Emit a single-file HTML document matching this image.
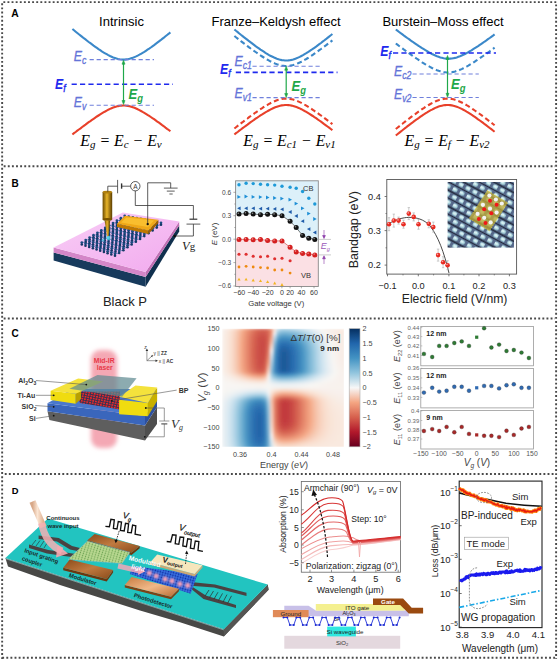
<!DOCTYPE html>
<html><head><meta charset="utf-8">
<style>
html,body{margin:0;padding:0;background:#fff;width:559px;height:660px;overflow:hidden}
svg{display:block;font-family:"Liberation Sans",sans-serif}
.serif{font-family:"Liberation Serif",serif}
</style></head><body>
<svg width="559" height="660" viewBox="0 0 559 660">
<!-- frame -->
<g stroke="#4a4a4a" stroke-width="1.9" stroke-dasharray="1.9 2.212" fill="none">
<line x1="3.35" y1="2.15" x2="557" y2="2.15"/>
<line x1="2.2" y1="657.8" x2="557" y2="657.8"/>
<line x1="2.15" y1="3.35" x2="2.15" y2="659"/>
<line x1="556.1" y1="4.4" x2="556.1" y2="659"/>
<line x1="3.7" y1="166.3" x2="555" y2="166.3"/>
<line x1="3.7" y1="318.5" x2="555" y2="318.5"/>
<line x1="4.75" y1="474" x2="555" y2="474"/>
</g>
<!-- ============ PANEL A ============ -->
<g id="A">
<text x="11.2" y="16.8" font-size="10.3" font-weight="bold">A</text>
<text x="121.5" y="26" font-size="13" text-anchor="middle">Intrinsic</text>
<text x="276" y="26" font-size="13" text-anchor="middle">Franze&#8211;Keldysh effect</text>
<text x="443" y="26" font-size="13" text-anchor="middle">Burstein&#8211;Moss effect</text>
<polyline points="72.4,29.0 74.0,30.3 75.7,31.7 77.3,33.0 78.9,34.3 80.6,35.6 82.2,36.9 83.8,38.2 85.5,39.4 87.1,40.7 88.7,42.0 90.4,43.2 92.0,44.4 93.6,45.6 95.3,46.8 96.9,47.9 98.5,49.1 100.2,50.2 101.8,51.3 103.4,52.3 105.1,53.3 106.7,54.2 108.3,55.1 110.0,56.0 111.6,56.7 113.2,57.4 114.9,58.0 116.5,58.6 118.1,59.0 119.8,59.3 121.4,59.5 123.0,59.6 124.7,59.6 126.3,59.4 127.9,59.2 129.6,58.8 131.2,58.3 132.8,57.8 134.5,57.1 136.1,56.4 137.7,55.6 139.4,54.7 141.0,53.8 142.6,52.9 144.3,51.9 145.9,50.8 147.5,49.7 149.2,48.6 150.8,47.5 152.4,46.3 154.1,45.1 155.7,43.9 157.3,42.7 159.0,41.4 160.6,40.2 162.2,38.9 163.9,37.6 165.5,36.3 167.1,35.0 168.8,33.7 170.4,32.4" stroke="#3b88c9" stroke-width="2.1" fill="none"/>
<polyline points="72.4,134.5 74.0,133.2 75.7,132.0 77.3,130.7 78.9,129.5 80.6,128.3 82.2,127.0 83.8,125.8 85.5,124.6 87.1,123.4 88.7,122.2 90.4,121.1 92.0,119.9 93.6,118.8 95.3,117.6 96.9,116.5 98.5,115.5 100.2,114.4 101.8,113.4 103.4,112.4 105.1,111.5 106.7,110.6 108.3,109.7 110.0,108.9 111.6,108.2 113.2,107.6 114.9,107.0 116.5,106.5 118.1,106.1 119.8,105.8 121.4,105.6 123.0,105.5 124.7,105.5 126.3,105.7 127.9,105.9 129.6,106.2 131.2,106.7 132.8,107.2 134.5,107.8 136.1,108.5 137.7,109.3 139.4,110.1 141.0,111.0 142.6,111.9 144.3,112.8 145.9,113.8 147.5,114.9 149.2,115.9 150.8,117.0 152.4,118.1 154.1,119.2 155.7,120.4 157.3,121.6 159.0,122.7 160.6,123.9 162.2,125.1 163.9,126.3 165.5,127.6 167.1,128.8 168.8,130.0 170.4,131.3" stroke="#e8402a" stroke-width="2.1" fill="none"/>
<line x1="89.6" y1="59.6" x2="154" y2="59.6" stroke="#7080dc" stroke-width="1.1" stroke-dasharray="4.2 2.8"/>
<line x1="89.6" y1="105.2" x2="154" y2="105.2" stroke="#7080dc" stroke-width="1.1" stroke-dasharray="4.2 2.8"/>
<line x1="71.6" y1="84.3" x2="173" y2="84.3" stroke="#1f2aee" stroke-width="1.6" stroke-dasharray="5.2 3.2"/>
<text transform="translate(73.8,61.3) scale(0.88,1)" font-size="14" font-style="italic" fill="#6474d8" stroke="#6474d8" stroke-width="0.3">E<tspan font-size="10" dy="2.9">c</tspan></text>
<text transform="translate(73.8,106.8) scale(0.88,1)" font-size="14" font-style="italic" fill="#6474d8" stroke="#6474d8" stroke-width="0.3">E<tspan font-size="10" dy="2.9">v</tspan></text>
<text transform="translate(55,88.8) scale(0.88,1)" font-size="14" font-style="italic" font-weight="bold" fill="#1f2aee">E<tspan font-size="10" dy="2.9" font-weight="normal" stroke="#1f2aee" stroke-width="0.4">f</tspan></text>
<text transform="translate(128.5,98.7) scale(0.9,1)" font-size="14.5" font-style="italic" font-weight="bold" fill="#1fa84a">E<tspan font-size="10.5" dy="3">g</tspan></text>
<line x1="123.5" y1="63.2" x2="123.5" y2="101.5" stroke="#1fa84a" stroke-width="1.2"/>
<path d="M122.0,64.2 L123.5,60.2 L125.0,64.2 Z M122.0,100.5 L123.5,104.5 L125.0,100.5 Z" fill="#1fa84a" stroke="#1fa84a" stroke-width="0.6"/>
<text x="121" y="145.7" class="serif" font-size="15.8" font-style="italic" text-anchor="middle">E<tspan font-size="11" dy="2.7">g</tspan><tspan dy="-2.7"> = E</tspan><tspan font-size="11" dy="2.7">c</tspan><tspan dy="-2.7"> &#8722; E</tspan><tspan font-size="11" dy="2.7">v</tspan></text>
<polyline points="234.4,29.5 236.0,30.8 237.7,32.1 239.3,33.5 240.9,34.8 242.6,36.1 244.2,37.4 245.8,38.6 247.5,39.9 249.1,41.2 250.7,42.4 252.4,43.7 254.0,44.9 255.6,46.1 257.3,47.3 258.9,48.4 260.5,49.6 262.2,50.7 263.8,51.7 265.4,52.8 267.1,53.8 268.7,54.8 270.3,55.7 272.0,56.5 273.6,57.3 275.2,58.0 276.9,58.7 278.5,59.3 280.1,59.7 281.8,60.1 283.4,60.3 285.0,60.5 286.7,60.5 288.3,60.4 289.9,60.2 291.6,59.9 293.2,59.5 294.8,58.9 296.5,58.3 298.1,57.6 299.7,56.9 301.4,56.0 303.0,55.2 304.6,54.2 306.3,53.2 307.9,52.2 309.5,51.1 311.2,50.0 312.8,48.9 314.4,47.8 316.1,46.6 317.7,45.4 319.3,44.2 321.0,43.0 322.6,41.7 324.2,40.5 325.9,39.2 327.5,37.9 329.1,36.6 330.8,35.3 332.4,34.0" stroke="#3b88c9" stroke-width="2.1" fill="none"/>
<polyline points="234.4,36.0 236.0,37.3 237.7,38.6 239.3,39.8 240.9,41.1 242.6,42.4 244.2,43.6 245.8,44.8 247.5,46.1 249.1,47.3 250.7,48.5 252.4,49.7 254.0,50.9 255.6,52.0 257.3,53.2 258.9,54.3 260.5,55.4 262.2,56.5 263.8,57.5 265.4,58.5 267.1,59.5 268.7,60.4 270.3,61.3 272.0,62.2 273.6,62.9 275.2,63.6 276.9,64.3 278.5,64.8 280.1,65.2 281.8,65.6 283.4,65.8 285.0,66.0 286.7,66.0 288.3,65.9 289.9,65.7 291.6,65.4 293.2,65.0 294.8,64.5 296.5,63.9 298.1,63.2 299.7,62.5 301.4,61.7 303.0,60.8 304.6,59.9 306.3,59.0 307.9,58.0 309.5,56.9 311.2,55.9 312.8,54.8 314.4,53.7 316.1,52.5 317.7,51.4 319.3,50.2 321.0,49.0 322.6,47.8 324.2,46.6 325.9,45.4 327.5,44.1 329.1,42.9 330.8,41.6 332.4,40.4" stroke="#3b88c9" stroke-width="2.1" fill="none" stroke-dasharray="5 3"/>
<polyline points="234.4,134.5 236.0,133.2 237.7,132.0 239.3,130.7 240.9,129.5 242.6,128.2 244.2,127.0 245.8,125.8 247.5,124.6 249.1,123.4 250.7,122.2 252.4,121.0 254.0,119.9 255.6,118.7 257.3,117.6 258.9,116.5 260.5,115.4 262.2,114.4 263.8,113.3 265.4,112.3 267.1,111.4 268.7,110.5 270.3,109.6 272.0,108.8 273.6,108.0 275.2,107.3 276.9,106.7 278.5,106.2 280.1,105.7 281.8,105.4 283.4,105.2 285.0,105.0 286.7,105.0 288.3,105.1 289.9,105.3 291.6,105.6 293.2,106.0 294.8,106.5 296.5,107.1 298.1,107.7 299.7,108.4 301.4,109.2 303.0,110.1 304.6,111.0 306.3,111.9 307.9,112.9 309.5,113.9 311.2,115.0 312.8,116.0 314.4,117.1 316.1,118.2 317.7,119.4 319.3,120.5 321.0,121.7 322.6,122.9 324.2,124.1 325.9,125.3 327.5,126.5 329.1,127.7 330.8,129.0 332.4,130.2" stroke="#e8402a" stroke-width="2.1" fill="none"/>
<polyline points="234.4,128.5 236.0,127.2 237.7,125.9 239.3,124.7 240.9,123.4 242.6,122.2 244.2,120.9 245.8,119.7 247.5,118.5 249.1,117.2 250.7,116.0 252.4,114.8 254.0,113.7 255.6,112.5 257.3,111.4 258.9,110.2 260.5,109.2 262.2,108.1 263.8,107.0 265.4,106.0 267.1,105.1 268.7,104.1 270.3,103.3 272.0,102.4 273.6,101.7 275.2,101.0 276.9,100.3 278.5,99.8 280.1,99.4 281.8,99.0 283.4,98.8 285.0,98.6 286.7,98.6 288.3,98.7 289.9,98.9 291.6,99.2 293.2,99.6 294.8,100.1 296.5,100.7 298.1,101.4 299.7,102.1 301.4,102.9 303.0,103.8 304.6,104.7 306.3,105.6 307.9,106.6 309.5,107.6 311.2,108.7 312.8,109.8 314.4,110.9 316.1,112.0 317.7,113.2 319.3,114.3 321.0,115.5 322.6,116.7 324.2,117.9 325.9,119.2 327.5,120.4 329.1,121.6 330.8,122.9 332.4,124.1" stroke="#e8402a" stroke-width="2.1" fill="none" stroke-dasharray="5 3"/>
<line x1="252.5" y1="66.3" x2="320" y2="66.3" stroke="#7080dc" stroke-width="1.1" stroke-dasharray="4.2 2.8"/>
<line x1="252.5" y1="97.6" x2="320" y2="97.6" stroke="#7080dc" stroke-width="1.1" stroke-dasharray="4.2 2.8"/>
<line x1="235.8" y1="72.4" x2="337.5" y2="72.4" stroke="#1f2aee" stroke-width="1.6" stroke-dasharray="5.2 3.2"/>
<text transform="translate(234.5,66.1) scale(0.88,1)" font-size="14" font-style="italic" fill="#6474d8" stroke="#6474d8" stroke-width="0.3">E<tspan font-size="10" dy="2.9">c1</tspan></text>
<text transform="translate(234.5,98.3) scale(0.88,1)" font-size="14" font-style="italic" fill="#6474d8" stroke="#6474d8" stroke-width="0.3">E<tspan font-size="10" dy="2.9">v1</tspan></text>
<text transform="translate(220,74.3) scale(0.88,1)" font-size="14" font-style="italic" font-weight="bold" fill="#1f2aee">E<tspan font-size="10" dy="2.9" font-weight="normal" stroke="#1f2aee" stroke-width="0.4">f</tspan></text>
<text transform="translate(291.5,91.1) scale(0.9,1)" font-size="14.5" font-style="italic" font-weight="bold" fill="#1fa84a">E<tspan font-size="10.5" dy="3">g</tspan></text>
<line x1="286.2" y1="69.2" x2="286.2" y2="94.5" stroke="#1fa84a" stroke-width="1.2"/>
<path d="M284.7,70.2 L286.2,66.2 L287.7,70.2 Z M284.7,93.5 L286.2,97.5 L287.7,93.5 Z" fill="#1fa84a" stroke="#1fa84a" stroke-width="0.6"/>
<text x="289.5" y="145.7" class="serif" font-size="15.8" font-style="italic" text-anchor="middle">E<tspan font-size="11" dy="2.7">g</tspan><tspan dy="-2.7"> = E</tspan><tspan font-size="11" dy="2.7">c1</tspan><tspan dy="-2.7"> &#8722; E</tspan><tspan font-size="11" dy="2.7">v1</tspan></text>
<polyline points="395.8,29.5 397.4,30.7 399.1,32.0 400.7,33.2 402.4,34.4 404.0,35.6 405.7,36.8 407.3,38.0 409.0,39.2 410.6,40.4 412.3,41.5 413.9,42.7 415.6,43.8 417.2,44.9 418.9,46.0 420.5,47.1 422.1,48.2 423.8,49.2 425.4,50.2 427.1,51.2 428.7,52.2 430.4,53.1 432.0,54.0 433.7,54.8 435.3,55.5 437.0,56.2 438.6,56.8 440.3,57.4 441.9,57.8 443.6,58.2 445.2,58.5 446.8,58.6 448.5,58.7 450.1,58.6 451.8,58.5 453.4,58.2 455.1,57.9 456.7,57.4 458.4,56.8 460.0,56.2 461.7,55.5 463.3,54.8 465.0,54.0 466.6,53.1 468.3,52.2 469.9,51.2 471.5,50.3 473.2,49.2 474.8,48.2 476.5,47.1 478.1,46.1 479.8,44.9 481.4,43.8 483.1,42.7 484.7,41.5 486.4,40.4 488.0,39.2 489.7,38.0 491.3,36.8 493.0,35.6 494.6,34.4" stroke="#3b88c9" stroke-width="2.1" fill="none"/>
<polyline points="395.8,43.5 397.4,44.7 399.1,46.0 400.7,47.2 402.4,48.4 404.0,49.6 405.7,50.8 407.3,52.0 409.0,53.2 410.6,54.4 412.3,55.6 413.9,56.7 415.6,57.9 417.2,59.0 418.9,60.1 420.5,61.2 422.1,62.3 423.8,63.3 425.4,64.3 427.1,65.3 428.7,66.2 430.4,67.1 432.0,68.0 433.7,68.8 435.3,69.5 437.0,70.2 438.6,70.8 440.3,71.3 441.9,71.8 443.6,72.1 445.2,72.3 446.8,72.5 448.5,72.5 450.1,72.4 451.8,72.2 453.4,71.9 455.1,71.5 456.7,71.0 458.4,70.5 460.0,69.8 461.7,69.1 463.3,68.3 465.0,67.5 466.6,66.6 468.3,65.7 469.9,64.7 471.5,63.7 473.2,62.7 474.8,61.6 476.5,60.5 478.1,59.4 479.8,58.3 481.4,57.2 483.1,56.0 484.7,54.9 486.4,53.7 488.0,52.5 489.7,51.3 491.3,50.1 493.0,48.9 494.6,47.7" stroke="#3b88c9" stroke-width="2.1" fill="none" stroke-dasharray="5 3"/>
<polyline points="395.8,135.5 397.4,134.2 399.1,132.9 400.7,131.6 402.4,130.3 404.0,129.0 405.7,127.7 407.3,126.4 409.0,125.1 410.6,123.9 412.3,122.7 413.9,121.4 415.6,120.2 417.2,119.0 418.9,117.9 420.5,116.7 422.1,115.6 423.8,114.5 425.4,113.4 427.1,112.4 428.7,111.4 430.4,110.4 432.0,109.6 433.7,108.7 435.3,107.9 437.0,107.2 438.6,106.6 440.3,106.1 441.9,105.7 443.6,105.3 445.2,105.1 446.8,105.0 448.5,105.0 450.1,105.1 451.8,105.4 453.4,105.7 455.1,106.2 456.7,106.7 458.4,107.4 460.0,108.1 461.7,108.9 463.3,109.7 465.0,110.6 466.6,111.6 468.3,112.6 469.9,113.6 471.5,114.7 473.2,115.8 474.8,116.9 476.5,118.1 478.1,119.3 479.8,120.5 481.4,121.7 483.1,122.9 484.7,124.2 486.4,125.4 488.0,126.7 489.7,128.0 491.3,129.2 493.0,130.5 494.6,131.8" stroke="#e8402a" stroke-width="2.1" fill="none"/>
<polyline points="395.8,129.0 397.4,127.7 399.1,126.4 400.7,125.1 402.4,123.8 404.0,122.5 405.7,121.2 407.3,119.9 409.0,118.7 410.6,117.4 412.3,116.2 413.9,115.0 415.6,113.8 417.2,112.6 418.9,111.4 420.5,110.3 422.1,109.1 423.8,108.1 425.4,107.0 427.1,106.0 428.7,105.0 430.4,104.0 432.0,103.1 433.7,102.3 435.3,101.5 437.0,100.8 438.6,100.2 440.3,99.7 441.9,99.3 443.6,98.9 445.2,98.7 446.8,98.6 448.5,98.6 450.1,98.7 451.8,99.0 453.4,99.3 455.1,99.8 456.7,100.3 458.4,101.0 460.0,101.7 461.7,102.5 463.3,103.3 465.0,104.2 466.6,105.2 468.3,106.2 469.9,107.2 471.5,108.3 473.2,109.4 474.8,110.5 476.5,111.7 478.1,112.8 479.8,114.0 481.4,115.2 483.1,116.5 484.7,117.7 486.4,118.9 488.0,120.2 489.7,121.5 491.3,122.8 493.0,124.0 494.6,125.3" stroke="#e8402a" stroke-width="2.1" fill="none" stroke-dasharray="5 3"/>
<line x1="412.5" y1="74" x2="478.8" y2="74" stroke="#7080dc" stroke-width="1.1" stroke-dasharray="4.2 2.8"/>
<line x1="412.5" y1="97.5" x2="478.8" y2="97.5" stroke="#7080dc" stroke-width="1.1" stroke-dasharray="4.2 2.8"/>
<line x1="393" y1="53" x2="496" y2="53" stroke="#1f2aee" stroke-width="1.6" stroke-dasharray="5.2 3.2"/>
<text transform="translate(394,75.8) scale(0.88,1)" font-size="14" font-style="italic" fill="#6474d8" stroke="#6474d8" stroke-width="0.3">E<tspan font-size="10" dy="2.9">c2</tspan></text>
<text transform="translate(394,99) scale(0.88,1)" font-size="14" font-style="italic" fill="#6474d8" stroke="#6474d8" stroke-width="0.3">E<tspan font-size="10" dy="2.9">v2</tspan></text>
<text transform="translate(380.2,56.2) scale(0.88,1)" font-size="14" font-style="italic" font-weight="bold" fill="#1f2aee">E<tspan font-size="10" dy="2.9" font-weight="normal" stroke="#1f2aee" stroke-width="0.4">f</tspan></text>
<text transform="translate(451,89.2) scale(0.9,1)" font-size="14.5" font-style="italic" font-weight="bold" fill="#1fa84a">E<tspan font-size="10.5" dy="3">g</tspan></text>
<line x1="447.5" y1="58.5" x2="447.5" y2="94.3" stroke="#1fa84a" stroke-width="1.2"/>
<path d="M446.0,59.5 L447.5,55.5 L449.0,59.5 Z M446.0,93.3 L447.5,97.3 L449.0,93.3 Z" fill="#1fa84a" stroke="#1fa84a" stroke-width="0.6"/>
<text x="447" y="145.7" class="serif" font-size="15.8" font-style="italic" text-anchor="middle">E<tspan font-size="11" dy="2.7">g</tspan><tspan dy="-2.7"> = E</tspan><tspan font-size="11" dy="2.7">f</tspan><tspan dy="-2.7"> &#8722; E</tspan><tspan font-size="11" dy="2.7">v2</tspan></text>
</g>
<!-- ============ PANEL B ============ -->
<g id="B">
<text x="11.6" y="187" font-size="10" font-weight="bold">B</text>
<defs>
<linearGradient id="pinkTop" x1="0" y1="0" x2="1" y2="1">
<stop offset="0" stop-color="#f8cef6"/><stop offset="1" stop-color="#f2aaee"/></linearGradient>
<linearGradient id="goldTip" x1="0" y1="0" x2="1" y2="0">
<stop offset="0" stop-color="#6b4a00"/><stop offset="0.45" stop-color="#e8b52a"/><stop offset="1" stop-color="#5a3c00"/></linearGradient>
</defs>
<polygon points="53.6,252.4 145.6,277 145.6,286.7 53.6,260.5" fill="#173a5c"/>
<polygon points="145.6,277 179.2,225.5 179.2,231.5 145.6,286.7" fill="#10304e"/>
<polygon points="53.6,247.4 145.6,272 145.6,277 53.6,252.4" fill="#d486c8"/>
<polygon points="145.6,272 179.2,221.6 179.2,225.5 145.6,277" fill="#c070b4"/>
<polygon points="53.6,247.4 122.8,212.5 179.2,221.6 145.6,272" fill="url(#pinkTop)"/>
<line x1="81.8" y1="242.6" x2="85.7" y2="242.0" stroke="#2a6aa8" stroke-width="0.6"/><line x1="81.8" y1="242.6" x2="81.8" y2="244.4" stroke="#3a88c0" stroke-width="0.9"/><circle cx="81.8" cy="242.5" r="1.35" fill="#1b4a80"/><circle cx="81.8" cy="244.5" r="1.3" fill="#143866"/><line x1="85.7" y1="240.2" x2="89.6" y2="239.5" stroke="#2a6aa8" stroke-width="0.6"/><line x1="85.7" y1="240.2" x2="85.7" y2="242.0" stroke="#3a88c0" stroke-width="0.9"/><circle cx="85.7" cy="240.1" r="1.35" fill="#1b4a80"/><circle cx="85.7" cy="242.1" r="1.3" fill="#143866"/><line x1="89.6" y1="237.7" x2="93.5" y2="237.1" stroke="#2a6aa8" stroke-width="0.6"/><line x1="89.6" y1="237.7" x2="89.6" y2="239.5" stroke="#3a88c0" stroke-width="0.9"/><circle cx="89.6" cy="237.6" r="1.35" fill="#1b4a80"/><circle cx="89.6" cy="239.6" r="1.3" fill="#143866"/><line x1="93.5" y1="235.3" x2="97.4" y2="234.7" stroke="#2a6aa8" stroke-width="0.6"/><line x1="93.5" y1="235.3" x2="93.5" y2="237.1" stroke="#3a88c0" stroke-width="0.9"/><circle cx="93.5" cy="235.2" r="1.35" fill="#1b4a80"/><circle cx="93.5" cy="237.2" r="1.3" fill="#143866"/><line x1="97.4" y1="232.9" x2="101.3" y2="232.3" stroke="#2a6aa8" stroke-width="0.6"/><line x1="97.4" y1="232.9" x2="97.4" y2="234.7" stroke="#3a88c0" stroke-width="0.9"/><circle cx="97.4" cy="232.8" r="1.35" fill="#1b4a80"/><circle cx="97.4" cy="234.8" r="1.3" fill="#143866"/><line x1="101.3" y1="230.5" x2="105.2" y2="229.8" stroke="#2a6aa8" stroke-width="0.6"/><line x1="101.3" y1="230.5" x2="101.3" y2="232.3" stroke="#3a88c0" stroke-width="0.9"/><circle cx="101.3" cy="230.4" r="1.35" fill="#1b4a80"/><circle cx="101.3" cy="232.4" r="1.3" fill="#143866"/><line x1="105.2" y1="228.0" x2="109.1" y2="227.4" stroke="#2a6aa8" stroke-width="0.6"/><line x1="105.2" y1="228.0" x2="105.2" y2="229.8" stroke="#3a88c0" stroke-width="0.9"/><circle cx="105.2" cy="227.9" r="1.35" fill="#1b4a80"/><circle cx="105.2" cy="229.9" r="1.3" fill="#143866"/><line x1="109.1" y1="225.6" x2="113.0" y2="225.0" stroke="#2a6aa8" stroke-width="0.6"/><line x1="109.1" y1="225.6" x2="109.1" y2="227.4" stroke="#3a88c0" stroke-width="0.9"/><circle cx="109.1" cy="225.5" r="1.35" fill="#1b4a80"/><circle cx="109.1" cy="227.5" r="1.3" fill="#143866"/><line x1="113.0" y1="223.2" x2="116.9" y2="222.6" stroke="#2a6aa8" stroke-width="0.6"/><line x1="113.0" y1="223.2" x2="113.0" y2="225.0" stroke="#3a88c0" stroke-width="0.9"/><circle cx="113.0" cy="223.1" r="1.35" fill="#1b4a80"/><circle cx="113.0" cy="225.1" r="1.3" fill="#143866"/><line x1="116.9" y1="220.8" x2="120.8" y2="220.1" stroke="#2a6aa8" stroke-width="0.6"/><line x1="116.9" y1="220.8" x2="116.9" y2="222.6" stroke="#3a88c0" stroke-width="0.9"/><circle cx="116.9" cy="220.7" r="1.35" fill="#1b4a80"/><circle cx="116.9" cy="222.7" r="1.3" fill="#143866"/><line x1="120.8" y1="218.3" x2="124.7" y2="217.7" stroke="#2a6aa8" stroke-width="0.6"/><line x1="120.8" y1="218.3" x2="120.8" y2="220.1" stroke="#3a88c0" stroke-width="0.9"/><circle cx="120.8" cy="218.2" r="1.35" fill="#1b4a80"/><circle cx="120.8" cy="220.2" r="1.3" fill="#143866"/><line x1="124.7" y1="215.9" x2="124.7" y2="217.7" stroke="#3a88c0" stroke-width="0.9"/><circle cx="124.7" cy="215.8" r="1.35" fill="#1b4a80"/><circle cx="124.7" cy="217.8" r="1.3" fill="#143866"/><line x1="85.5" y1="243.9" x2="89.4" y2="243.2" stroke="#2a6aa8" stroke-width="0.6"/><line x1="85.5" y1="243.9" x2="85.5" y2="245.7" stroke="#3a88c0" stroke-width="0.9"/><circle cx="85.5" cy="243.8" r="1.35" fill="#1b4a80"/><circle cx="85.5" cy="245.8" r="1.3" fill="#143866"/><line x1="89.4" y1="241.4" x2="93.4" y2="240.7" stroke="#2a6aa8" stroke-width="0.6"/><line x1="89.4" y1="241.4" x2="89.4" y2="243.2" stroke="#3a88c0" stroke-width="0.9"/><circle cx="89.4" cy="241.3" r="1.35" fill="#1b4a80"/><circle cx="89.4" cy="243.3" r="1.3" fill="#143866"/><line x1="93.4" y1="238.9" x2="97.3" y2="238.2" stroke="#2a6aa8" stroke-width="0.6"/><line x1="93.4" y1="238.9" x2="93.4" y2="240.7" stroke="#3a88c0" stroke-width="0.9"/><circle cx="93.4" cy="238.8" r="1.35" fill="#1b4a80"/><circle cx="93.4" cy="240.8" r="1.3" fill="#143866"/><line x1="97.3" y1="236.4" x2="101.2" y2="235.8" stroke="#2a6aa8" stroke-width="0.6"/><line x1="97.3" y1="236.4" x2="97.3" y2="238.2" stroke="#3a88c0" stroke-width="0.9"/><circle cx="97.3" cy="236.3" r="1.35" fill="#1b4a80"/><circle cx="97.3" cy="238.3" r="1.3" fill="#143866"/><line x1="101.2" y1="234.0" x2="105.1" y2="233.3" stroke="#2a6aa8" stroke-width="0.6"/><line x1="101.2" y1="234.0" x2="101.2" y2="235.8" stroke="#3a88c0" stroke-width="0.9"/><circle cx="101.2" cy="233.9" r="1.35" fill="#1b4a80"/><circle cx="101.2" cy="235.9" r="1.3" fill="#143866"/><line x1="105.1" y1="231.5" x2="109.1" y2="230.8" stroke="#2a6aa8" stroke-width="0.6"/><line x1="105.1" y1="231.5" x2="105.1" y2="233.3" stroke="#3a88c0" stroke-width="0.9"/><circle cx="105.1" cy="231.4" r="1.35" fill="#1b4a80"/><circle cx="105.1" cy="233.4" r="1.3" fill="#143866"/><line x1="109.1" y1="229.0" x2="113.0" y2="228.4" stroke="#2a6aa8" stroke-width="0.6"/><line x1="109.1" y1="229.0" x2="109.1" y2="230.8" stroke="#3a88c0" stroke-width="0.9"/><circle cx="109.1" cy="228.9" r="1.35" fill="#1b4a80"/><circle cx="109.1" cy="230.9" r="1.3" fill="#143866"/><line x1="113.0" y1="226.6" x2="116.9" y2="225.9" stroke="#2a6aa8" stroke-width="0.6"/><line x1="113.0" y1="226.6" x2="113.0" y2="228.4" stroke="#3a88c0" stroke-width="0.9"/><circle cx="113.0" cy="226.5" r="1.35" fill="#1b4a80"/><circle cx="113.0" cy="228.5" r="1.3" fill="#143866"/><line x1="116.9" y1="224.1" x2="120.9" y2="223.4" stroke="#2a6aa8" stroke-width="0.6"/><line x1="116.9" y1="224.1" x2="116.9" y2="225.9" stroke="#3a88c0" stroke-width="0.9"/><circle cx="116.9" cy="224.0" r="1.35" fill="#1b4a80"/><circle cx="116.9" cy="226.0" r="1.3" fill="#143866"/><line x1="120.9" y1="221.6" x2="124.8" y2="220.9" stroke="#2a6aa8" stroke-width="0.6"/><line x1="120.9" y1="221.6" x2="120.9" y2="223.4" stroke="#3a88c0" stroke-width="0.9"/><circle cx="120.9" cy="221.5" r="1.35" fill="#1b4a80"/><circle cx="120.9" cy="223.5" r="1.3" fill="#143866"/><line x1="124.8" y1="219.1" x2="128.7" y2="218.5" stroke="#2a6aa8" stroke-width="0.6"/><line x1="124.8" y1="219.1" x2="124.8" y2="220.9" stroke="#3a88c0" stroke-width="0.9"/><circle cx="124.8" cy="219.0" r="1.35" fill="#1b4a80"/><circle cx="124.8" cy="221.0" r="1.3" fill="#143866"/><line x1="128.7" y1="216.7" x2="128.7" y2="218.5" stroke="#3a88c0" stroke-width="0.9"/><circle cx="128.7" cy="216.6" r="1.35" fill="#1b4a80"/><circle cx="128.7" cy="218.6" r="1.3" fill="#143866"/><line x1="89.2" y1="245.1" x2="93.1" y2="244.4" stroke="#2a6aa8" stroke-width="0.6"/><line x1="89.2" y1="245.1" x2="89.2" y2="246.9" stroke="#3a88c0" stroke-width="0.9"/><circle cx="89.2" cy="245.0" r="1.35" fill="#1b4a80"/><circle cx="89.2" cy="247.0" r="1.3" fill="#143866"/><line x1="93.1" y1="242.6" x2="97.1" y2="241.9" stroke="#2a6aa8" stroke-width="0.6"/><line x1="93.1" y1="242.6" x2="93.1" y2="244.4" stroke="#3a88c0" stroke-width="0.9"/><circle cx="93.1" cy="242.5" r="1.35" fill="#1b4a80"/><circle cx="93.1" cy="244.5" r="1.3" fill="#143866"/><line x1="97.1" y1="240.1" x2="101.1" y2="239.4" stroke="#2a6aa8" stroke-width="0.6"/><line x1="97.1" y1="240.1" x2="97.1" y2="241.9" stroke="#3a88c0" stroke-width="0.9"/><circle cx="97.1" cy="240.0" r="1.35" fill="#1b4a80"/><circle cx="97.1" cy="242.0" r="1.3" fill="#143866"/><line x1="101.1" y1="237.6" x2="105.0" y2="236.9" stroke="#2a6aa8" stroke-width="0.6"/><line x1="101.1" y1="237.6" x2="101.1" y2="239.4" stroke="#3a88c0" stroke-width="0.9"/><circle cx="101.1" cy="237.5" r="1.35" fill="#1b4a80"/><circle cx="101.1" cy="239.5" r="1.3" fill="#143866"/><line x1="105.0" y1="235.1" x2="109.0" y2="234.3" stroke="#2a6aa8" stroke-width="0.6"/><line x1="105.0" y1="235.1" x2="105.0" y2="236.9" stroke="#3a88c0" stroke-width="0.9"/><circle cx="105.0" cy="235.0" r="1.35" fill="#1b4a80"/><circle cx="105.0" cy="237.0" r="1.3" fill="#143866"/><line x1="109.0" y1="232.5" x2="113.0" y2="231.8" stroke="#2a6aa8" stroke-width="0.6"/><line x1="109.0" y1="232.5" x2="109.0" y2="234.3" stroke="#3a88c0" stroke-width="0.9"/><circle cx="109.0" cy="232.4" r="1.35" fill="#1b4a80"/><circle cx="109.0" cy="234.4" r="1.3" fill="#143866"/><line x1="113.0" y1="230.0" x2="116.9" y2="229.3" stroke="#2a6aa8" stroke-width="0.6"/><line x1="113.0" y1="230.0" x2="113.0" y2="231.8" stroke="#3a88c0" stroke-width="0.9"/><circle cx="113.0" cy="229.9" r="1.35" fill="#1b4a80"/><circle cx="113.0" cy="231.9" r="1.3" fill="#143866"/><line x1="116.9" y1="227.5" x2="120.9" y2="226.8" stroke="#2a6aa8" stroke-width="0.6"/><line x1="116.9" y1="227.5" x2="116.9" y2="229.3" stroke="#3a88c0" stroke-width="0.9"/><circle cx="116.9" cy="227.4" r="1.35" fill="#1b4a80"/><circle cx="116.9" cy="229.4" r="1.3" fill="#143866"/><line x1="120.9" y1="225.0" x2="124.8" y2="224.3" stroke="#2a6aa8" stroke-width="0.6"/><line x1="120.9" y1="225.0" x2="120.9" y2="226.8" stroke="#3a88c0" stroke-width="0.9"/><circle cx="120.9" cy="224.9" r="1.35" fill="#1b4a80"/><circle cx="120.9" cy="226.9" r="1.3" fill="#143866"/><line x1="124.8" y1="222.5" x2="128.8" y2="221.8" stroke="#2a6aa8" stroke-width="0.6"/><line x1="124.8" y1="222.5" x2="124.8" y2="224.3" stroke="#3a88c0" stroke-width="0.9"/><circle cx="124.8" cy="222.4" r="1.35" fill="#1b4a80"/><circle cx="124.8" cy="224.4" r="1.3" fill="#143866"/><line x1="128.8" y1="220.0" x2="132.8" y2="219.3" stroke="#2a6aa8" stroke-width="0.6"/><line x1="128.8" y1="220.0" x2="128.8" y2="221.8" stroke="#3a88c0" stroke-width="0.9"/><circle cx="128.8" cy="219.9" r="1.35" fill="#1b4a80"/><circle cx="128.8" cy="221.9" r="1.3" fill="#143866"/><line x1="132.8" y1="217.5" x2="132.8" y2="219.3" stroke="#3a88c0" stroke-width="0.9"/><circle cx="132.8" cy="217.4" r="1.35" fill="#1b4a80"/><circle cx="132.8" cy="219.4" r="1.3" fill="#143866"/><line x1="92.9" y1="246.4" x2="96.9" y2="245.6" stroke="#2a6aa8" stroke-width="0.6"/><line x1="92.9" y1="246.4" x2="92.9" y2="248.2" stroke="#3a88c0" stroke-width="0.9"/><circle cx="92.9" cy="246.3" r="1.35" fill="#1b4a80"/><circle cx="92.9" cy="248.3" r="1.3" fill="#143866"/><line x1="96.9" y1="243.8" x2="100.9" y2="243.1" stroke="#2a6aa8" stroke-width="0.6"/><line x1="96.9" y1="243.8" x2="96.9" y2="245.6" stroke="#3a88c0" stroke-width="0.9"/><circle cx="96.9" cy="243.7" r="1.35" fill="#1b4a80"/><circle cx="96.9" cy="245.7" r="1.3" fill="#143866"/><line x1="100.9" y1="241.3" x2="104.8" y2="240.5" stroke="#2a6aa8" stroke-width="0.6"/><line x1="100.9" y1="241.3" x2="100.9" y2="243.1" stroke="#3a88c0" stroke-width="0.9"/><circle cx="100.9" cy="241.2" r="1.35" fill="#1b4a80"/><circle cx="100.9" cy="243.2" r="1.3" fill="#143866"/><line x1="104.8" y1="238.7" x2="108.8" y2="237.9" stroke="#2a6aa8" stroke-width="0.6"/><line x1="104.8" y1="238.7" x2="104.8" y2="240.5" stroke="#3a88c0" stroke-width="0.9"/><circle cx="104.8" cy="238.6" r="1.35" fill="#1b4a80"/><circle cx="104.8" cy="240.6" r="1.3" fill="#143866"/><line x1="108.8" y1="236.1" x2="112.8" y2="235.4" stroke="#2a6aa8" stroke-width="0.6"/><line x1="108.8" y1="236.1" x2="108.8" y2="237.9" stroke="#3a88c0" stroke-width="0.9"/><circle cx="108.8" cy="236.0" r="1.35" fill="#1b4a80"/><circle cx="108.8" cy="238.0" r="1.3" fill="#143866"/><line x1="112.8" y1="233.6" x2="116.8" y2="232.8" stroke="#2a6aa8" stroke-width="0.6"/><line x1="112.8" y1="233.6" x2="112.8" y2="235.4" stroke="#3a88c0" stroke-width="0.9"/><circle cx="112.8" cy="233.5" r="1.35" fill="#1b4a80"/><circle cx="112.8" cy="235.5" r="1.3" fill="#143866"/><line x1="116.8" y1="231.0" x2="120.8" y2="230.3" stroke="#2a6aa8" stroke-width="0.6"/><line x1="116.8" y1="231.0" x2="116.8" y2="232.8" stroke="#3a88c0" stroke-width="0.9"/><circle cx="116.8" cy="230.9" r="1.35" fill="#1b4a80"/><circle cx="116.8" cy="232.9" r="1.3" fill="#143866"/><line x1="120.8" y1="228.5" x2="124.8" y2="227.7" stroke="#2a6aa8" stroke-width="0.6"/><line x1="120.8" y1="228.5" x2="120.8" y2="230.3" stroke="#3a88c0" stroke-width="0.9"/><circle cx="120.8" cy="228.4" r="1.35" fill="#1b4a80"/><circle cx="120.8" cy="230.4" r="1.3" fill="#143866"/><line x1="124.8" y1="225.9" x2="128.8" y2="225.1" stroke="#2a6aa8" stroke-width="0.6"/><line x1="124.8" y1="225.9" x2="124.8" y2="227.7" stroke="#3a88c0" stroke-width="0.9"/><circle cx="124.8" cy="225.8" r="1.35" fill="#1b4a80"/><circle cx="124.8" cy="227.8" r="1.3" fill="#143866"/><line x1="128.8" y1="223.3" x2="132.8" y2="222.6" stroke="#2a6aa8" stroke-width="0.6"/><line x1="128.8" y1="223.3" x2="128.8" y2="225.1" stroke="#3a88c0" stroke-width="0.9"/><circle cx="128.8" cy="223.2" r="1.35" fill="#1b4a80"/><circle cx="128.8" cy="225.2" r="1.3" fill="#143866"/><line x1="132.8" y1="220.8" x2="136.8" y2="220.0" stroke="#2a6aa8" stroke-width="0.6"/><line x1="132.8" y1="220.8" x2="132.8" y2="222.6" stroke="#3a88c0" stroke-width="0.9"/><circle cx="132.8" cy="220.7" r="1.35" fill="#1b4a80"/><circle cx="132.8" cy="222.7" r="1.3" fill="#143866"/><line x1="136.8" y1="218.2" x2="136.8" y2="220.0" stroke="#3a88c0" stroke-width="0.9"/><circle cx="136.8" cy="218.1" r="1.35" fill="#1b4a80"/><circle cx="136.8" cy="220.1" r="1.3" fill="#143866"/><line x1="96.6" y1="247.6" x2="100.6" y2="246.8" stroke="#2a6aa8" stroke-width="0.6"/><line x1="96.6" y1="247.6" x2="96.6" y2="249.4" stroke="#3a88c0" stroke-width="0.9"/><circle cx="96.6" cy="247.5" r="1.35" fill="#1b4a80"/><circle cx="96.6" cy="249.5" r="1.3" fill="#143866"/><line x1="100.6" y1="245.0" x2="104.6" y2="244.2" stroke="#2a6aa8" stroke-width="0.6"/><line x1="100.6" y1="245.0" x2="100.6" y2="246.8" stroke="#3a88c0" stroke-width="0.9"/><circle cx="100.6" cy="244.9" r="1.35" fill="#1b4a80"/><circle cx="100.6" cy="246.9" r="1.3" fill="#143866"/><line x1="104.6" y1="242.4" x2="108.6" y2="241.6" stroke="#2a6aa8" stroke-width="0.6"/><line x1="104.6" y1="242.4" x2="104.6" y2="244.2" stroke="#3a88c0" stroke-width="0.9"/><circle cx="104.6" cy="242.3" r="1.35" fill="#1b4a80"/><circle cx="104.6" cy="244.3" r="1.3" fill="#143866"/><line x1="108.6" y1="239.8" x2="112.7" y2="239.0" stroke="#2a6aa8" stroke-width="0.6"/><line x1="108.6" y1="239.8" x2="108.6" y2="241.6" stroke="#3a88c0" stroke-width="0.9"/><circle cx="108.6" cy="239.7" r="1.35" fill="#1b4a80"/><circle cx="108.6" cy="241.7" r="1.3" fill="#143866"/><line x1="112.7" y1="237.2" x2="116.7" y2="236.4" stroke="#2a6aa8" stroke-width="0.6"/><line x1="112.7" y1="237.2" x2="112.7" y2="239.0" stroke="#3a88c0" stroke-width="0.9"/><circle cx="112.7" cy="237.1" r="1.35" fill="#1b4a80"/><circle cx="112.7" cy="239.1" r="1.3" fill="#143866"/><line x1="116.7" y1="234.6" x2="120.7" y2="233.8" stroke="#2a6aa8" stroke-width="0.6"/><line x1="116.7" y1="234.6" x2="116.7" y2="236.4" stroke="#3a88c0" stroke-width="0.9"/><circle cx="116.7" cy="234.5" r="1.35" fill="#1b4a80"/><circle cx="116.7" cy="236.5" r="1.3" fill="#143866"/><line x1="120.7" y1="232.0" x2="124.7" y2="231.2" stroke="#2a6aa8" stroke-width="0.6"/><line x1="120.7" y1="232.0" x2="120.7" y2="233.8" stroke="#3a88c0" stroke-width="0.9"/><circle cx="120.7" cy="231.9" r="1.35" fill="#1b4a80"/><circle cx="120.7" cy="233.9" r="1.3" fill="#143866"/><line x1="124.7" y1="229.4" x2="128.8" y2="228.6" stroke="#2a6aa8" stroke-width="0.6"/><line x1="124.7" y1="229.4" x2="124.7" y2="231.2" stroke="#3a88c0" stroke-width="0.9"/><circle cx="124.7" cy="229.3" r="1.35" fill="#1b4a80"/><circle cx="124.7" cy="231.3" r="1.3" fill="#143866"/><line x1="128.8" y1="226.8" x2="132.8" y2="226.0" stroke="#2a6aa8" stroke-width="0.6"/><line x1="128.8" y1="226.8" x2="128.8" y2="228.6" stroke="#3a88c0" stroke-width="0.9"/><circle cx="128.8" cy="226.7" r="1.35" fill="#1b4a80"/><circle cx="128.8" cy="228.7" r="1.3" fill="#143866"/><line x1="132.8" y1="224.2" x2="136.8" y2="223.4" stroke="#2a6aa8" stroke-width="0.6"/><line x1="132.8" y1="224.2" x2="132.8" y2="226.0" stroke="#3a88c0" stroke-width="0.9"/><circle cx="132.8" cy="224.1" r="1.35" fill="#1b4a80"/><circle cx="132.8" cy="226.1" r="1.3" fill="#143866"/><line x1="136.8" y1="221.6" x2="140.8" y2="220.8" stroke="#2a6aa8" stroke-width="0.6"/><line x1="136.8" y1="221.6" x2="136.8" y2="223.4" stroke="#3a88c0" stroke-width="0.9"/><circle cx="136.8" cy="221.5" r="1.35" fill="#1b4a80"/><circle cx="136.8" cy="223.5" r="1.3" fill="#143866"/><line x1="140.8" y1="219.0" x2="140.8" y2="220.8" stroke="#3a88c0" stroke-width="0.9"/><circle cx="140.8" cy="218.9" r="1.35" fill="#1b4a80"/><circle cx="140.8" cy="220.9" r="1.3" fill="#143866"/><line x1="100.2" y1="248.9" x2="104.3" y2="248.0" stroke="#2a6aa8" stroke-width="0.6"/><line x1="100.2" y1="248.9" x2="100.2" y2="250.7" stroke="#3a88c0" stroke-width="0.9"/><circle cx="100.2" cy="248.8" r="1.35" fill="#1b4a80"/><circle cx="100.2" cy="250.8" r="1.3" fill="#143866"/><line x1="104.3" y1="246.2" x2="108.4" y2="245.4" stroke="#2a6aa8" stroke-width="0.6"/><line x1="104.3" y1="246.2" x2="104.3" y2="248.0" stroke="#3a88c0" stroke-width="0.9"/><circle cx="104.3" cy="246.1" r="1.35" fill="#1b4a80"/><circle cx="104.3" cy="248.1" r="1.3" fill="#143866"/><line x1="108.4" y1="243.6" x2="112.4" y2="242.7" stroke="#2a6aa8" stroke-width="0.6"/><line x1="108.4" y1="243.6" x2="108.4" y2="245.4" stroke="#3a88c0" stroke-width="0.9"/><circle cx="108.4" cy="243.5" r="1.35" fill="#1b4a80"/><circle cx="108.4" cy="245.5" r="1.3" fill="#143866"/><line x1="112.4" y1="240.9" x2="116.5" y2="240.1" stroke="#2a6aa8" stroke-width="0.6"/><line x1="112.4" y1="240.9" x2="112.4" y2="242.7" stroke="#3a88c0" stroke-width="0.9"/><circle cx="112.4" cy="240.8" r="1.35" fill="#1b4a80"/><circle cx="112.4" cy="242.8" r="1.3" fill="#143866"/><line x1="116.5" y1="238.3" x2="120.5" y2="237.5" stroke="#2a6aa8" stroke-width="0.6"/><line x1="116.5" y1="238.3" x2="116.5" y2="240.1" stroke="#3a88c0" stroke-width="0.9"/><circle cx="116.5" cy="238.2" r="1.35" fill="#1b4a80"/><circle cx="116.5" cy="240.2" r="1.3" fill="#143866"/><line x1="120.5" y1="235.7" x2="124.6" y2="234.8" stroke="#2a6aa8" stroke-width="0.6"/><line x1="120.5" y1="235.7" x2="120.5" y2="237.5" stroke="#3a88c0" stroke-width="0.9"/><circle cx="120.5" cy="235.6" r="1.35" fill="#1b4a80"/><circle cx="120.5" cy="237.6" r="1.3" fill="#143866"/><line x1="124.6" y1="233.0" x2="128.6" y2="232.2" stroke="#2a6aa8" stroke-width="0.6"/><line x1="124.6" y1="233.0" x2="124.6" y2="234.8" stroke="#3a88c0" stroke-width="0.9"/><circle cx="124.6" cy="232.9" r="1.35" fill="#1b4a80"/><circle cx="124.6" cy="234.9" r="1.3" fill="#143866"/><line x1="128.6" y1="230.4" x2="132.7" y2="229.5" stroke="#2a6aa8" stroke-width="0.6"/><line x1="128.6" y1="230.4" x2="128.6" y2="232.2" stroke="#3a88c0" stroke-width="0.9"/><circle cx="128.6" cy="230.3" r="1.35" fill="#1b4a80"/><circle cx="128.6" cy="232.3" r="1.3" fill="#143866"/><line x1="132.7" y1="227.7" x2="136.8" y2="226.9" stroke="#2a6aa8" stroke-width="0.6"/><line x1="132.7" y1="227.7" x2="132.7" y2="229.5" stroke="#3a88c0" stroke-width="0.9"/><circle cx="132.7" cy="227.6" r="1.35" fill="#1b4a80"/><circle cx="132.7" cy="229.6" r="1.3" fill="#143866"/><line x1="136.8" y1="225.1" x2="140.8" y2="224.2" stroke="#2a6aa8" stroke-width="0.6"/><line x1="136.8" y1="225.1" x2="136.8" y2="226.9" stroke="#3a88c0" stroke-width="0.9"/><circle cx="136.8" cy="225.0" r="1.35" fill="#1b4a80"/><circle cx="136.8" cy="227.0" r="1.3" fill="#143866"/><line x1="140.8" y1="222.4" x2="144.9" y2="221.6" stroke="#2a6aa8" stroke-width="0.6"/><line x1="140.8" y1="222.4" x2="140.8" y2="224.2" stroke="#3a88c0" stroke-width="0.9"/><circle cx="140.8" cy="222.3" r="1.35" fill="#1b4a80"/><circle cx="140.8" cy="224.3" r="1.3" fill="#143866"/><line x1="144.9" y1="219.8" x2="144.9" y2="221.6" stroke="#3a88c0" stroke-width="0.9"/><circle cx="144.9" cy="219.7" r="1.35" fill="#1b4a80"/><circle cx="144.9" cy="221.7" r="1.3" fill="#143866"/><line x1="103.9" y1="250.1" x2="108.0" y2="249.2" stroke="#2a6aa8" stroke-width="0.6"/><line x1="103.9" y1="250.1" x2="103.9" y2="251.9" stroke="#3a88c0" stroke-width="0.9"/><circle cx="103.9" cy="250.0" r="1.35" fill="#1b4a80"/><circle cx="103.9" cy="252.0" r="1.3" fill="#143866"/><line x1="108.0" y1="247.4" x2="112.1" y2="246.6" stroke="#2a6aa8" stroke-width="0.6"/><line x1="108.0" y1="247.4" x2="108.0" y2="249.2" stroke="#3a88c0" stroke-width="0.9"/><circle cx="108.0" cy="247.3" r="1.35" fill="#1b4a80"/><circle cx="108.0" cy="249.3" r="1.3" fill="#143866"/><line x1="112.1" y1="244.8" x2="116.2" y2="243.9" stroke="#2a6aa8" stroke-width="0.6"/><line x1="112.1" y1="244.8" x2="112.1" y2="246.6" stroke="#3a88c0" stroke-width="0.9"/><circle cx="112.1" cy="244.7" r="1.35" fill="#1b4a80"/><circle cx="112.1" cy="246.7" r="1.3" fill="#143866"/><line x1="116.2" y1="242.1" x2="120.3" y2="241.2" stroke="#2a6aa8" stroke-width="0.6"/><line x1="116.2" y1="242.1" x2="116.2" y2="243.9" stroke="#3a88c0" stroke-width="0.9"/><circle cx="116.2" cy="242.0" r="1.35" fill="#1b4a80"/><circle cx="116.2" cy="244.0" r="1.3" fill="#143866"/><line x1="120.3" y1="239.4" x2="124.4" y2="238.5" stroke="#2a6aa8" stroke-width="0.6"/><line x1="120.3" y1="239.4" x2="120.3" y2="241.2" stroke="#3a88c0" stroke-width="0.9"/><circle cx="120.3" cy="239.3" r="1.35" fill="#1b4a80"/><circle cx="120.3" cy="241.3" r="1.3" fill="#143866"/><line x1="124.4" y1="236.7" x2="128.5" y2="235.8" stroke="#2a6aa8" stroke-width="0.6"/><line x1="124.4" y1="236.7" x2="124.4" y2="238.5" stroke="#3a88c0" stroke-width="0.9"/><circle cx="124.4" cy="236.6" r="1.35" fill="#1b4a80"/><circle cx="124.4" cy="238.6" r="1.3" fill="#143866"/><line x1="128.5" y1="234.0" x2="132.5" y2="233.1" stroke="#2a6aa8" stroke-width="0.6"/><line x1="128.5" y1="234.0" x2="128.5" y2="235.8" stroke="#3a88c0" stroke-width="0.9"/><circle cx="128.5" cy="233.9" r="1.35" fill="#1b4a80"/><circle cx="128.5" cy="235.9" r="1.3" fill="#143866"/><line x1="132.5" y1="231.3" x2="136.6" y2="230.4" stroke="#2a6aa8" stroke-width="0.6"/><line x1="132.5" y1="231.3" x2="132.5" y2="233.1" stroke="#3a88c0" stroke-width="0.9"/><circle cx="132.5" cy="231.2" r="1.35" fill="#1b4a80"/><circle cx="132.5" cy="233.2" r="1.3" fill="#143866"/><line x1="136.6" y1="228.6" x2="140.7" y2="227.7" stroke="#2a6aa8" stroke-width="0.6"/><line x1="136.6" y1="228.6" x2="136.6" y2="230.4" stroke="#3a88c0" stroke-width="0.9"/><circle cx="136.6" cy="228.5" r="1.35" fill="#1b4a80"/><circle cx="136.6" cy="230.5" r="1.3" fill="#143866"/><line x1="140.7" y1="225.9" x2="144.8" y2="225.1" stroke="#2a6aa8" stroke-width="0.6"/><line x1="140.7" y1="225.9" x2="140.7" y2="227.7" stroke="#3a88c0" stroke-width="0.9"/><circle cx="140.7" cy="225.8" r="1.35" fill="#1b4a80"/><circle cx="140.7" cy="227.8" r="1.3" fill="#143866"/><line x1="144.8" y1="223.3" x2="148.9" y2="222.4" stroke="#2a6aa8" stroke-width="0.6"/><line x1="144.8" y1="223.3" x2="144.8" y2="225.1" stroke="#3a88c0" stroke-width="0.9"/><circle cx="144.8" cy="223.2" r="1.35" fill="#1b4a80"/><circle cx="144.8" cy="225.2" r="1.3" fill="#143866"/><line x1="148.9" y1="220.6" x2="148.9" y2="222.4" stroke="#3a88c0" stroke-width="0.9"/><circle cx="148.9" cy="220.5" r="1.35" fill="#1b4a80"/><circle cx="148.9" cy="222.5" r="1.3" fill="#143866"/><line x1="107.6" y1="251.4" x2="111.7" y2="250.5" stroke="#2a6aa8" stroke-width="0.6"/><line x1="107.6" y1="251.4" x2="107.6" y2="253.2" stroke="#3a88c0" stroke-width="0.9"/><circle cx="107.6" cy="251.3" r="1.35" fill="#1b4a80"/><circle cx="107.6" cy="253.3" r="1.3" fill="#143866"/><line x1="111.7" y1="248.7" x2="115.9" y2="247.7" stroke="#2a6aa8" stroke-width="0.6"/><line x1="111.7" y1="248.7" x2="111.7" y2="250.5" stroke="#3a88c0" stroke-width="0.9"/><circle cx="111.7" cy="248.6" r="1.35" fill="#1b4a80"/><circle cx="111.7" cy="250.6" r="1.3" fill="#143866"/><line x1="115.9" y1="245.9" x2="120.0" y2="245.0" stroke="#2a6aa8" stroke-width="0.6"/><line x1="115.9" y1="245.9" x2="115.9" y2="247.7" stroke="#3a88c0" stroke-width="0.9"/><circle cx="115.9" cy="245.8" r="1.35" fill="#1b4a80"/><circle cx="115.9" cy="247.8" r="1.3" fill="#143866"/><line x1="120.0" y1="243.2" x2="124.1" y2="242.3" stroke="#2a6aa8" stroke-width="0.6"/><line x1="120.0" y1="243.2" x2="120.0" y2="245.0" stroke="#3a88c0" stroke-width="0.9"/><circle cx="120.0" cy="243.1" r="1.35" fill="#1b4a80"/><circle cx="120.0" cy="245.1" r="1.3" fill="#143866"/><line x1="124.1" y1="240.5" x2="128.2" y2="239.5" stroke="#2a6aa8" stroke-width="0.6"/><line x1="124.1" y1="240.5" x2="124.1" y2="242.3" stroke="#3a88c0" stroke-width="0.9"/><circle cx="124.1" cy="240.4" r="1.35" fill="#1b4a80"/><circle cx="124.1" cy="242.4" r="1.3" fill="#143866"/><line x1="128.2" y1="237.7" x2="132.3" y2="236.8" stroke="#2a6aa8" stroke-width="0.6"/><line x1="128.2" y1="237.7" x2="128.2" y2="239.5" stroke="#3a88c0" stroke-width="0.9"/><circle cx="128.2" cy="237.6" r="1.35" fill="#1b4a80"/><circle cx="128.2" cy="239.6" r="1.3" fill="#143866"/><line x1="132.3" y1="235.0" x2="136.5" y2="234.1" stroke="#2a6aa8" stroke-width="0.6"/><line x1="132.3" y1="235.0" x2="132.3" y2="236.8" stroke="#3a88c0" stroke-width="0.9"/><circle cx="132.3" cy="234.9" r="1.35" fill="#1b4a80"/><circle cx="132.3" cy="236.9" r="1.3" fill="#143866"/><line x1="136.5" y1="232.3" x2="140.6" y2="231.3" stroke="#2a6aa8" stroke-width="0.6"/><line x1="136.5" y1="232.3" x2="136.5" y2="234.1" stroke="#3a88c0" stroke-width="0.9"/><circle cx="136.5" cy="232.2" r="1.35" fill="#1b4a80"/><circle cx="136.5" cy="234.2" r="1.3" fill="#143866"/><line x1="140.6" y1="229.5" x2="144.7" y2="228.6" stroke="#2a6aa8" stroke-width="0.6"/><line x1="140.6" y1="229.5" x2="140.6" y2="231.3" stroke="#3a88c0" stroke-width="0.9"/><circle cx="140.6" cy="229.4" r="1.35" fill="#1b4a80"/><circle cx="140.6" cy="231.4" r="1.3" fill="#143866"/><line x1="144.7" y1="226.8" x2="148.8" y2="225.9" stroke="#2a6aa8" stroke-width="0.6"/><line x1="144.7" y1="226.8" x2="144.7" y2="228.6" stroke="#3a88c0" stroke-width="0.9"/><circle cx="144.7" cy="226.7" r="1.35" fill="#1b4a80"/><circle cx="144.7" cy="228.7" r="1.3" fill="#143866"/><line x1="148.8" y1="224.1" x2="152.9" y2="223.1" stroke="#2a6aa8" stroke-width="0.6"/><line x1="148.8" y1="224.1" x2="148.8" y2="225.9" stroke="#3a88c0" stroke-width="0.9"/><circle cx="148.8" cy="224.0" r="1.35" fill="#1b4a80"/><circle cx="148.8" cy="226.0" r="1.3" fill="#143866"/><line x1="152.9" y1="221.3" x2="152.9" y2="223.1" stroke="#3a88c0" stroke-width="0.9"/><circle cx="152.9" cy="221.2" r="1.35" fill="#1b4a80"/><circle cx="152.9" cy="223.2" r="1.3" fill="#143866"/><line x1="111.3" y1="252.6" x2="115.5" y2="251.7" stroke="#2a6aa8" stroke-width="0.6"/><line x1="111.3" y1="252.6" x2="111.3" y2="254.4" stroke="#3a88c0" stroke-width="0.9"/><circle cx="111.3" cy="252.5" r="1.35" fill="#1b4a80"/><circle cx="111.3" cy="254.5" r="1.3" fill="#143866"/><line x1="115.5" y1="249.9" x2="119.6" y2="248.9" stroke="#2a6aa8" stroke-width="0.6"/><line x1="115.5" y1="249.9" x2="115.5" y2="251.7" stroke="#3a88c0" stroke-width="0.9"/><circle cx="115.5" cy="249.8" r="1.35" fill="#1b4a80"/><circle cx="115.5" cy="251.8" r="1.3" fill="#143866"/><line x1="119.6" y1="247.1" x2="123.8" y2="246.1" stroke="#2a6aa8" stroke-width="0.6"/><line x1="119.6" y1="247.1" x2="119.6" y2="248.9" stroke="#3a88c0" stroke-width="0.9"/><circle cx="119.6" cy="247.0" r="1.35" fill="#1b4a80"/><circle cx="119.6" cy="249.0" r="1.3" fill="#143866"/><line x1="123.8" y1="244.3" x2="127.9" y2="243.3" stroke="#2a6aa8" stroke-width="0.6"/><line x1="123.8" y1="244.3" x2="123.8" y2="246.1" stroke="#3a88c0" stroke-width="0.9"/><circle cx="123.8" cy="244.2" r="1.35" fill="#1b4a80"/><circle cx="123.8" cy="246.2" r="1.3" fill="#143866"/><line x1="127.9" y1="241.5" x2="132.1" y2="240.6" stroke="#2a6aa8" stroke-width="0.6"/><line x1="127.9" y1="241.5" x2="127.9" y2="243.3" stroke="#3a88c0" stroke-width="0.9"/><circle cx="127.9" cy="241.4" r="1.35" fill="#1b4a80"/><circle cx="127.9" cy="243.4" r="1.3" fill="#143866"/><line x1="132.1" y1="238.8" x2="136.2" y2="237.8" stroke="#2a6aa8" stroke-width="0.6"/><line x1="132.1" y1="238.8" x2="132.1" y2="240.6" stroke="#3a88c0" stroke-width="0.9"/><circle cx="132.1" cy="238.7" r="1.35" fill="#1b4a80"/><circle cx="132.1" cy="240.7" r="1.3" fill="#143866"/><line x1="136.2" y1="236.0" x2="140.4" y2="235.0" stroke="#2a6aa8" stroke-width="0.6"/><line x1="136.2" y1="236.0" x2="136.2" y2="237.8" stroke="#3a88c0" stroke-width="0.9"/><circle cx="136.2" cy="235.9" r="1.35" fill="#1b4a80"/><circle cx="136.2" cy="237.9" r="1.3" fill="#143866"/><line x1="140.4" y1="233.2" x2="144.5" y2="232.2" stroke="#2a6aa8" stroke-width="0.6"/><line x1="140.4" y1="233.2" x2="140.4" y2="235.0" stroke="#3a88c0" stroke-width="0.9"/><circle cx="140.4" cy="233.1" r="1.35" fill="#1b4a80"/><circle cx="140.4" cy="235.1" r="1.3" fill="#143866"/><line x1="144.5" y1="230.4" x2="148.7" y2="229.5" stroke="#2a6aa8" stroke-width="0.6"/><line x1="144.5" y1="230.4" x2="144.5" y2="232.2" stroke="#3a88c0" stroke-width="0.9"/><circle cx="144.5" cy="230.3" r="1.35" fill="#1b4a80"/><circle cx="144.5" cy="232.3" r="1.3" fill="#143866"/><line x1="148.7" y1="227.7" x2="152.8" y2="226.7" stroke="#2a6aa8" stroke-width="0.6"/><line x1="148.7" y1="227.7" x2="148.7" y2="229.5" stroke="#3a88c0" stroke-width="0.9"/><circle cx="148.7" cy="227.6" r="1.35" fill="#1b4a80"/><circle cx="148.7" cy="229.6" r="1.3" fill="#143866"/><line x1="152.8" y1="224.9" x2="157.0" y2="223.9" stroke="#2a6aa8" stroke-width="0.6"/><line x1="152.8" y1="224.9" x2="152.8" y2="226.7" stroke="#3a88c0" stroke-width="0.9"/><circle cx="152.8" cy="224.8" r="1.35" fill="#1b4a80"/><circle cx="152.8" cy="226.8" r="1.3" fill="#143866"/><line x1="157.0" y1="222.1" x2="157.0" y2="223.9" stroke="#3a88c0" stroke-width="0.9"/><circle cx="157.0" cy="222.0" r="1.35" fill="#1b4a80"/><circle cx="157.0" cy="224.0" r="1.3" fill="#143866"/><line x1="115.0" y1="253.9" x2="119.2" y2="252.9" stroke="#2a6aa8" stroke-width="0.6"/><line x1="115.0" y1="253.9" x2="115.0" y2="255.7" stroke="#3a88c0" stroke-width="0.9"/><circle cx="115.0" cy="253.8" r="1.35" fill="#1b4a80"/><circle cx="115.0" cy="255.8" r="1.3" fill="#143866"/><line x1="119.2" y1="251.1" x2="123.4" y2="250.1" stroke="#2a6aa8" stroke-width="0.6"/><line x1="119.2" y1="251.1" x2="119.2" y2="252.9" stroke="#3a88c0" stroke-width="0.9"/><circle cx="119.2" cy="251.0" r="1.35" fill="#1b4a80"/><circle cx="119.2" cy="253.0" r="1.3" fill="#143866"/><line x1="123.4" y1="248.3" x2="127.5" y2="247.2" stroke="#2a6aa8" stroke-width="0.6"/><line x1="123.4" y1="248.3" x2="123.4" y2="250.1" stroke="#3a88c0" stroke-width="0.9"/><circle cx="123.4" cy="248.2" r="1.35" fill="#1b4a80"/><circle cx="123.4" cy="250.2" r="1.3" fill="#143866"/><line x1="127.5" y1="245.4" x2="131.7" y2="244.4" stroke="#2a6aa8" stroke-width="0.6"/><line x1="127.5" y1="245.4" x2="127.5" y2="247.2" stroke="#3a88c0" stroke-width="0.9"/><circle cx="127.5" cy="245.3" r="1.35" fill="#1b4a80"/><circle cx="127.5" cy="247.3" r="1.3" fill="#143866"/><line x1="131.7" y1="242.6" x2="135.9" y2="241.6" stroke="#2a6aa8" stroke-width="0.6"/><line x1="131.7" y1="242.6" x2="131.7" y2="244.4" stroke="#3a88c0" stroke-width="0.9"/><circle cx="131.7" cy="242.5" r="1.35" fill="#1b4a80"/><circle cx="131.7" cy="244.5" r="1.3" fill="#143866"/><line x1="135.9" y1="239.8" x2="140.1" y2="238.8" stroke="#2a6aa8" stroke-width="0.6"/><line x1="135.9" y1="239.8" x2="135.9" y2="241.6" stroke="#3a88c0" stroke-width="0.9"/><circle cx="135.9" cy="239.7" r="1.35" fill="#1b4a80"/><circle cx="135.9" cy="241.7" r="1.3" fill="#143866"/><line x1="140.1" y1="237.0" x2="144.3" y2="236.0" stroke="#2a6aa8" stroke-width="0.6"/><line x1="140.1" y1="237.0" x2="140.1" y2="238.8" stroke="#3a88c0" stroke-width="0.9"/><circle cx="140.1" cy="236.9" r="1.35" fill="#1b4a80"/><circle cx="140.1" cy="238.9" r="1.3" fill="#143866"/><line x1="144.3" y1="234.2" x2="148.5" y2="233.2" stroke="#2a6aa8" stroke-width="0.6"/><line x1="144.3" y1="234.2" x2="144.3" y2="236.0" stroke="#3a88c0" stroke-width="0.9"/><circle cx="144.3" cy="234.1" r="1.35" fill="#1b4a80"/><circle cx="144.3" cy="236.1" r="1.3" fill="#143866"/><line x1="148.5" y1="231.4" x2="152.6" y2="230.3" stroke="#2a6aa8" stroke-width="0.6"/><line x1="148.5" y1="231.4" x2="148.5" y2="233.2" stroke="#3a88c0" stroke-width="0.9"/><circle cx="148.5" cy="231.3" r="1.35" fill="#1b4a80"/><circle cx="148.5" cy="233.3" r="1.3" fill="#143866"/><line x1="152.6" y1="228.5" x2="156.8" y2="227.5" stroke="#2a6aa8" stroke-width="0.6"/><line x1="152.6" y1="228.5" x2="152.6" y2="230.3" stroke="#3a88c0" stroke-width="0.9"/><circle cx="152.6" cy="228.4" r="1.35" fill="#1b4a80"/><circle cx="152.6" cy="230.4" r="1.3" fill="#143866"/><line x1="156.8" y1="225.7" x2="161.0" y2="224.7" stroke="#2a6aa8" stroke-width="0.6"/><line x1="156.8" y1="225.7" x2="156.8" y2="227.5" stroke="#3a88c0" stroke-width="0.9"/><circle cx="156.8" cy="225.6" r="1.35" fill="#1b4a80"/><circle cx="156.8" cy="227.6" r="1.3" fill="#143866"/><line x1="161.0" y1="222.9" x2="161.0" y2="224.7" stroke="#3a88c0" stroke-width="0.9"/><circle cx="161.0" cy="222.8" r="1.35" fill="#1b4a80"/><circle cx="161.0" cy="224.8" r="1.3" fill="#143866"/><circle cx="108.5" cy="238" r="2.2" fill="#50e0f0" opacity="0.7"/><circle cx="103" cy="240" r="1.5" fill="#50d8f0" opacity="0.6"/>
<polygon points="117,223.7 148.5,230.6 148.5,234 117,227" fill="#c07800"/>
<polygon points="148.5,230.6 158.4,219.8 158.4,223 148.5,234" fill="#a06000"/>
<polygon points="117,223.7 125,215.8 158.4,219.8 148.5,230.6" fill="#f0a818"/>
<polygon points="121,222.5 126.5,217.5 154,220.5 148,227" fill="#fcc838" opacity="0.7"/>
<rect x="102.6" y="192" width="9.6" height="27.5" fill="url(#goldTip)"/>
<ellipse cx="107.4" cy="192.2" rx="4.8" ry="1.4" fill="#b08010"/>
<ellipse cx="107.4" cy="219.5" rx="4.8" ry="1.4" fill="#7a5400"/>
<polygon points="104.6,220.5 110.2,220.5 108.6,236.5 107.2,236.5" fill="url(#goldTip)"/>
<circle cx="108" cy="237.5" r="1.6" fill="#5fd8f0" opacity="0.8"/>
<g stroke="#333" stroke-width="0.8" fill="none">
<polyline points="107.8,191.7 107.8,186.2 117.6,186.2"/>
<line x1="117.6" y1="179.9" x2="117.6" y2="193.3"/>
<line x1="121.6" y1="183.4" x2="121.6" y2="188.7" stroke-width="1.4"/>
<line x1="121.6" y1="186.2" x2="130.5" y2="186.2"/>
<circle cx="135.3" cy="186.2" r="4.7"/>
<polyline points="135.3,190.9 135.3,205.5 193.4,205.5 193.4,219.2"/>
<line x1="189.5" y1="219.2" x2="197.3" y2="219.2" stroke-width="1.2"/>
<line x1="186.5" y1="224.1" x2="200.3" y2="224.1"/>
<polyline points="193.4,224.1 193.4,236 174.7,236"/>
<polyline points="147.7,224.1 147.7,182.8 170.7,182.8 170.7,188.1"/>
<line x1="163.9" y1="188.1" x2="177.6" y2="188.1"/>
<line x1="166.8" y1="191.1" x2="174.7" y2="191.1"/>
<line x1="169.4" y1="194" x2="172.7" y2="194"/>
</g>
<text x="135.3" y="189" font-size="6.5" text-anchor="middle" fill="#333">A</text>
<circle cx="147.7" cy="224.1" r="1.2" fill="#111"/>
<circle cx="174.7" cy="236" r="1.2" fill="#111"/>
<text x="182" y="249.5" class="serif" font-size="12.5" font-style="italic" fill="#222">V<tspan font-style="normal" font-size="11" dy="0.5">g</tspan></text>
<text x="125" y="306" font-size="13" text-anchor="middle" fill="#222">Black P</text>
<polygon points="235.6,180.8 318.3,180.8 318.3,239.4 314.8,239.4 308.8,238.3 302.6,235.5 296.2,227.6 290.1,221.2 282,215.8 274.7,214.7 267.6,214.3 260.5,214.7 253.2,214.1 246.1,213.6 239,214.1 235.6,214" fill="#dcf0f9"/>
<polygon points="235.6,239.4 239,239.4 246.1,239.4 253.2,239.8 260.5,239.4 267.6,240.5 274.7,240.9 282,240.9 290.1,247.3 296.2,251.9 302.6,253.4 308.8,254 314.8,254.9 318.3,254.9 318.3,286.5 235.6,286.5" fill="#fbe0e4"/>
<polyline points="239,214.1 246.1,213.6 253.2,214.1 260.5,214.7 267.6,214.3 274.7,214.7 282,215.8 290.1,221.2 296.2,227.6 302.6,235.5 308.8,238.3 314.8,239.4" fill="none" stroke="#222" stroke-width="0.6"/>
<polyline points="239,239.4 246.1,239.4 253.2,239.8 260.5,239.4 267.6,240.5 274.7,240.9 282,240.9 290.1,247.3 296.2,251.9 302.6,253.4 308.8,254 314.8,254.9" fill="none" stroke="#c33" stroke-width="0.6"/>
<rect x="235.6" y="180.8" width="82.70000000000002" height="105.69999999999999" fill="none" stroke="#888" stroke-width="0.9"/>
<circle cx="239" cy="184.7" r="1.7" fill="#1e9ad8"/><circle cx="246.1" cy="183.2" r="1.7" fill="#1e9ad8"/><circle cx="253.2" cy="183.6" r="1.7" fill="#1e9ad8"/><circle cx="260.5" cy="184.2" r="1.7" fill="#1e9ad8"/><circle cx="267.6" cy="184.7" r="1.7" fill="#1e9ad8"/><circle cx="274.7" cy="185.1" r="1.7" fill="#1e9ad8"/><circle cx="282" cy="186.2" r="1.7" fill="#1e9ad8"/><circle cx="290.1" cy="187.2" r="1.7" fill="#1e9ad8"/><circle cx="296.2" cy="188.3" r="1.7" fill="#1e9ad8"/><circle cx="302.6" cy="191.5" r="1.7" fill="#1e9ad8"/><circle cx="308.8" cy="198.2" r="1.7" fill="#1e9ad8"/><circle cx="314.8" cy="204" r="1.7" fill="#1e9ad8"/><polygon points="237.4,195.0 240.9,196.9 237.4,198.8" fill="#1e8fd6"/><polygon points="244.5,194.6 248.0,196.5 244.5,198.4" fill="#1e8fd6"/><polygon points="251.6,195.0 255.1,196.9 251.6,198.8" fill="#1e8fd6"/><polygon points="258.9,195.2 262.4,197.1 258.9,199.0" fill="#1e8fd6"/><polygon points="266.0,195.6 269.5,197.5 266.0,199.4" fill="#1e8fd6"/><polygon points="273.09999999999997,196.1 276.59999999999997,198 273.09999999999997,199.9" fill="#1e8fd6"/><polygon points="280.4,196.7 283.9,198.6 280.4,200.5" fill="#1e8fd6"/><polygon points="288.5,197.79999999999998 292.0,199.7 288.5,201.6" fill="#1e8fd6"/><polygon points="294.59999999999997,201.7 298.09999999999997,203.6 294.59999999999997,205.5" fill="#1e8fd6"/><polygon points="301.0,206.4 304.5,208.3 301.0,210.20000000000002" fill="#1e8fd6"/><polygon points="307.2,211.7 310.7,213.6 307.2,215.5" fill="#1e8fd6"/><polygon points="313.2,217.1 316.7,219 313.2,220.9" fill="#1e8fd6"/><polygon points="240.6,206.4 237.1,208.3 240.6,210.20000000000002" fill="#1f5caa"/><polygon points="247.7,206.4 244.2,208.3 247.7,210.20000000000002" fill="#1f5caa"/><polygon points="254.79999999999998,206.4 251.29999999999998,208.3 254.79999999999998,210.20000000000002" fill="#1f5caa"/><polygon points="262.1,206.79999999999998 258.6,208.7 262.1,210.6" fill="#1f5caa"/><polygon points="269.20000000000005,206.79999999999998 265.70000000000005,208.7 269.20000000000005,210.6" fill="#1f5caa"/><polygon points="276.3,207.0 272.8,208.9 276.3,210.8" fill="#1f5caa"/><polygon points="283.6,207.4 280.1,209.3 283.6,211.20000000000002" fill="#1f5caa"/><polygon points="291.70000000000005,210.1 288.20000000000005,212 291.70000000000005,213.9" fill="#1f5caa"/><polygon points="297.8,214.1 294.3,216 297.8,217.9" fill="#1f5caa"/><polygon points="304.20000000000005,219.29999999999998 300.70000000000005,221.2 304.20000000000005,223.1" fill="#1f5caa"/><polygon points="310.40000000000003,227.2 306.90000000000003,229.1 310.40000000000003,231.0" fill="#1f5caa"/><polygon points="316.40000000000003,230.6 312.90000000000003,232.5 316.40000000000003,234.4" fill="#1f5caa"/>
<circle cx="239" cy="214.1" r="2.5" fill="#111"/><circle cx="238.3" cy="213.29999999999998" r="0.8" fill="#888"/><circle cx="246.1" cy="213.6" r="2.5" fill="#111"/><circle cx="245.4" cy="212.79999999999998" r="0.8" fill="#888"/><circle cx="253.2" cy="214.1" r="2.5" fill="#111"/><circle cx="252.5" cy="213.29999999999998" r="0.8" fill="#888"/><circle cx="260.5" cy="214.7" r="2.5" fill="#111"/><circle cx="259.8" cy="213.89999999999998" r="0.8" fill="#888"/><circle cx="267.6" cy="214.3" r="2.5" fill="#111"/><circle cx="266.90000000000003" cy="213.5" r="0.8" fill="#888"/><circle cx="274.7" cy="214.7" r="2.5" fill="#111"/><circle cx="274.0" cy="213.89999999999998" r="0.8" fill="#888"/><circle cx="282" cy="215.8" r="2.5" fill="#111"/><circle cx="281.3" cy="215.0" r="0.8" fill="#888"/><circle cx="290.1" cy="221.2" r="2.5" fill="#111"/><circle cx="289.40000000000003" cy="220.39999999999998" r="0.8" fill="#888"/><circle cx="296.2" cy="227.6" r="2.5" fill="#111"/><circle cx="295.5" cy="226.79999999999998" r="0.8" fill="#888"/><circle cx="302.6" cy="235.5" r="2.5" fill="#111"/><circle cx="301.90000000000003" cy="234.7" r="0.8" fill="#888"/><circle cx="308.8" cy="238.3" r="2.5" fill="#111"/><circle cx="308.1" cy="237.5" r="0.8" fill="#888"/><circle cx="314.8" cy="239.4" r="2.5" fill="#111"/><circle cx="314.1" cy="238.6" r="0.8" fill="#888"/><circle cx="239" cy="239.4" r="2.5" fill="#d42020"/><circle cx="238.3" cy="238.6" r="0.8" fill="#f09090"/><circle cx="246.1" cy="239.4" r="2.5" fill="#d42020"/><circle cx="245.4" cy="238.6" r="0.8" fill="#f09090"/><circle cx="253.2" cy="239.8" r="2.5" fill="#d42020"/><circle cx="252.5" cy="239.0" r="0.8" fill="#f09090"/><circle cx="260.5" cy="239.4" r="2.5" fill="#d42020"/><circle cx="259.8" cy="238.6" r="0.8" fill="#f09090"/><circle cx="267.6" cy="240.5" r="2.5" fill="#d42020"/><circle cx="266.90000000000003" cy="239.7" r="0.8" fill="#f09090"/><circle cx="274.7" cy="240.9" r="2.5" fill="#d42020"/><circle cx="274.0" cy="240.1" r="0.8" fill="#f09090"/><circle cx="282" cy="240.9" r="2.5" fill="#d42020"/><circle cx="281.3" cy="240.1" r="0.8" fill="#f09090"/><circle cx="290.1" cy="247.3" r="2.5" fill="#d42020"/><circle cx="289.40000000000003" cy="246.5" r="0.8" fill="#f09090"/><circle cx="296.2" cy="251.9" r="2.5" fill="#d42020"/><circle cx="295.5" cy="251.1" r="0.8" fill="#f09090"/><circle cx="302.6" cy="253.4" r="2.5" fill="#d42020"/><circle cx="301.90000000000003" cy="252.6" r="0.8" fill="#f09090"/><circle cx="308.8" cy="254" r="2.5" fill="#d42020"/><circle cx="308.1" cy="253.2" r="0.8" fill="#f09090"/><circle cx="314.8" cy="254.9" r="2.5" fill="#d42020"/><circle cx="314.1" cy="254.1" r="0.8" fill="#f09090"/>
<circle cx="239" cy="254.3" r="1.55" fill="#e03030"/><circle cx="246.1" cy="254.3" r="1.55" fill="#e03030"/><circle cx="253.2" cy="256.3" r="1.55" fill="#e03030"/><circle cx="260.5" cy="256.8" r="1.55" fill="#e03030"/><circle cx="267.6" cy="256.3" r="1.55" fill="#e03030"/><circle cx="274.7" cy="258.8" r="1.55" fill="#e03030"/><circle cx="282" cy="258.3" r="1.55" fill="#e03030"/><circle cx="290.1" cy="260.8" r="1.55" fill="#e03030"/><circle cx="239" cy="267" r="1.4" fill="#ee8a10"/><circle cx="246.1" cy="266.3" r="1.4" fill="#ee8a10"/><circle cx="253.2" cy="267" r="1.4" fill="#ee8a10"/><circle cx="260.5" cy="267.6" r="1.4" fill="#ee8a10"/><circle cx="267.6" cy="268" r="1.4" fill="#ee8a10"/><circle cx="274.7" cy="270" r="1.4" fill="#ee8a10"/><circle cx="282" cy="270" r="1.4" fill="#ee8a10"/><circle cx="290.1" cy="273.1" r="1.4" fill="#ee8a10"/><polygon points="237.4,280.6 239,277.7 240.6,280.6" fill="#f2b420"/><polygon points="244.5,280.6 246.1,277.7 247.7,280.6" fill="#f2b420"/><polygon points="251.6,281.40000000000003 253.2,278.5 254.79999999999998,281.40000000000003" fill="#f2b420"/><polygon points="258.9,282.1 260.5,279.2 262.1,282.1" fill="#f2b420"/><polygon points="266.0,283.1 267.6,280.2 269.20000000000005,283.1" fill="#f2b420"/><polygon points="273.09999999999997,284.40000000000003 274.7,281.5 276.3,284.40000000000003" fill="#f2b420"/><polygon points="280.4,285.90000000000003 282,283.0 283.6,285.90000000000003" fill="#f2b420"/>
<g font-size="6.6" fill="#444" text-anchor="end"><text x="231.2" y="194.60000000000002">0.6</text><line x1="233.4" y1="192.3" x2="235.6" y2="192.3" stroke="#777" stroke-width="0.6"/><text x="231.2" y="218.0">0.3</text><line x1="233.4" y1="215.7" x2="235.6" y2="215.7" stroke="#777" stroke-width="0.6"/><text x="231.2" y="241.5">0.0</text><line x1="233.4" y1="239.2" x2="235.6" y2="239.2" stroke="#777" stroke-width="0.6"/><text x="231.2" y="264.90000000000003">−0.3</text><line x1="233.4" y1="262.6" x2="235.6" y2="262.6" stroke="#777" stroke-width="0.6"/><text x="231.2" y="288.3">−0.6</text><line x1="233.4" y1="286" x2="235.6" y2="286" stroke="#777" stroke-width="0.6"/><line x1="234.29999999999998" y1="204" x2="235.6" y2="204" stroke="#777" stroke-width="0.6"/><line x1="234.29999999999998" y1="227.5" x2="235.6" y2="227.5" stroke="#777" stroke-width="0.6"/><line x1="234.29999999999998" y1="250.9" x2="235.6" y2="250.9" stroke="#777" stroke-width="0.6"/><line x1="234.29999999999998" y1="274.3" x2="235.6" y2="274.3" stroke="#777" stroke-width="0.6"/></g>
<g font-size="7" fill="#333" text-anchor="middle"><text x="239.3" y="294.5">−60</text><text x="253.3" y="294.5">−40</text><text x="267.6" y="294.5">−20</text><text x="281.9" y="294.5">0</text><text x="290.1" y="294.5">20</text><text x="301.4" y="294.5">40</text><text x="314" y="294.5">60</text><line x1="239.3" y1="286.5" x2="239.3" y2="288.3" stroke="#777" stroke-width="0.6"/><line x1="253.3" y1="286.5" x2="253.3" y2="288.3" stroke="#777" stroke-width="0.6"/><line x1="267.6" y1="286.5" x2="267.6" y2="288.3" stroke="#777" stroke-width="0.6"/><line x1="281.9" y1="286.5" x2="281.9" y2="288.3" stroke="#777" stroke-width="0.6"/><line x1="290.1" y1="286.5" x2="290.1" y2="288.3" stroke="#777" stroke-width="0.6"/><line x1="301.4" y1="286.5" x2="301.4" y2="288.3" stroke="#777" stroke-width="0.6"/><line x1="314" y1="286.5" x2="314" y2="288.3" stroke="#777" stroke-width="0.6"/></g>
<text x="276.3" y="305.8" font-size="7.7" text-anchor="middle" fill="#333">Gate voltage (V)</text>
<text transform="translate(216.8,234) rotate(-90)" font-size="8" text-anchor="middle" fill="#333"><tspan font-style="italic">E</tspan> (eV)</text>
<text x="303" y="191" font-size="7.5" fill="#333">CB</text><text x="301" y="278" font-size="7.5" fill="#333">VB</text>
<g stroke="#aaa" stroke-width="0.6"><line x1="318" y1="239.4" x2="331" y2="239.4"/><line x1="318" y1="254.9" x2="331" y2="254.9"/></g>
<g stroke="#8a3aa8" stroke-width="0.6" fill="#8a3aa8"><line x1="324" y1="230" x2="324" y2="237"/><polygon points="322.6,235.5 324,238.5 325.4,235.5"/>
<line x1="324" y1="257.5" x2="324" y2="264"/><polygon points="322.6,258.8 324,255.8 325.4,258.8"/></g>
<text x="320.8" y="249" font-size="9" font-style="italic" fill="#9a58b8">E<tspan font-size="5.5" dy="1.8">g</tspan></text>
<rect x="386.8" y="179.5" width="129.8" height="94.60000000000002" fill="none" stroke="#555" stroke-width="0.9"/>
<g font-size="9.2" fill="#222" text-anchor="end"><text x="380.8" y="199.7">0.4</text><line x1="384.6" y1="196.5" x2="386.8" y2="196.5" stroke="#555" stroke-width="0.8"/><text x="380.8" y="233.79999999999998">0.3</text><line x1="384.6" y1="230.6" x2="386.8" y2="230.6" stroke="#555" stroke-width="0.8"/><text x="380.8" y="268.3">0.2</text><line x1="384.6" y1="265.1" x2="386.8" y2="265.1" stroke="#555" stroke-width="0.8"/><line x1="385.5" y1="213.5" x2="386.8" y2="213.5" stroke="#555" stroke-width="0.7"/><line x1="385.5" y1="247.8" x2="386.8" y2="247.8" stroke="#555" stroke-width="0.7"/></g>
<g font-size="9.2" fill="#222" text-anchor="middle"><text x="387.5" y="288.8">−0.1</text><line x1="387.5" y1="274.1" x2="387.5" y2="276.3" stroke="#555" stroke-width="0.8"/><text x="418.3" y="288.8">0.0</text><line x1="418.3" y1="274.1" x2="418.3" y2="276.3" stroke="#555" stroke-width="0.8"/><text x="448.9" y="288.8">0.1</text><line x1="448.9" y1="274.1" x2="448.9" y2="276.3" stroke="#555" stroke-width="0.8"/><text x="479" y="288.8">0.2</text><line x1="479" y1="274.1" x2="479" y2="276.3" stroke="#555" stroke-width="0.8"/><text x="509.4" y="288.8">0.3</text><line x1="509.4" y1="274.1" x2="509.4" y2="276.3" stroke="#555" stroke-width="0.8"/><line x1="403" y1="274.1" x2="403" y2="275.40000000000003" stroke="#555" stroke-width="0.7"/><line x1="433.6" y1="274.1" x2="433.6" y2="275.40000000000003" stroke="#555" stroke-width="0.7"/><line x1="463.9" y1="274.1" x2="463.9" y2="275.40000000000003" stroke="#555" stroke-width="0.7"/><line x1="494.3" y1="274.1" x2="494.3" y2="275.40000000000003" stroke="#555" stroke-width="0.7"/></g>
<text x="454.6" y="303" font-size="12.2" text-anchor="middle" fill="#222">Electric field (V/nm)</text>
<text transform="translate(358,229.7) rotate(-90)" font-size="12.5" text-anchor="middle" fill="#222">Bandgap (eV)</text>
<defs>
<pattern id="stm" width="7.8" height="14.3" patternUnits="userSpaceOnUse" patternTransform="translate(447.6,182) rotate(28)">
<rect width="7.8" height="14.3" fill="#56688a"/>
<rect y="6.2" width="7.8" height="1.4" fill="#222a3c"/><rect y="13.35" width="7.8" height="1.4" fill="#222a3c"/>
<ellipse cx="1.95" cy="3.3" rx="3.1" ry="2.3" fill="#9cc8d4"/><ellipse cx="1.7" cy="3" rx="2" ry="1.4" fill="#d8f0f2"/>
<ellipse cx="5.85" cy="10.45" rx="3.1" ry="2.3" fill="#9cc8d4"/><ellipse cx="5.6" cy="10.15" rx="2" ry="1.4" fill="#d8f0f2"/>
</pattern>
<clipPath id="stmclip"><rect x="447.6" y="182" width="66.4" height="65.6" rx="1"/></clipPath>
</defs>
<rect x="447.6" y="182" width="66.4" height="65.6" fill="url(#stm)"/>
<polygon points="487.4,190.4 507.7,202.8 489.4,230.9 469.2,218.5" fill="#c0ac38" opacity="0.78" stroke="#f0e030" stroke-width="1" stroke-dasharray="0.9 1.3"/>
<circle cx="489.4" cy="195.6" r="2.1" fill="#f4f4f4"/><circle cx="495.9" cy="199.5" r="2.1" fill="#f4f4f4"/><circle cx="501.8" cy="203.5" r="2.1" fill="#f4f4f4"/><circle cx="482.9" cy="204.8" r="2.1" fill="#f4f4f4"/><circle cx="490" cy="208.7" r="2.1" fill="#f4f4f4"/><circle cx="496.6" cy="212.6" r="2.1" fill="#f4f4f4"/><circle cx="477.6" cy="213.9" r="2.1" fill="#f4f4f4"/><circle cx="484.2" cy="217.8" r="2.1" fill="#f4f4f4"/><circle cx="490.7" cy="222.4" r="2.1" fill="#f4f4f4"/><circle cx="490" cy="200.8" r="2" fill="#f01818"/><circle cx="496.6" cy="204.8" r="2" fill="#f01818"/><circle cx="484.2" cy="209.3" r="2" fill="#f01818"/><circle cx="491.3" cy="213.2" r="2" fill="#f01818"/><circle cx="478.9" cy="219.1" r="2" fill="#f01818"/><circle cx="485.5" cy="223" r="2" fill="#f01818"/>
<path d="M388.4,223.8 C396,219.5 403,217.4 409,217.4 C416,217.4 424,219 430,226 C438,236 444,252 449,273" fill="none" stroke="#333" stroke-width="0.9"/>
<line x1="389" y1="217.7" x2="389" y2="230.7" stroke="#aaa" stroke-width="0.6"/><line x1="387.8" y1="217.7" x2="390.2" y2="217.7" stroke="#aaa" stroke-width="0.6"/><line x1="387.8" y1="230.7" x2="390.2" y2="230.7" stroke="#aaa" stroke-width="0.6"/><line x1="393.8" y1="214.1" x2="393.8" y2="227.1" stroke="#aaa" stroke-width="0.6"/><line x1="392.6" y1="214.1" x2="395.0" y2="214.1" stroke="#aaa" stroke-width="0.6"/><line x1="392.6" y1="227.1" x2="395.0" y2="227.1" stroke="#aaa" stroke-width="0.6"/><line x1="398.6" y1="217.1" x2="398.6" y2="224.1" stroke="#aaa" stroke-width="0.6"/><line x1="397.40000000000003" y1="217.1" x2="399.8" y2="217.1" stroke="#aaa" stroke-width="0.6"/><line x1="397.40000000000003" y1="224.1" x2="399.8" y2="224.1" stroke="#aaa" stroke-width="0.6"/><line x1="403.5" y1="220.2" x2="403.5" y2="228.2" stroke="#aaa" stroke-width="0.6"/><line x1="402.3" y1="220.2" x2="404.7" y2="220.2" stroke="#aaa" stroke-width="0.6"/><line x1="402.3" y1="228.2" x2="404.7" y2="228.2" stroke="#aaa" stroke-width="0.6"/><line x1="408.8" y1="207.6" x2="408.8" y2="219.6" stroke="#aaa" stroke-width="0.6"/><line x1="407.6" y1="207.6" x2="410.0" y2="207.6" stroke="#aaa" stroke-width="0.6"/><line x1="407.6" y1="219.6" x2="410.0" y2="219.6" stroke="#aaa" stroke-width="0.6"/><line x1="413.7" y1="212.9" x2="413.7" y2="220.9" stroke="#aaa" stroke-width="0.6"/><line x1="412.5" y1="212.9" x2="414.9" y2="212.9" stroke="#aaa" stroke-width="0.6"/><line x1="412.5" y1="220.9" x2="414.9" y2="220.9" stroke="#aaa" stroke-width="0.6"/><line x1="418.5" y1="219.2" x2="418.5" y2="229.2" stroke="#aaa" stroke-width="0.6"/><line x1="417.3" y1="219.2" x2="419.7" y2="219.2" stroke="#aaa" stroke-width="0.6"/><line x1="417.3" y1="229.2" x2="419.7" y2="229.2" stroke="#aaa" stroke-width="0.6"/><line x1="428.8" y1="219.8" x2="428.8" y2="227.8" stroke="#aaa" stroke-width="0.6"/><line x1="427.6" y1="219.8" x2="430.0" y2="219.8" stroke="#aaa" stroke-width="0.6"/><line x1="427.6" y1="227.8" x2="430.0" y2="227.8" stroke="#aaa" stroke-width="0.6"/><line x1="433.3" y1="222.1" x2="433.3" y2="232.1" stroke="#aaa" stroke-width="0.6"/><line x1="432.1" y1="222.1" x2="434.5" y2="222.1" stroke="#aaa" stroke-width="0.6"/><line x1="432.1" y1="232.1" x2="434.5" y2="232.1" stroke="#aaa" stroke-width="0.6"/><line x1="438.1" y1="249.1" x2="438.1" y2="261.1" stroke="#aaa" stroke-width="0.6"/><line x1="436.90000000000003" y1="249.1" x2="439.3" y2="249.1" stroke="#aaa" stroke-width="0.6"/><line x1="436.90000000000003" y1="261.1" x2="439.3" y2="261.1" stroke="#aaa" stroke-width="0.6"/><line x1="443.1" y1="256.7" x2="443.1" y2="267.7" stroke="#aaa" stroke-width="0.6"/><line x1="441.90000000000003" y1="256.7" x2="444.3" y2="256.7" stroke="#aaa" stroke-width="0.6"/><line x1="441.90000000000003" y1="267.7" x2="444.3" y2="267.7" stroke="#aaa" stroke-width="0.6"/><line x1="447.6" y1="260.7" x2="447.6" y2="269.7" stroke="#aaa" stroke-width="0.6"/><line x1="446.40000000000003" y1="260.7" x2="448.8" y2="260.7" stroke="#aaa" stroke-width="0.6"/><line x1="446.40000000000003" y1="269.7" x2="448.8" y2="269.7" stroke="#aaa" stroke-width="0.6"/><circle cx="389" cy="224.2" r="2.3" fill="#e82a20"/><circle cx="388.4" cy="223.5" r="0.8" fill="#f8a0a0"/><circle cx="393.8" cy="220.6" r="2.3" fill="#e82a20"/><circle cx="393.2" cy="219.9" r="0.8" fill="#f8a0a0"/><circle cx="398.6" cy="220.6" r="2.3" fill="#e82a20"/><circle cx="398.0" cy="219.9" r="0.8" fill="#f8a0a0"/><circle cx="403.5" cy="224.2" r="2.3" fill="#e82a20"/><circle cx="402.9" cy="223.5" r="0.8" fill="#f8a0a0"/><circle cx="408.8" cy="213.6" r="2.3" fill="#e82a20"/><circle cx="408.2" cy="212.9" r="0.8" fill="#f8a0a0"/><circle cx="413.7" cy="216.9" r="2.3" fill="#e82a20"/><circle cx="413.09999999999997" cy="216.20000000000002" r="0.8" fill="#f8a0a0"/><circle cx="418.5" cy="224.2" r="2.3" fill="#e82a20"/><circle cx="417.9" cy="223.5" r="0.8" fill="#f8a0a0"/><circle cx="428.8" cy="223.8" r="2.3" fill="#e82a20"/><circle cx="428.2" cy="223.10000000000002" r="0.8" fill="#f8a0a0"/><circle cx="433.3" cy="227.1" r="2.3" fill="#e82a20"/><circle cx="432.7" cy="226.4" r="0.8" fill="#f8a0a0"/><circle cx="438.1" cy="255.1" r="2.3" fill="#e82a20"/><circle cx="437.5" cy="254.4" r="0.8" fill="#f8a0a0"/><circle cx="443.1" cy="262.2" r="2.3" fill="#e82a20"/><circle cx="442.5" cy="261.5" r="0.8" fill="#f8a0a0"/><circle cx="447.6" cy="265.2" r="2.3" fill="#e82a20"/><circle cx="447.0" cy="264.5" r="0.8" fill="#f8a0a0"/>
</g>
<!-- ============ PANEL C ============ -->
<g id="C">
<text x="11.4" y="337.3" font-size="10" font-weight="bold">C</text>
<defs>
<linearGradient id="laser" x1="0" y1="0" x2="1" y2="0">
<stop offset="0" stop-color="#f8c8d0" stop-opacity="0.1"/><stop offset="0.2" stop-color="#f6b4bc" stop-opacity="0.8"/>
<stop offset="0.5" stop-color="#f4a4ae" stop-opacity="1"/><stop offset="0.8" stop-color="#f6b4bc" stop-opacity="0.8"/><stop offset="1" stop-color="#f8c8d0" stop-opacity="0.1"/></linearGradient>
<linearGradient id="laserV" x1="0" y1="0" x2="0" y2="1">
<stop offset="0" stop-color="#fff" stop-opacity="1"/><stop offset="0.1" stop-color="#fff" stop-opacity="0.15"/><stop offset="0.2" stop-color="#fff" stop-opacity="0"/>
<stop offset="0.88" stop-color="#fff" stop-opacity="0"/><stop offset="1" stop-color="#fff" stop-opacity="0.7"/></linearGradient>
<pattern id="bpred" width="2.8" height="2.4" patternUnits="userSpaceOnUse" patternTransform="rotate(12)">
<rect width="2.8" height="2.4" fill="#3a3050"/><rect width="1.8" height="1.5" fill="#f02828"/></pattern>
</defs>
<g filter="url(#lblur)"><rect x="91" y="350" width="26" height="98" rx="9" fill="#f4a8b4"/></g>
<text x="104.2" y="362.5" font-size="6.8" font-weight="bold" fill="#e83848" text-anchor="middle">Mid-IR</text>
<text x="104.7" y="369.5" font-size="6.8" font-weight="bold" fill="#e83848" text-anchor="middle">laser</text>
<!-- Si gray -->
<polygon points="47.5,411.3 145,425.5 145,440.5 49.4,420" fill="#5e5e5e"/>
<polygon points="145,425.5 157,407 157,424 145,440.5" fill="#4e4e4e"/>
<!-- SiO2 blue -->
<polygon points="47.5,403.2 145,416 145,425.5 47.5,411.3" fill="#3a66bc"/>
<polygon points="145,416 157,396 157,407 145,425.5" fill="#2c50a0"/>
<polygon points="47.5,403.2 72,389 157,389 145,416" fill="#4a78cc"/>
<!-- BP red lattice -->
<polygon points="76,391.5 120,391.5 120,409.5 80,403" fill="url(#bpred)"/>
<!-- laser through device (over blue, under pads) -->

<!-- left gold pad -->
<polygon points="50.6,390.7 75.7,393.8 75.7,403.8 50.6,400" fill="#f0dc10"/>
<polygon points="75.7,393.8 81,389.5 81,399 75.7,403.8" fill="#b8a000"/>
<polygon points="50.6,390.7 78.2,378.5 103.3,381.6 75.7,393.8" fill="#f4e23c"/>
<!-- right gold pad -->
<polygon points="119.1,399.8 147.9,402.9 147.9,416.3 119.1,414.2" fill="#f0dc10"/>
<polygon points="147.9,402.9 157.1,387.5 157.1,401 147.9,416.3" fill="#c8b000"/>
<polygon points="119.1,396.7 135.5,385.4 157.1,387.5 147.9,402.9" fill="#f4e23c"/>
<!-- glass -->
<polygon points="69.4,388.8 97.5,375.1 136.6,378.2 122.2,396.7" fill="#5f8a92" opacity="0.72"/>
<g stroke="#555" stroke-width="0.6" fill="none">
<line x1="35.9" y1="380.5" x2="86.3" y2="384.6"/>
<line x1="35.9" y1="395.3" x2="53.7" y2="395.3"/>
<line x1="35.2" y1="405.5" x2="53.7" y2="406.8"/>
<line x1="35.9" y1="418.4" x2="53.7" y2="415.7"/>
<line x1="176.7" y1="390.1" x2="111.9" y2="400.8"/>
<polyline points="145.8,408 164.3,408 164.3,421"/>
<line x1="159.2" y1="421" x2="169.4" y2="421"/>
<line x1="161.3" y1="423.9" x2="167.3" y2="423.9" stroke-width="1.2"/>
<polyline points="164.3,424 164.3,436.8 144.8,436.8"/>
<polyline points="146.9,349.8 146.9,360.7 156.5,360.7"/>
<line x1="146.9" y1="360.7" x2="152" y2="356"/>
</g>
<g fill="#111"><circle cx="86.3" cy="384.6" r="0.9"/><circle cx="53.7" cy="395.3" r="0.9"/><circle cx="53.7" cy="406.8" r="0.9"/><circle cx="53.7" cy="415.7" r="0.9"/><circle cx="111.9" cy="400.8" r="0.9"/><circle cx="145.8" cy="408" r="0.9"/><circle cx="144.8" cy="436.8" r="0.9"/></g>
<g fill="#333"><polygon points="145.6,351 146.9,348.5 148.2,351"/><polygon points="155.5,359.4 158,360.7 155.5,362"/><polygon points="150.8,356 153,354.8 152.2,357.2"/></g>
<g font-size="7" font-weight="bold" fill="#333">
<text x="18.2" y="383.2">Al<tspan font-size="5" dy="2">2</tspan><tspan dy="-2">O</tspan><tspan font-size="5" dy="2">3</tspan></text>
<text x="17.5" y="398.2">Ti-Au</text>
<text x="21.6" y="409.2">SiO<tspan font-size="5" dy="2">2</tspan></text>
<text x="29.1" y="421.2">Si</text>
<text x="178.7" y="393">BP</text>
</g>
<g font-size="4.8" fill="#333"><text x="144.2" y="349" font-style="italic">z</text>
<text x="153.5" y="355">y || <tspan font-weight="bold">ZZ</tspan></text>
<text x="158.8" y="362.8">x || <tspan font-weight="bold">AC</tspan></text></g>
<text x="171" y="427.5" class="serif" font-size="13" font-style="italic" fill="#333">V<tspan font-size="8" dy="2.5">g</tspan></text>
<defs>
<clipPath id="hclip"><rect x="222.2" y="328.7" width="121.60000000000002" height="118.10000000000002"/></clipPath>
<filter id="lblur" x="-50%" y="-20%" width="200%" height="140%"><feGaussianBlur stdDeviation="2.2"/></filter>
<filter id="hblur" x="0" y="0" width="1" height="1"><feGaussianBlur stdDeviation="1.5"/></filter>
<filter id="blur6" x="-50%" y="-50%" width="200%" height="200%"><feGaussianBlur stdDeviation="6"/></filter>
<filter id="blur3" x="-50%" y="-50%" width="200%" height="200%"><feGaussianBlur stdDeviation="3.5"/></filter>
<linearGradient id="cbar" x1="0" y1="0" x2="0" y2="1">
<stop offset="0" stop-color="#053061"/><stop offset="0.125" stop-color="#2166ac"/><stop offset="0.25" stop-color="#4393c3"/>
<stop offset="0.375" stop-color="#92c5de"/><stop offset="0.5" stop-color="#f7f7f7"/><stop offset="0.625" stop-color="#f4a582"/>
<stop offset="0.75" stop-color="#d6604d"/><stop offset="0.875" stop-color="#b2182b"/><stop offset="1" stop-color="#67001f"/></linearGradient>
</defs>
<g clip-path="url(#hclip)" filter="url(#hblur)">
<rect x="222.2" y="328.7" width="3.3" height="3.3" fill="#f8eee8"/><rect x="225.2" y="328.7" width="3.3" height="3.3" fill="#f9eae1"/><rect x="228.2" y="328.7" width="3.3" height="3.3" fill="#f9e5d8"/><rect x="231.2" y="328.7" width="3.3" height="3.3" fill="#f9dccc"/><rect x="234.2" y="328.7" width="3.3" height="3.3" fill="#f8d1bd"/><rect x="237.2" y="328.7" width="3.3" height="3.3" fill="#f7c3aa"/><rect x="240.2" y="328.7" width="3.3" height="3.3" fill="#f5b293"/><rect x="243.2" y="328.7" width="3.3" height="3.3" fill="#f2a07e"/><rect x="246.2" y="328.7" width="3.3" height="3.3" fill="#eb9172"/><rect x="249.2" y="328.7" width="3.3" height="3.3" fill="#e48166"/><rect x="252.2" y="328.7" width="3.3" height="3.3" fill="#de735b"/><rect x="255.2" y="328.7" width="3.3" height="3.3" fill="#d96752"/><rect x="258.2" y="328.7" width="3.3" height="3.3" fill="#d55f4c"/><rect x="261.2" y="328.7" width="3.3" height="3.3" fill="#d45c4b"/><rect x="264.2" y="328.7" width="3.3" height="3.3" fill="#d55f4c"/><rect x="267.2" y="328.7" width="3.3" height="3.3" fill="#db6d57"/><rect x="270.2" y="328.7" width="3.3" height="3.3" fill="#ec9274"/><rect x="273.2" y="328.7" width="3.3" height="3.3" fill="#f9e3d5"/><rect x="276.2" y="328.7" width="3.3" height="3.3" fill="#c0dceb"/><rect x="279.2" y="328.7" width="3.3" height="3.3" fill="#a3cde3"/><rect x="282.2" y="328.7" width="3.3" height="3.3" fill="#9dcae1"/><rect x="285.2" y="328.7" width="3.3" height="3.3" fill="#9ecbe1"/><rect x="288.2" y="328.7" width="3.3" height="3.3" fill="#a1cce2"/><rect x="291.2" y="328.7" width="3.3" height="3.3" fill="#a6cfe4"/><rect x="294.2" y="328.7" width="3.3" height="3.3" fill="#add2e5"/><rect x="297.2" y="328.7" width="3.3" height="3.3" fill="#b5d6e8"/><rect x="300.2" y="328.7" width="3.3" height="3.3" fill="#bddbea"/><rect x="303.2" y="328.7" width="3.3" height="3.3" fill="#c7e0ed"/><rect x="306.2" y="328.7" width="3.3" height="3.3" fill="#d0e4f0"/><rect x="309.2" y="328.7" width="3.3" height="3.3" fill="#dae9f2"/><rect x="312.2" y="328.7" width="3.3" height="3.3" fill="#e4edf2"/><rect x="315.2" y="328.7" width="3.3" height="3.3" fill="#edf1f3"/><rect x="318.2" y="328.7" width="3.3" height="3.3" fill="#f4f4f3"/><rect x="321.2" y="328.7" width="3.3" height="3.3" fill="#f8f4f1"/><rect x="324.2" y="328.7" width="3.3" height="3.3" fill="#f8f1ec"/><rect x="327.2" y="328.7" width="3.3" height="3.3" fill="#f8efe9"/><rect x="330.2" y="328.7" width="3.3" height="3.3" fill="#f8ede6"/><rect x="333.2" y="328.7" width="3.3" height="3.3" fill="#f8ece4"/><rect x="336.2" y="328.7" width="3.3" height="3.3" fill="#f9ebe2"/><rect x="339.2" y="328.7" width="3.3" height="3.3" fill="#f9eae1"/><rect x="342.2" y="328.7" width="3.3" height="3.3" fill="#f9eae1"/><rect x="345.2" y="328.7" width="3.3" height="3.3" fill="#f9e9e0"/><rect x="222.2" y="331.7" width="3.3" height="3.3" fill="#f8eee7"/><rect x="225.2" y="331.7" width="3.3" height="3.3" fill="#f9e9e0"/><rect x="228.2" y="331.7" width="3.3" height="3.3" fill="#f9e3d6"/><rect x="231.2" y="331.7" width="3.3" height="3.3" fill="#f9dac9"/><rect x="234.2" y="331.7" width="3.3" height="3.3" fill="#f8ceb9"/><rect x="237.2" y="331.7" width="3.3" height="3.3" fill="#f6bfa4"/><rect x="240.2" y="331.7" width="3.3" height="3.3" fill="#f4ad8d"/><rect x="243.2" y="331.7" width="3.3" height="3.3" fill="#ef9b7a"/><rect x="246.2" y="331.7" width="3.3" height="3.3" fill="#e88a6d"/><rect x="249.2" y="331.7" width="3.3" height="3.3" fill="#e17a61"/><rect x="252.2" y="331.7" width="3.3" height="3.3" fill="#da6b55"/><rect x="255.2" y="331.7" width="3.3" height="3.3" fill="#d55e4c"/><rect x="258.2" y="331.7" width="3.3" height="3.3" fill="#d05548"/><rect x="261.2" y="331.7" width="3.3" height="3.3" fill="#ce5146"/><rect x="264.2" y="331.7" width="3.3" height="3.3" fill="#d05548"/><rect x="267.2" y="331.7" width="3.3" height="3.3" fill="#d96752"/><rect x="270.2" y="331.7" width="3.3" height="3.3" fill="#ed9676"/><rect x="273.2" y="331.7" width="3.3" height="3.3" fill="#f6f5f3"/><rect x="276.2" y="331.7" width="3.3" height="3.3" fill="#98c8df"/><rect x="279.2" y="331.7" width="3.3" height="3.3" fill="#7bb6d6"/><rect x="282.2" y="331.7" width="3.3" height="3.3" fill="#75b2d4"/><rect x="285.2" y="331.7" width="3.3" height="3.3" fill="#76b3d4"/><rect x="288.2" y="331.7" width="3.3" height="3.3" fill="#7ab6d5"/><rect x="291.2" y="331.7" width="3.3" height="3.3" fill="#80bad8"/><rect x="294.2" y="331.7" width="3.3" height="3.3" fill="#88beda"/><rect x="297.2" y="331.7" width="3.3" height="3.3" fill="#91c4dd"/><rect x="300.2" y="331.7" width="3.3" height="3.3" fill="#9ecbe1"/><rect x="303.2" y="331.7" width="3.3" height="3.3" fill="#acd2e5"/><rect x="306.2" y="331.7" width="3.3" height="3.3" fill="#b9d9e9"/><rect x="309.2" y="331.7" width="3.3" height="3.3" fill="#c7dfed"/><rect x="312.2" y="331.7" width="3.3" height="3.3" fill="#d3e6f0"/><rect x="315.2" y="331.7" width="3.3" height="3.3" fill="#dfebf2"/><rect x="318.2" y="331.7" width="3.3" height="3.3" fill="#e9eff3"/><rect x="321.2" y="331.7" width="3.3" height="3.3" fill="#f1f3f3"/><rect x="324.2" y="331.7" width="3.3" height="3.3" fill="#f8f5f3"/><rect x="327.2" y="331.7" width="3.3" height="3.3" fill="#f8f2ed"/><rect x="330.2" y="331.7" width="3.3" height="3.3" fill="#f8efe9"/><rect x="333.2" y="331.7" width="3.3" height="3.3" fill="#f8ede6"/><rect x="336.2" y="331.7" width="3.3" height="3.3" fill="#f8ece4"/><rect x="339.2" y="331.7" width="3.3" height="3.3" fill="#f9ebe2"/><rect x="342.2" y="331.7" width="3.3" height="3.3" fill="#f9eae1"/><rect x="345.2" y="331.7" width="3.3" height="3.3" fill="#f9eae0"/><rect x="222.2" y="334.7" width="3.3" height="3.3" fill="#f8ede6"/><rect x="225.2" y="334.7" width="3.3" height="3.3" fill="#f9e9df"/><rect x="228.2" y="334.7" width="3.3" height="3.3" fill="#f9e3d5"/><rect x="231.2" y="334.7" width="3.3" height="3.3" fill="#f9d9c8"/><rect x="234.2" y="334.7" width="3.3" height="3.3" fill="#f7ccb6"/><rect x="237.2" y="334.7" width="3.3" height="3.3" fill="#f6bca1"/><rect x="240.2" y="334.7" width="3.3" height="3.3" fill="#f4aa88"/><rect x="243.2" y="334.7" width="3.3" height="3.3" fill="#ee9878"/><rect x="246.2" y="334.7" width="3.3" height="3.3" fill="#e6866a"/><rect x="249.2" y="334.7" width="3.3" height="3.3" fill="#df755d"/><rect x="252.2" y="334.7" width="3.3" height="3.3" fill="#d86551"/><rect x="255.2" y="334.7" width="3.3" height="3.3" fill="#d25849"/><rect x="258.2" y="334.7" width="3.3" height="3.3" fill="#cd4f44"/><rect x="261.2" y="334.7" width="3.3" height="3.3" fill="#cb4b43"/><rect x="264.2" y="334.7" width="3.3" height="3.3" fill="#cd4f45"/><rect x="267.2" y="334.7" width="3.3" height="3.3" fill="#d86450"/><rect x="270.2" y="334.7" width="3.3" height="3.3" fill="#f19f7d"/><rect x="273.2" y="334.7" width="3.3" height="3.3" fill="#d0e4f0"/><rect x="276.2" y="334.7" width="3.3" height="3.3" fill="#73b1d3"/><rect x="279.2" y="334.7" width="3.3" height="3.3" fill="#549dc8"/><rect x="282.2" y="334.7" width="3.3" height="3.3" fill="#4d99c6"/><rect x="285.2" y="334.7" width="3.3" height="3.3" fill="#4f9ac7"/><rect x="288.2" y="334.7" width="3.3" height="3.3" fill="#549ec9"/><rect x="291.2" y="334.7" width="3.3" height="3.3" fill="#5ca3cb"/><rect x="294.2" y="334.7" width="3.3" height="3.3" fill="#67aacf"/><rect x="297.2" y="334.7" width="3.3" height="3.3" fill="#73b1d3"/><rect x="300.2" y="334.7" width="3.3" height="3.3" fill="#81bad8"/><rect x="303.2" y="334.7" width="3.3" height="3.3" fill="#8fc3dd"/><rect x="306.2" y="334.7" width="3.3" height="3.3" fill="#a1cce2"/><rect x="309.2" y="334.7" width="3.3" height="3.3" fill="#b2d5e7"/><rect x="312.2" y="334.7" width="3.3" height="3.3" fill="#c2ddec"/><rect x="315.2" y="334.7" width="3.3" height="3.3" fill="#d1e5f0"/><rect x="318.2" y="334.7" width="3.3" height="3.3" fill="#deeaf2"/><rect x="321.2" y="334.7" width="3.3" height="3.3" fill="#e9eff3"/><rect x="324.2" y="334.7" width="3.3" height="3.3" fill="#f2f3f3"/><rect x="327.2" y="334.7" width="3.3" height="3.3" fill="#f8f5f2"/><rect x="330.2" y="334.7" width="3.3" height="3.3" fill="#f8f1ed"/><rect x="333.2" y="334.7" width="3.3" height="3.3" fill="#f8efe9"/><rect x="336.2" y="334.7" width="3.3" height="3.3" fill="#f8ede6"/><rect x="339.2" y="334.7" width="3.3" height="3.3" fill="#f8ece4"/><rect x="342.2" y="334.7" width="3.3" height="3.3" fill="#f9ebe2"/><rect x="345.2" y="334.7" width="3.3" height="3.3" fill="#f9eae1"/><rect x="222.2" y="337.7" width="3.3" height="3.3" fill="#f8ede6"/><rect x="225.2" y="337.7" width="3.3" height="3.3" fill="#f9e9df"/><rect x="228.2" y="337.7" width="3.3" height="3.3" fill="#f9e2d4"/><rect x="231.2" y="337.7" width="3.3" height="3.3" fill="#f9d8c6"/><rect x="234.2" y="337.7" width="3.3" height="3.3" fill="#f7cbb5"/><rect x="237.2" y="337.7" width="3.3" height="3.3" fill="#f6bb9f"/><rect x="240.2" y="337.7" width="3.3" height="3.3" fill="#f4a886"/><rect x="243.2" y="337.7" width="3.3" height="3.3" fill="#ed9676"/><rect x="246.2" y="337.7" width="3.3" height="3.3" fill="#e58469"/><rect x="249.2" y="337.7" width="3.3" height="3.3" fill="#de725b"/><rect x="252.2" y="337.7" width="3.3" height="3.3" fill="#d7624e"/><rect x="255.2" y="337.7" width="3.3" height="3.3" fill="#d05447"/><rect x="258.2" y="337.7" width="3.3" height="3.3" fill="#cb4b43"/><rect x="261.2" y="337.7" width="3.3" height="3.3" fill="#c94741"/><rect x="264.2" y="337.7" width="3.3" height="3.3" fill="#cc4c43"/><rect x="267.2" y="337.7" width="3.3" height="3.3" fill="#d86551"/><rect x="270.2" y="337.7" width="3.3" height="3.3" fill="#f4ad8d"/><rect x="273.2" y="337.7" width="3.3" height="3.3" fill="#acd2e5"/><rect x="276.2" y="337.7" width="3.3" height="3.3" fill="#529cc8"/><rect x="279.2" y="337.7" width="3.3" height="3.3" fill="#3a88bd"/><rect x="282.2" y="337.7" width="3.3" height="3.3" fill="#3784bb"/><rect x="285.2" y="337.7" width="3.3" height="3.3" fill="#3885bc"/><rect x="288.2" y="337.7" width="3.3" height="3.3" fill="#3b89bd"/><rect x="291.2" y="337.7" width="3.3" height="3.3" fill="#3f8ec0"/><rect x="294.2" y="337.7" width="3.3" height="3.3" fill="#4896c5"/><rect x="297.2" y="337.7" width="3.3" height="3.3" fill="#58a0ca"/><rect x="300.2" y="337.7" width="3.3" height="3.3" fill="#69abd0"/><rect x="303.2" y="337.7" width="3.3" height="3.3" fill="#7ab6d6"/><rect x="306.2" y="337.7" width="3.3" height="3.3" fill="#8cc1dc"/><rect x="309.2" y="337.7" width="3.3" height="3.3" fill="#a0cce2"/><rect x="312.2" y="337.7" width="3.3" height="3.3" fill="#b3d6e7"/><rect x="315.2" y="337.7" width="3.3" height="3.3" fill="#c5deec"/><rect x="318.2" y="337.7" width="3.3" height="3.3" fill="#d3e6f1"/><rect x="321.2" y="337.7" width="3.3" height="3.3" fill="#e1ecf2"/><rect x="324.2" y="337.7" width="3.3" height="3.3" fill="#ecf0f3"/><rect x="327.2" y="337.7" width="3.3" height="3.3" fill="#f4f4f3"/><rect x="330.2" y="337.7" width="3.3" height="3.3" fill="#f8f3f0"/><rect x="333.2" y="337.7" width="3.3" height="3.3" fill="#f8f0eb"/><rect x="336.2" y="337.7" width="3.3" height="3.3" fill="#f8eee7"/><rect x="339.2" y="337.7" width="3.3" height="3.3" fill="#f8ece5"/><rect x="342.2" y="337.7" width="3.3" height="3.3" fill="#f8ebe3"/><rect x="345.2" y="337.7" width="3.3" height="3.3" fill="#f9eae1"/><rect x="222.2" y="340.7" width="3.3" height="3.3" fill="#f8ede6"/><rect x="225.2" y="340.7" width="3.3" height="3.3" fill="#f9e8de"/><rect x="228.2" y="340.7" width="3.3" height="3.3" fill="#f9e2d4"/><rect x="231.2" y="340.7" width="3.3" height="3.3" fill="#f9d8c6"/><rect x="234.2" y="340.7" width="3.3" height="3.3" fill="#f7cab4"/><rect x="237.2" y="340.7" width="3.3" height="3.3" fill="#f6ba9e"/><rect x="240.2" y="340.7" width="3.3" height="3.3" fill="#f4a784"/><rect x="243.2" y="340.7" width="3.3" height="3.3" fill="#ed9576"/><rect x="246.2" y="340.7" width="3.3" height="3.3" fill="#e58368"/><rect x="249.2" y="340.7" width="3.3" height="3.3" fill="#dd715a"/><rect x="252.2" y="340.7" width="3.3" height="3.3" fill="#d6604d"/><rect x="255.2" y="340.7" width="3.3" height="3.3" fill="#cf5246"/><rect x="258.2" y="340.7" width="3.3" height="3.3" fill="#ca4942"/><rect x="261.2" y="340.7" width="3.3" height="3.3" fill="#c84540"/><rect x="264.2" y="340.7" width="3.3" height="3.3" fill="#cb4b43"/><rect x="267.2" y="340.7" width="3.3" height="3.3" fill="#d96853"/><rect x="270.2" y="340.7" width="3.3" height="3.3" fill="#f6c0a6"/><rect x="273.2" y="340.7" width="3.3" height="3.3" fill="#8cc1dc"/><rect x="276.2" y="340.7" width="3.3" height="3.3" fill="#3d8bbf"/><rect x="279.2" y="340.7" width="3.3" height="3.3" fill="#2e77b5"/><rect x="282.2" y="340.7" width="3.3" height="3.3" fill="#2a73b2"/><rect x="285.2" y="340.7" width="3.3" height="3.3" fill="#2c74b3"/><rect x="288.2" y="340.7" width="3.3" height="3.3" fill="#2f79b5"/><rect x="291.2" y="340.7" width="3.3" height="3.3" fill="#347fb9"/><rect x="294.2" y="340.7" width="3.3" height="3.3" fill="#3a88bd"/><rect x="297.2" y="340.7" width="3.3" height="3.3" fill="#4292c2"/><rect x="300.2" y="340.7" width="3.3" height="3.3" fill="#559ec9"/><rect x="303.2" y="340.7" width="3.3" height="3.3" fill="#69abd0"/><rect x="306.2" y="340.7" width="3.3" height="3.3" fill="#7db8d7"/><rect x="309.2" y="340.7" width="3.3" height="3.3" fill="#91c4dd"/><rect x="312.2" y="340.7" width="3.3" height="3.3" fill="#a7cfe4"/><rect x="315.2" y="340.7" width="3.3" height="3.3" fill="#bbd9e9"/><rect x="318.2" y="340.7" width="3.3" height="3.3" fill="#cce2ee"/><rect x="321.2" y="340.7" width="3.3" height="3.3" fill="#dae9f2"/><rect x="324.2" y="340.7" width="3.3" height="3.3" fill="#e7eef2"/><rect x="327.2" y="340.7" width="3.3" height="3.3" fill="#f1f3f3"/><rect x="330.2" y="340.7" width="3.3" height="3.3" fill="#f8f5f3"/><rect x="333.2" y="340.7" width="3.3" height="3.3" fill="#f8f1ed"/><rect x="336.2" y="340.7" width="3.3" height="3.3" fill="#f8efe9"/><rect x="339.2" y="340.7" width="3.3" height="3.3" fill="#f8ede5"/><rect x="342.2" y="340.7" width="3.3" height="3.3" fill="#f8ebe3"/><rect x="345.2" y="340.7" width="3.3" height="3.3" fill="#f9ebe2"/><rect x="222.2" y="343.7" width="3.3" height="3.3" fill="#f8ede6"/><rect x="225.2" y="343.7" width="3.3" height="3.3" fill="#f9e8de"/><rect x="228.2" y="343.7" width="3.3" height="3.3" fill="#f9e2d4"/><rect x="231.2" y="343.7" width="3.3" height="3.3" fill="#f9d8c6"/><rect x="234.2" y="343.7" width="3.3" height="3.3" fill="#f7cab4"/><rect x="237.2" y="343.7" width="3.3" height="3.3" fill="#f6ba9e"/><rect x="240.2" y="343.7" width="3.3" height="3.3" fill="#f4a684"/><rect x="243.2" y="343.7" width="3.3" height="3.3" fill="#ed9475"/><rect x="246.2" y="343.7" width="3.3" height="3.3" fill="#e58267"/><rect x="249.2" y="343.7" width="3.3" height="3.3" fill="#dd7059"/><rect x="252.2" y="343.7" width="3.3" height="3.3" fill="#d6604d"/><rect x="255.2" y="343.7" width="3.3" height="3.3" fill="#cf5246"/><rect x="258.2" y="343.7" width="3.3" height="3.3" fill="#ca4841"/><rect x="261.2" y="343.7" width="3.3" height="3.3" fill="#c84440"/><rect x="264.2" y="343.7" width="3.3" height="3.3" fill="#cb4b43"/><rect x="267.2" y="343.7" width="3.3" height="3.3" fill="#dc6d57"/><rect x="270.2" y="343.7" width="3.3" height="3.3" fill="#f8d4c1"/><rect x="273.2" y="343.7" width="3.3" height="3.3" fill="#75b2d4"/><rect x="276.2" y="343.7" width="3.3" height="3.3" fill="#347fb9"/><rect x="279.2" y="343.7" width="3.3" height="3.3" fill="#256bae"/><rect x="282.2" y="343.7" width="3.3" height="3.3" fill="#2167ac"/><rect x="285.2" y="343.7" width="3.3" height="3.3" fill="#2368ad"/><rect x="288.2" y="343.7" width="3.3" height="3.3" fill="#266daf"/><rect x="291.2" y="343.7" width="3.3" height="3.3" fill="#2c75b3"/><rect x="294.2" y="343.7" width="3.3" height="3.3" fill="#337eb8"/><rect x="297.2" y="343.7" width="3.3" height="3.3" fill="#3b89be"/><rect x="300.2" y="343.7" width="3.3" height="3.3" fill="#4795c4"/><rect x="303.2" y="343.7" width="3.3" height="3.3" fill="#5da3cc"/><rect x="306.2" y="343.7" width="3.3" height="3.3" fill="#73b1d3"/><rect x="309.2" y="343.7" width="3.3" height="3.3" fill="#88bfda"/><rect x="312.2" y="343.7" width="3.3" height="3.3" fill="#9ecbe1"/><rect x="315.2" y="343.7" width="3.3" height="3.3" fill="#b4d6e7"/><rect x="318.2" y="343.7" width="3.3" height="3.3" fill="#c6dfed"/><rect x="321.2" y="343.7" width="3.3" height="3.3" fill="#d6e7f1"/><rect x="324.2" y="343.7" width="3.3" height="3.3" fill="#e3edf2"/><rect x="327.2" y="343.7" width="3.3" height="3.3" fill="#eef2f3"/><rect x="330.2" y="343.7" width="3.3" height="3.3" fill="#f6f5f3"/><rect x="333.2" y="343.7" width="3.3" height="3.3" fill="#f8f2ee"/><rect x="336.2" y="343.7" width="3.3" height="3.3" fill="#f8efe9"/><rect x="339.2" y="343.7" width="3.3" height="3.3" fill="#f8ede6"/><rect x="342.2" y="343.7" width="3.3" height="3.3" fill="#f8ece4"/><rect x="345.2" y="343.7" width="3.3" height="3.3" fill="#f9ebe2"/><rect x="222.2" y="346.7" width="3.3" height="3.3" fill="#f8ede6"/><rect x="225.2" y="346.7" width="3.3" height="3.3" fill="#f9e8de"/><rect x="228.2" y="346.7" width="3.3" height="3.3" fill="#f9e2d4"/><rect x="231.2" y="346.7" width="3.3" height="3.3" fill="#f9d8c6"/><rect x="234.2" y="346.7" width="3.3" height="3.3" fill="#f7cab4"/><rect x="237.2" y="346.7" width="3.3" height="3.3" fill="#f6b99d"/><rect x="240.2" y="346.7" width="3.3" height="3.3" fill="#f4a684"/><rect x="243.2" y="346.7" width="3.3" height="3.3" fill="#ec9475"/><rect x="246.2" y="346.7" width="3.3" height="3.3" fill="#e58267"/><rect x="249.2" y="346.7" width="3.3" height="3.3" fill="#dd7059"/><rect x="252.2" y="346.7" width="3.3" height="3.3" fill="#d55f4c"/><rect x="255.2" y="346.7" width="3.3" height="3.3" fill="#ce5146"/><rect x="258.2" y="346.7" width="3.3" height="3.3" fill="#ca4841"/><rect x="261.2" y="346.7" width="3.3" height="3.3" fill="#c84440"/><rect x="264.2" y="346.7" width="3.3" height="3.3" fill="#cc4d44"/><rect x="267.2" y="346.7" width="3.3" height="3.3" fill="#de745c"/><rect x="270.2" y="346.7" width="3.3" height="3.3" fill="#f9e7dc"/><rect x="273.2" y="346.7" width="3.3" height="3.3" fill="#63a7cd"/><rect x="276.2" y="346.7" width="3.3" height="3.3" fill="#2e77b5"/><rect x="279.2" y="346.7" width="3.3" height="3.3" fill="#1f63a8"/><rect x="282.2" y="346.7" width="3.3" height="3.3" fill="#1c5ea1"/><rect x="285.2" y="346.7" width="3.3" height="3.3" fill="#1e60a4"/><rect x="288.2" y="346.7" width="3.3" height="3.3" fill="#2166ac"/><rect x="291.2" y="346.7" width="3.3" height="3.3" fill="#276eb0"/><rect x="294.2" y="346.7" width="3.3" height="3.3" fill="#2e78b5"/><rect x="297.2" y="346.7" width="3.3" height="3.3" fill="#3783bb"/><rect x="300.2" y="346.7" width="3.3" height="3.3" fill="#4190c1"/><rect x="303.2" y="346.7" width="3.3" height="3.3" fill="#559ec9"/><rect x="306.2" y="346.7" width="3.3" height="3.3" fill="#6dadd1"/><rect x="309.2" y="346.7" width="3.3" height="3.3" fill="#83bbd8"/><rect x="312.2" y="346.7" width="3.3" height="3.3" fill="#99c8e0"/><rect x="315.2" y="346.7" width="3.3" height="3.3" fill="#afd4e6"/><rect x="318.2" y="346.7" width="3.3" height="3.3" fill="#c3deec"/><rect x="321.2" y="346.7" width="3.3" height="3.3" fill="#d3e6f0"/><rect x="324.2" y="346.7" width="3.3" height="3.3" fill="#e1ecf2"/><rect x="327.2" y="346.7" width="3.3" height="3.3" fill="#ecf1f3"/><rect x="330.2" y="346.7" width="3.3" height="3.3" fill="#f5f5f3"/><rect x="333.2" y="346.7" width="3.3" height="3.3" fill="#f8f3ef"/><rect x="336.2" y="346.7" width="3.3" height="3.3" fill="#f8f0ea"/><rect x="339.2" y="346.7" width="3.3" height="3.3" fill="#f8ede6"/><rect x="342.2" y="346.7" width="3.3" height="3.3" fill="#f8ece4"/><rect x="345.2" y="346.7" width="3.3" height="3.3" fill="#f9ebe2"/><rect x="222.2" y="349.7" width="3.3" height="3.3" fill="#f8ede6"/><rect x="225.2" y="349.7" width="3.3" height="3.3" fill="#f9e8de"/><rect x="228.2" y="349.7" width="3.3" height="3.3" fill="#f9e2d4"/><rect x="231.2" y="349.7" width="3.3" height="3.3" fill="#f9d8c6"/><rect x="234.2" y="349.7" width="3.3" height="3.3" fill="#f7cab4"/><rect x="237.2" y="349.7" width="3.3" height="3.3" fill="#f6b99d"/><rect x="240.2" y="349.7" width="3.3" height="3.3" fill="#f4a684"/><rect x="243.2" y="349.7" width="3.3" height="3.3" fill="#ec9475"/><rect x="246.2" y="349.7" width="3.3" height="3.3" fill="#e58267"/><rect x="249.2" y="349.7" width="3.3" height="3.3" fill="#dd7059"/><rect x="252.2" y="349.7" width="3.3" height="3.3" fill="#d55f4c"/><rect x="255.2" y="349.7" width="3.3" height="3.3" fill="#ce5146"/><rect x="258.2" y="349.7" width="3.3" height="3.3" fill="#ca4841"/><rect x="261.2" y="349.7" width="3.3" height="3.3" fill="#c84540"/><rect x="264.2" y="349.7" width="3.3" height="3.3" fill="#cd4e44"/><rect x="267.2" y="349.7" width="3.3" height="3.3" fill="#e27b62"/><rect x="270.2" y="349.7" width="3.3" height="3.3" fill="#f5f4f3"/><rect x="273.2" y="349.7" width="3.3" height="3.3" fill="#559ec9"/><rect x="276.2" y="349.7" width="3.3" height="3.3" fill="#2a72b2"/><rect x="279.2" y="349.7" width="3.3" height="3.3" fill="#1d5ea1"/><rect x="282.2" y="349.7" width="3.3" height="3.3" fill="#1a599a"/><rect x="285.2" y="349.7" width="3.3" height="3.3" fill="#1b5b9d"/><rect x="288.2" y="349.7" width="3.3" height="3.3" fill="#1e62a6"/><rect x="291.2" y="349.7" width="3.3" height="3.3" fill="#246aae"/><rect x="294.2" y="349.7" width="3.3" height="3.3" fill="#2c74b3"/><rect x="297.2" y="349.7" width="3.3" height="3.3" fill="#3580b9"/><rect x="300.2" y="349.7" width="3.3" height="3.3" fill="#3f8dc0"/><rect x="303.2" y="349.7" width="3.3" height="3.3" fill="#519cc8"/><rect x="306.2" y="349.7" width="3.3" height="3.3" fill="#69abd0"/><rect x="309.2" y="349.7" width="3.3" height="3.3" fill="#80b9d7"/><rect x="312.2" y="349.7" width="3.3" height="3.3" fill="#96c7df"/><rect x="315.2" y="349.7" width="3.3" height="3.3" fill="#add2e5"/><rect x="318.2" y="349.7" width="3.3" height="3.3" fill="#c1ddeb"/><rect x="321.2" y="349.7" width="3.3" height="3.3" fill="#d1e5f0"/><rect x="324.2" y="349.7" width="3.3" height="3.3" fill="#e0ebf2"/><rect x="327.2" y="349.7" width="3.3" height="3.3" fill="#ecf0f3"/><rect x="330.2" y="349.7" width="3.3" height="3.3" fill="#f5f4f3"/><rect x="333.2" y="349.7" width="3.3" height="3.3" fill="#f8f3f0"/><rect x="336.2" y="349.7" width="3.3" height="3.3" fill="#f8f0ea"/><rect x="339.2" y="349.7" width="3.3" height="3.3" fill="#f8eee7"/><rect x="342.2" y="349.7" width="3.3" height="3.3" fill="#f8ece4"/><rect x="345.2" y="349.7" width="3.3" height="3.3" fill="#f9ebe2"/><rect x="222.2" y="352.7" width="3.3" height="3.3" fill="#f8ede6"/><rect x="225.2" y="352.7" width="3.3" height="3.3" fill="#f9e8de"/><rect x="228.2" y="352.7" width="3.3" height="3.3" fill="#f9e2d4"/><rect x="231.2" y="352.7" width="3.3" height="3.3" fill="#f9d8c6"/><rect x="234.2" y="352.7" width="3.3" height="3.3" fill="#f7cab4"/><rect x="237.2" y="352.7" width="3.3" height="3.3" fill="#f6b99d"/><rect x="240.2" y="352.7" width="3.3" height="3.3" fill="#f4a684"/><rect x="243.2" y="352.7" width="3.3" height="3.3" fill="#ec9475"/><rect x="246.2" y="352.7" width="3.3" height="3.3" fill="#e58267"/><rect x="249.2" y="352.7" width="3.3" height="3.3" fill="#dd7059"/><rect x="252.2" y="352.7" width="3.3" height="3.3" fill="#d55f4c"/><rect x="255.2" y="352.7" width="3.3" height="3.3" fill="#ce5146"/><rect x="258.2" y="352.7" width="3.3" height="3.3" fill="#ca4841"/><rect x="261.2" y="352.7" width="3.3" height="3.3" fill="#c84540"/><rect x="264.2" y="352.7" width="3.3" height="3.3" fill="#ce5045"/><rect x="267.2" y="352.7" width="3.3" height="3.3" fill="#e58468"/><rect x="270.2" y="352.7" width="3.3" height="3.3" fill="#ddeaf2"/><rect x="273.2" y="352.7" width="3.3" height="3.3" fill="#4b98c5"/><rect x="276.2" y="352.7" width="3.3" height="3.3" fill="#2870b1"/><rect x="279.2" y="352.7" width="3.3" height="3.3" fill="#1b5c9e"/><rect x="282.2" y="352.7" width="3.3" height="3.3" fill="#195797"/><rect x="285.2" y="352.7" width="3.3" height="3.3" fill="#1a599a"/><rect x="288.2" y="352.7" width="3.3" height="3.3" fill="#1d60a3"/><rect x="291.2" y="352.7" width="3.3" height="3.3" fill="#2369ad"/><rect x="294.2" y="352.7" width="3.3" height="3.3" fill="#2b73b2"/><rect x="297.2" y="352.7" width="3.3" height="3.3" fill="#347fb8"/><rect x="300.2" y="352.7" width="3.3" height="3.3" fill="#3e8cbf"/><rect x="303.2" y="352.7" width="3.3" height="3.3" fill="#4f9bc7"/><rect x="306.2" y="352.7" width="3.3" height="3.3" fill="#67aacf"/><rect x="309.2" y="352.7" width="3.3" height="3.3" fill="#7fb9d7"/><rect x="312.2" y="352.7" width="3.3" height="3.3" fill="#94c6de"/><rect x="315.2" y="352.7" width="3.3" height="3.3" fill="#acd2e5"/><rect x="318.2" y="352.7" width="3.3" height="3.3" fill="#c0dceb"/><rect x="321.2" y="352.7" width="3.3" height="3.3" fill="#d1e5f0"/><rect x="324.2" y="352.7" width="3.3" height="3.3" fill="#dfebf2"/><rect x="327.2" y="352.7" width="3.3" height="3.3" fill="#ebf0f3"/><rect x="330.2" y="352.7" width="3.3" height="3.3" fill="#f4f4f3"/><rect x="333.2" y="352.7" width="3.3" height="3.3" fill="#f8f3f0"/><rect x="336.2" y="352.7" width="3.3" height="3.3" fill="#f8f0eb"/><rect x="339.2" y="352.7" width="3.3" height="3.3" fill="#f8eee7"/><rect x="342.2" y="352.7" width="3.3" height="3.3" fill="#f8ece4"/><rect x="345.2" y="352.7" width="3.3" height="3.3" fill="#f8ebe3"/><rect x="222.2" y="355.7" width="3.3" height="3.3" fill="#f8ede6"/><rect x="225.2" y="355.7" width="3.3" height="3.3" fill="#f9e8de"/><rect x="228.2" y="355.7" width="3.3" height="3.3" fill="#f9e2d4"/><rect x="231.2" y="355.7" width="3.3" height="3.3" fill="#f9d8c6"/><rect x="234.2" y="355.7" width="3.3" height="3.3" fill="#f7cab4"/><rect x="237.2" y="355.7" width="3.3" height="3.3" fill="#f6ba9e"/><rect x="240.2" y="355.7" width="3.3" height="3.3" fill="#f4a684"/><rect x="243.2" y="355.7" width="3.3" height="3.3" fill="#ec9475"/><rect x="246.2" y="355.7" width="3.3" height="3.3" fill="#e58267"/><rect x="249.2" y="355.7" width="3.3" height="3.3" fill="#dd7059"/><rect x="252.2" y="355.7" width="3.3" height="3.3" fill="#d55f4c"/><rect x="255.2" y="355.7" width="3.3" height="3.3" fill="#ce5146"/><rect x="258.2" y="355.7" width="3.3" height="3.3" fill="#ca4841"/><rect x="261.2" y="355.7" width="3.3" height="3.3" fill="#c94640"/><rect x="264.2" y="355.7" width="3.3" height="3.3" fill="#cf5347"/><rect x="267.2" y="355.7" width="3.3" height="3.3" fill="#e98d70"/><rect x="270.2" y="355.7" width="3.3" height="3.3" fill="#c9e0ed"/><rect x="273.2" y="355.7" width="3.3" height="3.3" fill="#4493c3"/><rect x="276.2" y="355.7" width="3.3" height="3.3" fill="#276eb0"/><rect x="279.2" y="355.7" width="3.3" height="3.3" fill="#1b5b9d"/><rect x="282.2" y="355.7" width="3.3" height="3.3" fill="#185696"/><rect x="285.2" y="355.7" width="3.3" height="3.3" fill="#1a5899"/><rect x="288.2" y="355.7" width="3.3" height="3.3" fill="#1d5fa2"/><rect x="291.2" y="355.7" width="3.3" height="3.3" fill="#2268ad"/><rect x="294.2" y="355.7" width="3.3" height="3.3" fill="#2a72b2"/><rect x="297.2" y="355.7" width="3.3" height="3.3" fill="#337eb8"/><rect x="300.2" y="355.7" width="3.3" height="3.3" fill="#3d8cbf"/><rect x="303.2" y="355.7" width="3.3" height="3.3" fill="#4f9ac7"/><rect x="306.2" y="355.7" width="3.3" height="3.3" fill="#67aacf"/><rect x="309.2" y="355.7" width="3.3" height="3.3" fill="#7eb8d7"/><rect x="312.2" y="355.7" width="3.3" height="3.3" fill="#94c6de"/><rect x="315.2" y="355.7" width="3.3" height="3.3" fill="#abd2e5"/><rect x="318.2" y="355.7" width="3.3" height="3.3" fill="#c0dceb"/><rect x="321.2" y="355.7" width="3.3" height="3.3" fill="#d0e4f0"/><rect x="324.2" y="355.7" width="3.3" height="3.3" fill="#dfebf2"/><rect x="327.2" y="355.7" width="3.3" height="3.3" fill="#ebf0f3"/><rect x="330.2" y="355.7" width="3.3" height="3.3" fill="#f4f4f3"/><rect x="333.2" y="355.7" width="3.3" height="3.3" fill="#f8f4f0"/><rect x="336.2" y="355.7" width="3.3" height="3.3" fill="#f8f0eb"/><rect x="339.2" y="355.7" width="3.3" height="3.3" fill="#f8eee7"/><rect x="342.2" y="355.7" width="3.3" height="3.3" fill="#f8ece5"/><rect x="345.2" y="355.7" width="3.3" height="3.3" fill="#f8ebe3"/><rect x="222.2" y="358.7" width="3.3" height="3.3" fill="#f8ede6"/><rect x="225.2" y="358.7" width="3.3" height="3.3" fill="#f9e8de"/><rect x="228.2" y="358.7" width="3.3" height="3.3" fill="#f9e2d4"/><rect x="231.2" y="358.7" width="3.3" height="3.3" fill="#f9d8c6"/><rect x="234.2" y="358.7" width="3.3" height="3.3" fill="#f7cab4"/><rect x="237.2" y="358.7" width="3.3" height="3.3" fill="#f6ba9e"/><rect x="240.2" y="358.7" width="3.3" height="3.3" fill="#f4a684"/><rect x="243.2" y="358.7" width="3.3" height="3.3" fill="#ed9575"/><rect x="246.2" y="358.7" width="3.3" height="3.3" fill="#e58267"/><rect x="249.2" y="358.7" width="3.3" height="3.3" fill="#dd7059"/><rect x="252.2" y="358.7" width="3.3" height="3.3" fill="#d6604d"/><rect x="255.2" y="358.7" width="3.3" height="3.3" fill="#cf5246"/><rect x="258.2" y="358.7" width="3.3" height="3.3" fill="#ca4842"/><rect x="261.2" y="358.7" width="3.3" height="3.3" fill="#c94741"/><rect x="264.2" y="358.7" width="3.3" height="3.3" fill="#d15748"/><rect x="267.2" y="358.7" width="3.3" height="3.3" fill="#ee9878"/><rect x="270.2" y="358.7" width="3.3" height="3.3" fill="#b6d7e8"/><rect x="273.2" y="358.7" width="3.3" height="3.3" fill="#4090c1"/><rect x="276.2" y="358.7" width="3.3" height="3.3" fill="#276eb0"/><rect x="279.2" y="358.7" width="3.3" height="3.3" fill="#1b5a9c"/><rect x="282.2" y="358.7" width="3.3" height="3.3" fill="#185696"/><rect x="285.2" y="358.7" width="3.3" height="3.3" fill="#1a5899"/><rect x="288.2" y="358.7" width="3.3" height="3.3" fill="#1d5fa2"/><rect x="291.2" y="358.7" width="3.3" height="3.3" fill="#2268ad"/><rect x="294.2" y="358.7" width="3.3" height="3.3" fill="#2a72b2"/><rect x="297.2" y="358.7" width="3.3" height="3.3" fill="#337eb8"/><rect x="300.2" y="358.7" width="3.3" height="3.3" fill="#3d8cbf"/><rect x="303.2" y="358.7" width="3.3" height="3.3" fill="#4f9ac7"/><rect x="306.2" y="358.7" width="3.3" height="3.3" fill="#67a9cf"/><rect x="309.2" y="358.7" width="3.3" height="3.3" fill="#7eb8d7"/><rect x="312.2" y="358.7" width="3.3" height="3.3" fill="#93c5de"/><rect x="315.2" y="358.7" width="3.3" height="3.3" fill="#abd1e5"/><rect x="318.2" y="358.7" width="3.3" height="3.3" fill="#bfdceb"/><rect x="321.2" y="358.7" width="3.3" height="3.3" fill="#d0e4f0"/><rect x="324.2" y="358.7" width="3.3" height="3.3" fill="#deebf2"/><rect x="327.2" y="358.7" width="3.3" height="3.3" fill="#eaf0f3"/><rect x="330.2" y="358.7" width="3.3" height="3.3" fill="#f3f4f3"/><rect x="333.2" y="358.7" width="3.3" height="3.3" fill="#f8f4f1"/><rect x="336.2" y="358.7" width="3.3" height="3.3" fill="#f8f1ec"/><rect x="339.2" y="358.7" width="3.3" height="3.3" fill="#f8eee8"/><rect x="342.2" y="358.7" width="3.3" height="3.3" fill="#f8ede5"/><rect x="345.2" y="358.7" width="3.3" height="3.3" fill="#f8ece4"/><rect x="222.2" y="361.7" width="3.3" height="3.3" fill="#f8ede6"/><rect x="225.2" y="361.7" width="3.3" height="3.3" fill="#f9e8de"/><rect x="228.2" y="361.7" width="3.3" height="3.3" fill="#f9e2d4"/><rect x="231.2" y="361.7" width="3.3" height="3.3" fill="#f9d8c6"/><rect x="234.2" y="361.7" width="3.3" height="3.3" fill="#f7cbb4"/><rect x="237.2" y="361.7" width="3.3" height="3.3" fill="#f6ba9e"/><rect x="240.2" y="361.7" width="3.3" height="3.3" fill="#f4a785"/><rect x="243.2" y="361.7" width="3.3" height="3.3" fill="#ed9576"/><rect x="246.2" y="361.7" width="3.3" height="3.3" fill="#e58368"/><rect x="249.2" y="361.7" width="3.3" height="3.3" fill="#dd715a"/><rect x="252.2" y="361.7" width="3.3" height="3.3" fill="#d6614d"/><rect x="255.2" y="361.7" width="3.3" height="3.3" fill="#cf5346"/><rect x="258.2" y="361.7" width="3.3" height="3.3" fill="#cb4a42"/><rect x="261.2" y="361.7" width="3.3" height="3.3" fill="#ca4842"/><rect x="264.2" y="361.7" width="3.3" height="3.3" fill="#d45c4b"/><rect x="267.2" y="361.7" width="3.3" height="3.3" fill="#f3a481"/><rect x="270.2" y="361.7" width="3.3" height="3.3" fill="#a5cee3"/><rect x="273.2" y="361.7" width="3.3" height="3.3" fill="#3e8dc0"/><rect x="276.2" y="361.7" width="3.3" height="3.3" fill="#266daf"/><rect x="279.2" y="361.7" width="3.3" height="3.3" fill="#1b5a9c"/><rect x="282.2" y="361.7" width="3.3" height="3.3" fill="#185695"/><rect x="285.2" y="361.7" width="3.3" height="3.3" fill="#1a5899"/><rect x="288.2" y="361.7" width="3.3" height="3.3" fill="#1d5fa2"/><rect x="291.2" y="361.7" width="3.3" height="3.3" fill="#2268ad"/><rect x="294.2" y="361.7" width="3.3" height="3.3" fill="#2a72b2"/><rect x="297.2" y="361.7" width="3.3" height="3.3" fill="#337eb8"/><rect x="300.2" y="361.7" width="3.3" height="3.3" fill="#3d8cbf"/><rect x="303.2" y="361.7" width="3.3" height="3.3" fill="#4e9ac7"/><rect x="306.2" y="361.7" width="3.3" height="3.3" fill="#66a9cf"/><rect x="309.2" y="361.7" width="3.3" height="3.3" fill="#7db8d7"/><rect x="312.2" y="361.7" width="3.3" height="3.3" fill="#93c5de"/><rect x="315.2" y="361.7" width="3.3" height="3.3" fill="#aad1e5"/><rect x="318.2" y="361.7" width="3.3" height="3.3" fill="#bedbeb"/><rect x="321.2" y="361.7" width="3.3" height="3.3" fill="#cfe4ef"/><rect x="324.2" y="361.7" width="3.3" height="3.3" fill="#ddeaf2"/><rect x="327.2" y="361.7" width="3.3" height="3.3" fill="#e9eff3"/><rect x="330.2" y="361.7" width="3.3" height="3.3" fill="#f2f3f3"/><rect x="333.2" y="361.7" width="3.3" height="3.3" fill="#f8f4f2"/><rect x="336.2" y="361.7" width="3.3" height="3.3" fill="#f8f1ed"/><rect x="339.2" y="361.7" width="3.3" height="3.3" fill="#f8efe9"/><rect x="342.2" y="361.7" width="3.3" height="3.3" fill="#f8ede6"/><rect x="345.2" y="361.7" width="3.3" height="3.3" fill="#f8ece4"/><rect x="222.2" y="364.7" width="3.3" height="3.3" fill="#f8ede6"/><rect x="225.2" y="364.7" width="3.3" height="3.3" fill="#f9e9df"/><rect x="228.2" y="364.7" width="3.3" height="3.3" fill="#f9e2d4"/><rect x="231.2" y="364.7" width="3.3" height="3.3" fill="#f9d8c7"/><rect x="234.2" y="364.7" width="3.3" height="3.3" fill="#f7cbb5"/><rect x="237.2" y="364.7" width="3.3" height="3.3" fill="#f6bb9f"/><rect x="240.2" y="364.7" width="3.3" height="3.3" fill="#f4a886"/><rect x="243.2" y="364.7" width="3.3" height="3.3" fill="#ed9677"/><rect x="246.2" y="364.7" width="3.3" height="3.3" fill="#e68469"/><rect x="249.2" y="364.7" width="3.3" height="3.3" fill="#de735b"/><rect x="252.2" y="364.7" width="3.3" height="3.3" fill="#d7634f"/><rect x="255.2" y="364.7" width="3.3" height="3.3" fill="#d05548"/><rect x="258.2" y="364.7" width="3.3" height="3.3" fill="#cc4c43"/><rect x="261.2" y="364.7" width="3.3" height="3.3" fill="#cc4c43"/><rect x="264.2" y="364.7" width="3.3" height="3.3" fill="#d7624f"/><rect x="267.2" y="364.7" width="3.3" height="3.3" fill="#f5b598"/><rect x="270.2" y="364.7" width="3.3" height="3.3" fill="#95c6df"/><rect x="273.2" y="364.7" width="3.3" height="3.3" fill="#3d8bbf"/><rect x="276.2" y="364.7" width="3.3" height="3.3" fill="#266caf"/><rect x="279.2" y="364.7" width="3.3" height="3.3" fill="#1b5a9c"/><rect x="282.2" y="364.7" width="3.3" height="3.3" fill="#185696"/><rect x="285.2" y="364.7" width="3.3" height="3.3" fill="#1a5899"/><rect x="288.2" y="364.7" width="3.3" height="3.3" fill="#1d5fa2"/><rect x="291.2" y="364.7" width="3.3" height="3.3" fill="#2268ad"/><rect x="294.2" y="364.7" width="3.3" height="3.3" fill="#2a72b2"/><rect x="297.2" y="364.7" width="3.3" height="3.3" fill="#337eb8"/><rect x="300.2" y="364.7" width="3.3" height="3.3" fill="#3d8bbf"/><rect x="303.2" y="364.7" width="3.3" height="3.3" fill="#4e9ac7"/><rect x="306.2" y="364.7" width="3.3" height="3.3" fill="#66a9cf"/><rect x="309.2" y="364.7" width="3.3" height="3.3" fill="#7db8d7"/><rect x="312.2" y="364.7" width="3.3" height="3.3" fill="#92c5de"/><rect x="315.2" y="364.7" width="3.3" height="3.3" fill="#aad1e5"/><rect x="318.2" y="364.7" width="3.3" height="3.3" fill="#bedbea"/><rect x="321.2" y="364.7" width="3.3" height="3.3" fill="#cee3ef"/><rect x="324.2" y="364.7" width="3.3" height="3.3" fill="#dceaf2"/><rect x="327.2" y="364.7" width="3.3" height="3.3" fill="#e8eff3"/><rect x="330.2" y="364.7" width="3.3" height="3.3" fill="#f1f3f3"/><rect x="333.2" y="364.7" width="3.3" height="3.3" fill="#f8f5f3"/><rect x="336.2" y="364.7" width="3.3" height="3.3" fill="#f8f2ee"/><rect x="339.2" y="364.7" width="3.3" height="3.3" fill="#f8f0ea"/><rect x="342.2" y="364.7" width="3.3" height="3.3" fill="#f8eee7"/><rect x="345.2" y="364.7" width="3.3" height="3.3" fill="#f8ede6"/><rect x="222.2" y="367.7" width="3.3" height="3.3" fill="#f8ede6"/><rect x="225.2" y="367.7" width="3.3" height="3.3" fill="#f9e9df"/><rect x="228.2" y="367.7" width="3.3" height="3.3" fill="#f9e3d5"/><rect x="231.2" y="367.7" width="3.3" height="3.3" fill="#f9d9c8"/><rect x="234.2" y="367.7" width="3.3" height="3.3" fill="#f7ccb7"/><rect x="237.2" y="367.7" width="3.3" height="3.3" fill="#f6bda2"/><rect x="240.2" y="367.7" width="3.3" height="3.3" fill="#f4aa89"/><rect x="243.2" y="367.7" width="3.3" height="3.3" fill="#ee9978"/><rect x="246.2" y="367.7" width="3.3" height="3.3" fill="#e7876b"/><rect x="249.2" y="367.7" width="3.3" height="3.3" fill="#df765e"/><rect x="252.2" y="367.7" width="3.3" height="3.3" fill="#d86652"/><rect x="255.2" y="367.7" width="3.3" height="3.3" fill="#d2594a"/><rect x="258.2" y="367.7" width="3.3" height="3.3" fill="#ce5146"/><rect x="261.2" y="367.7" width="3.3" height="3.3" fill="#ce5146"/><rect x="264.2" y="367.7" width="3.3" height="3.3" fill="#db6b55"/><rect x="267.2" y="367.7" width="3.3" height="3.3" fill="#f7c7b0"/><rect x="270.2" y="367.7" width="3.3" height="3.3" fill="#89bfdb"/><rect x="273.2" y="367.7" width="3.3" height="3.3" fill="#3c89be"/><rect x="276.2" y="367.7" width="3.3" height="3.3" fill="#266daf"/><rect x="279.2" y="367.7" width="3.3" height="3.3" fill="#1b5b9d"/><rect x="282.2" y="367.7" width="3.3" height="3.3" fill="#195696"/><rect x="285.2" y="367.7" width="3.3" height="3.3" fill="#1a599a"/><rect x="288.2" y="367.7" width="3.3" height="3.3" fill="#1d5fa3"/><rect x="291.2" y="367.7" width="3.3" height="3.3" fill="#2368ad"/><rect x="294.2" y="367.7" width="3.3" height="3.3" fill="#2a73b2"/><rect x="297.2" y="367.7" width="3.3" height="3.3" fill="#337fb8"/><rect x="300.2" y="367.7" width="3.3" height="3.3" fill="#3d8cbf"/><rect x="303.2" y="367.7" width="3.3" height="3.3" fill="#4e9ac7"/><rect x="306.2" y="367.7" width="3.3" height="3.3" fill="#66a9cf"/><rect x="309.2" y="367.7" width="3.3" height="3.3" fill="#7db7d6"/><rect x="312.2" y="367.7" width="3.3" height="3.3" fill="#92c5de"/><rect x="315.2" y="367.7" width="3.3" height="3.3" fill="#a9d0e4"/><rect x="318.2" y="367.7" width="3.3" height="3.3" fill="#bddaea"/><rect x="321.2" y="367.7" width="3.3" height="3.3" fill="#cde3ef"/><rect x="324.2" y="367.7" width="3.3" height="3.3" fill="#dbe9f2"/><rect x="327.2" y="367.7" width="3.3" height="3.3" fill="#e7eef2"/><rect x="330.2" y="367.7" width="3.3" height="3.3" fill="#f0f2f3"/><rect x="333.2" y="367.7" width="3.3" height="3.3" fill="#f7f5f3"/><rect x="336.2" y="367.7" width="3.3" height="3.3" fill="#f8f3ef"/><rect x="339.2" y="367.7" width="3.3" height="3.3" fill="#f8f1eb"/><rect x="342.2" y="367.7" width="3.3" height="3.3" fill="#f8efe9"/><rect x="345.2" y="367.7" width="3.3" height="3.3" fill="#f8eee7"/><rect x="222.2" y="370.7" width="3.3" height="3.3" fill="#f8eee7"/><rect x="225.2" y="370.7" width="3.3" height="3.3" fill="#f9eae1"/><rect x="228.2" y="370.7" width="3.3" height="3.3" fill="#f9e4d8"/><rect x="231.2" y="370.7" width="3.3" height="3.3" fill="#f9dccc"/><rect x="234.2" y="370.7" width="3.3" height="3.3" fill="#f8d0bc"/><rect x="237.2" y="370.7" width="3.3" height="3.3" fill="#f6c2a9"/><rect x="240.2" y="370.7" width="3.3" height="3.3" fill="#f5b192"/><rect x="243.2" y="370.7" width="3.3" height="3.3" fill="#f19f7e"/><rect x="246.2" y="370.7" width="3.3" height="3.3" fill="#ea8f71"/><rect x="249.2" y="370.7" width="3.3" height="3.3" fill="#e38065"/><rect x="252.2" y="370.7" width="3.3" height="3.3" fill="#dd715a"/><rect x="255.2" y="370.7" width="3.3" height="3.3" fill="#d86651"/><rect x="258.2" y="370.7" width="3.3" height="3.3" fill="#d55e4c"/><rect x="261.2" y="370.7" width="3.3" height="3.3" fill="#d6604d"/><rect x="264.2" y="370.7" width="3.3" height="3.3" fill="#e27b62"/><rect x="267.2" y="370.7" width="3.3" height="3.3" fill="#f9dccc"/><rect x="270.2" y="370.7" width="3.3" height="3.3" fill="#84bcd9"/><rect x="273.2" y="370.7" width="3.3" height="3.3" fill="#3e8dc0"/><rect x="276.2" y="370.7" width="3.3" height="3.3" fill="#2a73b2"/><rect x="279.2" y="370.7" width="3.3" height="3.3" fill="#1f63a8"/><rect x="282.2" y="370.7" width="3.3" height="3.3" fill="#1d5fa3"/><rect x="285.2" y="370.7" width="3.3" height="3.3" fill="#1f62a6"/><rect x="288.2" y="370.7" width="3.3" height="3.3" fill="#2267ac"/><rect x="291.2" y="370.7" width="3.3" height="3.3" fill="#286fb0"/><rect x="294.2" y="370.7" width="3.3" height="3.3" fill="#2f79b5"/><rect x="297.2" y="370.7" width="3.3" height="3.3" fill="#3884bb"/><rect x="300.2" y="370.7" width="3.3" height="3.3" fill="#4190c1"/><rect x="303.2" y="370.7" width="3.3" height="3.3" fill="#559fc9"/><rect x="306.2" y="370.7" width="3.3" height="3.3" fill="#6cadd1"/><rect x="309.2" y="370.7" width="3.3" height="3.3" fill="#81bad8"/><rect x="312.2" y="370.7" width="3.3" height="3.3" fill="#96c7df"/><rect x="315.2" y="370.7" width="3.3" height="3.3" fill="#acd2e5"/><rect x="318.2" y="370.7" width="3.3" height="3.3" fill="#bfdbeb"/><rect x="321.2" y="370.7" width="3.3" height="3.3" fill="#cee3ef"/><rect x="324.2" y="370.7" width="3.3" height="3.3" fill="#dceaf2"/><rect x="327.2" y="370.7" width="3.3" height="3.3" fill="#e7eef2"/><rect x="330.2" y="370.7" width="3.3" height="3.3" fill="#eff2f3"/><rect x="333.2" y="370.7" width="3.3" height="3.3" fill="#f6f5f3"/><rect x="336.2" y="370.7" width="3.3" height="3.3" fill="#f8f4f0"/><rect x="339.2" y="370.7" width="3.3" height="3.3" fill="#f8f1ed"/><rect x="342.2" y="370.7" width="3.3" height="3.3" fill="#f8f0ea"/><rect x="345.2" y="370.7" width="3.3" height="3.3" fill="#f8efe9"/><rect x="222.2" y="373.7" width="3.3" height="3.3" fill="#f8f1ec"/><rect x="225.2" y="373.7" width="3.3" height="3.3" fill="#f8eee7"/><rect x="228.2" y="373.7" width="3.3" height="3.3" fill="#f9eae1"/><rect x="231.2" y="373.7" width="3.3" height="3.3" fill="#f9e5d9"/><rect x="234.2" y="373.7" width="3.3" height="3.3" fill="#f9dfcf"/><rect x="237.2" y="373.7" width="3.3" height="3.3" fill="#f8d5c2"/><rect x="240.2" y="373.7" width="3.3" height="3.3" fill="#f7cab4"/><rect x="243.2" y="373.7" width="3.3" height="3.3" fill="#f6bea3"/><rect x="246.2" y="373.7" width="3.3" height="3.3" fill="#f5b192"/><rect x="249.2" y="373.7" width="3.3" height="3.3" fill="#f3a481"/><rect x="252.2" y="373.7" width="3.3" height="3.3" fill="#ef9a7a"/><rect x="255.2" y="373.7" width="3.3" height="3.3" fill="#ec9374"/><rect x="258.2" y="373.7" width="3.3" height="3.3" fill="#ea8e70"/><rect x="261.2" y="373.7" width="3.3" height="3.3" fill="#eb9072"/><rect x="264.2" y="373.7" width="3.3" height="3.3" fill="#f4a683"/><rect x="267.2" y="373.7" width="3.3" height="3.3" fill="#f8efe8"/><rect x="270.2" y="373.7" width="3.3" height="3.3" fill="#9dcbe1"/><rect x="273.2" y="373.7" width="3.3" height="3.3" fill="#6bacd0"/><rect x="276.2" y="373.7" width="3.3" height="3.3" fill="#4c99c6"/><rect x="279.2" y="373.7" width="3.3" height="3.3" fill="#3f8ec0"/><rect x="282.2" y="373.7" width="3.3" height="3.3" fill="#3d8cbf"/><rect x="285.2" y="373.7" width="3.3" height="3.3" fill="#3e8dc0"/><rect x="288.2" y="373.7" width="3.3" height="3.3" fill="#4191c2"/><rect x="291.2" y="373.7" width="3.3" height="3.3" fill="#4996c5"/><rect x="294.2" y="373.7" width="3.3" height="3.3" fill="#549ec9"/><rect x="297.2" y="373.7" width="3.3" height="3.3" fill="#62a7cd"/><rect x="300.2" y="373.7" width="3.3" height="3.3" fill="#71b0d2"/><rect x="303.2" y="373.7" width="3.3" height="3.3" fill="#81bad8"/><rect x="306.2" y="373.7" width="3.3" height="3.3" fill="#91c4dd"/><rect x="309.2" y="373.7" width="3.3" height="3.3" fill="#a3cee3"/><rect x="312.2" y="373.7" width="3.3" height="3.3" fill="#b5d6e8"/><rect x="315.2" y="373.7" width="3.3" height="3.3" fill="#c4deec"/><rect x="318.2" y="373.7" width="3.3" height="3.3" fill="#d1e5f0"/><rect x="321.2" y="373.7" width="3.3" height="3.3" fill="#dceaf2"/><rect x="324.2" y="373.7" width="3.3" height="3.3" fill="#e6eef2"/><rect x="327.2" y="373.7" width="3.3" height="3.3" fill="#eef1f3"/><rect x="330.2" y="373.7" width="3.3" height="3.3" fill="#f4f4f3"/><rect x="333.2" y="373.7" width="3.3" height="3.3" fill="#f8f5f3"/><rect x="336.2" y="373.7" width="3.3" height="3.3" fill="#f8f3ef"/><rect x="339.2" y="373.7" width="3.3" height="3.3" fill="#f8f1ed"/><rect x="342.2" y="373.7" width="3.3" height="3.3" fill="#f8f0eb"/><rect x="345.2" y="373.7" width="3.3" height="3.3" fill="#f8f0ea"/><rect x="222.2" y="376.7" width="3.3" height="3.3" fill="#f8f3ef"/><rect x="225.2" y="376.7" width="3.3" height="3.3" fill="#f8f1ed"/><rect x="228.2" y="376.7" width="3.3" height="3.3" fill="#f8efe9"/><rect x="231.2" y="376.7" width="3.3" height="3.3" fill="#f8ece5"/><rect x="234.2" y="376.7" width="3.3" height="3.3" fill="#f9e9df"/><rect x="237.2" y="376.7" width="3.3" height="3.3" fill="#f9e4d8"/><rect x="240.2" y="376.7" width="3.3" height="3.3" fill="#f9dfcf"/><rect x="243.2" y="376.7" width="3.3" height="3.3" fill="#f9d8c6"/><rect x="246.2" y="376.7" width="3.3" height="3.3" fill="#f8d0bc"/><rect x="249.2" y="376.7" width="3.3" height="3.3" fill="#f7c9b2"/><rect x="252.2" y="376.7" width="3.3" height="3.3" fill="#f7c3aa"/><rect x="255.2" y="376.7" width="3.3" height="3.3" fill="#f6bda2"/><rect x="258.2" y="376.7" width="3.3" height="3.3" fill="#f6ba9e"/><rect x="261.2" y="376.7" width="3.3" height="3.3" fill="#f6bca1"/><rect x="264.2" y="376.7" width="3.3" height="3.3" fill="#f8ceb9"/><rect x="267.2" y="376.7" width="3.3" height="3.3" fill="#f5f4f3"/><rect x="270.2" y="376.7" width="3.3" height="3.3" fill="#bcdaea"/><rect x="273.2" y="376.7" width="3.3" height="3.3" fill="#9bc9e0"/><rect x="276.2" y="376.7" width="3.3" height="3.3" fill="#87beda"/><rect x="279.2" y="376.7" width="3.3" height="3.3" fill="#7db7d6"/><rect x="282.2" y="376.7" width="3.3" height="3.3" fill="#7ab6d6"/><rect x="285.2" y="376.7" width="3.3" height="3.3" fill="#7cb7d6"/><rect x="288.2" y="376.7" width="3.3" height="3.3" fill="#80b9d7"/><rect x="291.2" y="376.7" width="3.3" height="3.3" fill="#85bdd9"/><rect x="294.2" y="376.7" width="3.3" height="3.3" fill="#8cc1dc"/><rect x="297.2" y="376.7" width="3.3" height="3.3" fill="#96c7df"/><rect x="300.2" y="376.7" width="3.3" height="3.3" fill="#a1cce2"/><rect x="303.2" y="376.7" width="3.3" height="3.3" fill="#add3e6"/><rect x="306.2" y="376.7" width="3.3" height="3.3" fill="#b9d9e9"/><rect x="309.2" y="376.7" width="3.3" height="3.3" fill="#c5dfec"/><rect x="312.2" y="376.7" width="3.3" height="3.3" fill="#cfe4ef"/><rect x="315.2" y="376.7" width="3.3" height="3.3" fill="#d9e9f2"/><rect x="318.2" y="376.7" width="3.3" height="3.3" fill="#e2ecf2"/><rect x="321.2" y="376.7" width="3.3" height="3.3" fill="#eaf0f3"/><rect x="324.2" y="376.7" width="3.3" height="3.3" fill="#f0f2f3"/><rect x="327.2" y="376.7" width="3.3" height="3.3" fill="#f4f4f3"/><rect x="330.2" y="376.7" width="3.3" height="3.3" fill="#f8f5f3"/><rect x="333.2" y="376.7" width="3.3" height="3.3" fill="#f8f4f0"/><rect x="336.2" y="376.7" width="3.3" height="3.3" fill="#f8f2ee"/><rect x="339.2" y="376.7" width="3.3" height="3.3" fill="#f8f1ed"/><rect x="342.2" y="376.7" width="3.3" height="3.3" fill="#f8f1ec"/><rect x="345.2" y="376.7" width="3.3" height="3.3" fill="#f8f0eb"/><rect x="222.2" y="379.7" width="3.3" height="3.3" fill="#f8f4f2"/><rect x="225.2" y="379.7" width="3.3" height="3.3" fill="#f8f4f0"/><rect x="228.2" y="379.7" width="3.3" height="3.3" fill="#f8f3ef"/><rect x="231.2" y="379.7" width="3.3" height="3.3" fill="#f8f2ed"/><rect x="234.2" y="379.7" width="3.3" height="3.3" fill="#f8f0eb"/><rect x="237.2" y="379.7" width="3.3" height="3.3" fill="#f8eee7"/><rect x="240.2" y="379.7" width="3.3" height="3.3" fill="#f8ece4"/><rect x="243.2" y="379.7" width="3.3" height="3.3" fill="#f9e9e0"/><rect x="246.2" y="379.7" width="3.3" height="3.3" fill="#f9e7dc"/><rect x="249.2" y="379.7" width="3.3" height="3.3" fill="#f9e4d7"/><rect x="252.2" y="379.7" width="3.3" height="3.3" fill="#f9e2d4"/><rect x="255.2" y="379.7" width="3.3" height="3.3" fill="#f9e0d1"/><rect x="258.2" y="379.7" width="3.3" height="3.3" fill="#f9dfcf"/><rect x="261.2" y="379.7" width="3.3" height="3.3" fill="#f9e0d1"/><rect x="264.2" y="379.7" width="3.3" height="3.3" fill="#f9e7dd"/><rect x="267.2" y="379.7" width="3.3" height="3.3" fill="#f2f3f3"/><rect x="270.2" y="379.7" width="3.3" height="3.3" fill="#d9e9f2"/><rect x="273.2" y="379.7" width="3.3" height="3.3" fill="#cbe2ee"/><rect x="276.2" y="379.7" width="3.3" height="3.3" fill="#c1dceb"/><rect x="279.2" y="379.7" width="3.3" height="3.3" fill="#bbd9e9"/><rect x="282.2" y="379.7" width="3.3" height="3.3" fill="#b9d9e9"/><rect x="285.2" y="379.7" width="3.3" height="3.3" fill="#bad9e9"/><rect x="288.2" y="379.7" width="3.3" height="3.3" fill="#bcdaea"/><rect x="291.2" y="379.7" width="3.3" height="3.3" fill="#c0dceb"/><rect x="294.2" y="379.7" width="3.3" height="3.3" fill="#c4deec"/><rect x="297.2" y="379.7" width="3.3" height="3.3" fill="#c9e1ee"/><rect x="300.2" y="379.7" width="3.3" height="3.3" fill="#cee3ef"/><rect x="303.2" y="379.7" width="3.3" height="3.3" fill="#d4e6f1"/><rect x="306.2" y="379.7" width="3.3" height="3.3" fill="#dbe9f2"/><rect x="309.2" y="379.7" width="3.3" height="3.3" fill="#e1ecf2"/><rect x="312.2" y="379.7" width="3.3" height="3.3" fill="#e7eef2"/><rect x="315.2" y="379.7" width="3.3" height="3.3" fill="#ecf1f3"/><rect x="318.2" y="379.7" width="3.3" height="3.3" fill="#f0f3f3"/><rect x="321.2" y="379.7" width="3.3" height="3.3" fill="#f4f4f3"/><rect x="324.2" y="379.7" width="3.3" height="3.3" fill="#f7f5f3"/><rect x="327.2" y="379.7" width="3.3" height="3.3" fill="#f8f4f2"/><rect x="330.2" y="379.7" width="3.3" height="3.3" fill="#f8f3f0"/><rect x="333.2" y="379.7" width="3.3" height="3.3" fill="#f8f2ef"/><rect x="336.2" y="379.7" width="3.3" height="3.3" fill="#f8f2ee"/><rect x="339.2" y="379.7" width="3.3" height="3.3" fill="#f8f1ed"/><rect x="342.2" y="379.7" width="3.3" height="3.3" fill="#f8f1ec"/><rect x="345.2" y="379.7" width="3.3" height="3.3" fill="#f8f1ec"/><rect x="222.2" y="382.7" width="3.3" height="3.3" fill="#f8f5f3"/><rect x="225.2" y="382.7" width="3.3" height="3.3" fill="#f8f5f3"/><rect x="228.2" y="382.7" width="3.3" height="3.3" fill="#f8f5f3"/><rect x="231.2" y="382.7" width="3.3" height="3.3" fill="#f8f5f2"/><rect x="234.2" y="382.7" width="3.3" height="3.3" fill="#f8f4f2"/><rect x="237.2" y="382.7" width="3.3" height="3.3" fill="#f8f4f1"/><rect x="240.2" y="382.7" width="3.3" height="3.3" fill="#f8f4f0"/><rect x="243.2" y="382.7" width="3.3" height="3.3" fill="#f8f3f0"/><rect x="246.2" y="382.7" width="3.3" height="3.3" fill="#f8f3ef"/><rect x="249.2" y="382.7" width="3.3" height="3.3" fill="#f8f2ee"/><rect x="252.2" y="382.7" width="3.3" height="3.3" fill="#f8f2ed"/><rect x="255.2" y="382.7" width="3.3" height="3.3" fill="#f8f1ec"/><rect x="258.2" y="382.7" width="3.3" height="3.3" fill="#f8f1ec"/><rect x="261.2" y="382.7" width="3.3" height="3.3" fill="#f8f1ed"/><rect x="264.2" y="382.7" width="3.3" height="3.3" fill="#f8f3ef"/><rect x="267.2" y="382.7" width="3.3" height="3.3" fill="#f6f5f3"/><rect x="270.2" y="382.7" width="3.3" height="3.3" fill="#f1f3f3"/><rect x="273.2" y="382.7" width="3.3" height="3.3" fill="#edf1f3"/><rect x="276.2" y="382.7" width="3.3" height="3.3" fill="#ebf0f3"/><rect x="279.2" y="382.7" width="3.3" height="3.3" fill="#eaf0f3"/><rect x="282.2" y="382.7" width="3.3" height="3.3" fill="#e9f0f3"/><rect x="285.2" y="382.7" width="3.3" height="3.3" fill="#eaf0f3"/><rect x="288.2" y="382.7" width="3.3" height="3.3" fill="#eaf0f3"/><rect x="291.2" y="382.7" width="3.3" height="3.3" fill="#ebf0f3"/><rect x="294.2" y="382.7" width="3.3" height="3.3" fill="#ecf1f3"/><rect x="297.2" y="382.7" width="3.3" height="3.3" fill="#eef1f3"/><rect x="300.2" y="382.7" width="3.3" height="3.3" fill="#eff2f3"/><rect x="303.2" y="382.7" width="3.3" height="3.3" fill="#f1f3f3"/><rect x="306.2" y="382.7" width="3.3" height="3.3" fill="#f3f4f3"/><rect x="309.2" y="382.7" width="3.3" height="3.3" fill="#f5f5f3"/><rect x="312.2" y="382.7" width="3.3" height="3.3" fill="#f7f5f3"/><rect x="315.2" y="382.7" width="3.3" height="3.3" fill="#f8f5f2"/><rect x="318.2" y="382.7" width="3.3" height="3.3" fill="#f8f4f1"/><rect x="321.2" y="382.7" width="3.3" height="3.3" fill="#f8f3f0"/><rect x="324.2" y="382.7" width="3.3" height="3.3" fill="#f8f3ef"/><rect x="327.2" y="382.7" width="3.3" height="3.3" fill="#f8f2ee"/><rect x="330.2" y="382.7" width="3.3" height="3.3" fill="#f8f2ee"/><rect x="333.2" y="382.7" width="3.3" height="3.3" fill="#f8f2ee"/><rect x="336.2" y="382.7" width="3.3" height="3.3" fill="#f8f2ed"/><rect x="339.2" y="382.7" width="3.3" height="3.3" fill="#f8f2ed"/><rect x="342.2" y="382.7" width="3.3" height="3.3" fill="#f8f2ed"/><rect x="345.2" y="382.7" width="3.3" height="3.3" fill="#f8f1ed"/><rect x="222.2" y="385.7" width="3.3" height="3.3" fill="#f8f5f3"/><rect x="225.2" y="385.7" width="3.3" height="3.3" fill="#f8f5f3"/><rect x="228.2" y="385.7" width="3.3" height="3.3" fill="#f8f5f3"/><rect x="231.2" y="385.7" width="3.3" height="3.3" fill="#f8f5f3"/><rect x="234.2" y="385.7" width="3.3" height="3.3" fill="#f8f5f3"/><rect x="237.2" y="385.7" width="3.3" height="3.3" fill="#f8f5f2"/><rect x="240.2" y="385.7" width="3.3" height="3.3" fill="#f8f5f2"/><rect x="243.2" y="385.7" width="3.3" height="3.3" fill="#f8f4f2"/><rect x="246.2" y="385.7" width="3.3" height="3.3" fill="#f8f4f1"/><rect x="249.2" y="385.7" width="3.3" height="3.3" fill="#f8f4f1"/><rect x="252.2" y="385.7" width="3.3" height="3.3" fill="#f8f4f1"/><rect x="255.2" y="385.7" width="3.3" height="3.3" fill="#f8f4f0"/><rect x="258.2" y="385.7" width="3.3" height="3.3" fill="#f8f3f0"/><rect x="261.2" y="385.7" width="3.3" height="3.3" fill="#f8f4f1"/><rect x="264.2" y="385.7" width="3.3" height="3.3" fill="#f8f5f2"/><rect x="267.2" y="385.7" width="3.3" height="3.3" fill="#f6f5f3"/><rect x="270.2" y="385.7" width="3.3" height="3.3" fill="#f4f4f3"/><rect x="273.2" y="385.7" width="3.3" height="3.3" fill="#f3f3f3"/><rect x="276.2" y="385.7" width="3.3" height="3.3" fill="#f2f3f3"/><rect x="279.2" y="385.7" width="3.3" height="3.3" fill="#f1f3f3"/><rect x="282.2" y="385.7" width="3.3" height="3.3" fill="#f1f3f3"/><rect x="285.2" y="385.7" width="3.3" height="3.3" fill="#f1f3f3"/><rect x="288.2" y="385.7" width="3.3" height="3.3" fill="#f1f3f3"/><rect x="291.2" y="385.7" width="3.3" height="3.3" fill="#f2f3f3"/><rect x="294.2" y="385.7" width="3.3" height="3.3" fill="#f2f3f3"/><rect x="297.2" y="385.7" width="3.3" height="3.3" fill="#f3f4f3"/><rect x="300.2" y="385.7" width="3.3" height="3.3" fill="#f4f4f3"/><rect x="303.2" y="385.7" width="3.3" height="3.3" fill="#f5f5f3"/><rect x="306.2" y="385.7" width="3.3" height="3.3" fill="#f7f5f3"/><rect x="309.2" y="385.7" width="3.3" height="3.3" fill="#f8f5f3"/><rect x="312.2" y="385.7" width="3.3" height="3.3" fill="#f8f4f2"/><rect x="315.2" y="385.7" width="3.3" height="3.3" fill="#f8f4f1"/><rect x="318.2" y="385.7" width="3.3" height="3.3" fill="#f8f3f0"/><rect x="321.2" y="385.7" width="3.3" height="3.3" fill="#f8f3ef"/><rect x="324.2" y="385.7" width="3.3" height="3.3" fill="#f8f2ef"/><rect x="327.2" y="385.7" width="3.3" height="3.3" fill="#f8f2ee"/><rect x="330.2" y="385.7" width="3.3" height="3.3" fill="#f8f2ee"/><rect x="333.2" y="385.7" width="3.3" height="3.3" fill="#f8f2ee"/><rect x="336.2" y="385.7" width="3.3" height="3.3" fill="#f8f2ee"/><rect x="339.2" y="385.7" width="3.3" height="3.3" fill="#f8f2ee"/><rect x="342.2" y="385.7" width="3.3" height="3.3" fill="#f8f2ed"/><rect x="345.2" y="385.7" width="3.3" height="3.3" fill="#f8f2ed"/><rect x="222.2" y="388.7" width="3.3" height="3.3" fill="#f7f5f3"/><rect x="225.2" y="388.7" width="3.3" height="3.3" fill="#f6f5f3"/><rect x="228.2" y="388.7" width="3.3" height="3.3" fill="#f5f5f3"/><rect x="231.2" y="388.7" width="3.3" height="3.3" fill="#f4f4f3"/><rect x="234.2" y="388.7" width="3.3" height="3.3" fill="#f3f4f3"/><rect x="237.2" y="388.7" width="3.3" height="3.3" fill="#f2f3f3"/><rect x="240.2" y="388.7" width="3.3" height="3.3" fill="#f0f2f3"/><rect x="243.2" y="388.7" width="3.3" height="3.3" fill="#eef1f3"/><rect x="246.2" y="388.7" width="3.3" height="3.3" fill="#ecf0f3"/><rect x="249.2" y="388.7" width="3.3" height="3.3" fill="#eaf0f3"/><rect x="252.2" y="388.7" width="3.3" height="3.3" fill="#e8eff3"/><rect x="255.2" y="388.7" width="3.3" height="3.3" fill="#e7eef2"/><rect x="258.2" y="388.7" width="3.3" height="3.3" fill="#e7eef2"/><rect x="261.2" y="388.7" width="3.3" height="3.3" fill="#e8eff3"/><rect x="264.2" y="388.7" width="3.3" height="3.3" fill="#ecf0f3"/><rect x="267.2" y="388.7" width="3.3" height="3.3" fill="#f6f5f3"/><rect x="270.2" y="388.7" width="3.3" height="3.3" fill="#f8ede5"/><rect x="273.2" y="388.7" width="3.3" height="3.3" fill="#f9e6da"/><rect x="276.2" y="388.7" width="3.3" height="3.3" fill="#f9e1d2"/><rect x="279.2" y="388.7" width="3.3" height="3.3" fill="#f9ddcc"/><rect x="282.2" y="388.7" width="3.3" height="3.3" fill="#f9dbca"/><rect x="285.2" y="388.7" width="3.3" height="3.3" fill="#f9dbca"/><rect x="288.2" y="388.7" width="3.3" height="3.3" fill="#f9dccc"/><rect x="291.2" y="388.7" width="3.3" height="3.3" fill="#f9dece"/><rect x="294.2" y="388.7" width="3.3" height="3.3" fill="#f9e0d1"/><rect x="297.2" y="388.7" width="3.3" height="3.3" fill="#f9e2d5"/><rect x="300.2" y="388.7" width="3.3" height="3.3" fill="#f9e5d8"/><rect x="303.2" y="388.7" width="3.3" height="3.3" fill="#f9e7dc"/><rect x="306.2" y="388.7" width="3.3" height="3.3" fill="#f9e9df"/><rect x="309.2" y="388.7" width="3.3" height="3.3" fill="#f9ebe2"/><rect x="312.2" y="388.7" width="3.3" height="3.3" fill="#f8ece4"/><rect x="315.2" y="388.7" width="3.3" height="3.3" fill="#f8ede6"/><rect x="318.2" y="388.7" width="3.3" height="3.3" fill="#f8eee8"/><rect x="321.2" y="388.7" width="3.3" height="3.3" fill="#f8efea"/><rect x="324.2" y="388.7" width="3.3" height="3.3" fill="#f8f0eb"/><rect x="327.2" y="388.7" width="3.3" height="3.3" fill="#f8f0eb"/><rect x="330.2" y="388.7" width="3.3" height="3.3" fill="#f8f1ec"/><rect x="333.2" y="388.7" width="3.3" height="3.3" fill="#f8f1ec"/><rect x="336.2" y="388.7" width="3.3" height="3.3" fill="#f8f1ed"/><rect x="339.2" y="388.7" width="3.3" height="3.3" fill="#f8f1ed"/><rect x="342.2" y="388.7" width="3.3" height="3.3" fill="#f8f1ed"/><rect x="345.2" y="388.7" width="3.3" height="3.3" fill="#f8f1ed"/><rect x="222.2" y="391.7" width="3.3" height="3.3" fill="#f5f4f3"/><rect x="225.2" y="391.7" width="3.3" height="3.3" fill="#f3f4f3"/><rect x="228.2" y="391.7" width="3.3" height="3.3" fill="#f1f3f3"/><rect x="231.2" y="391.7" width="3.3" height="3.3" fill="#eef2f3"/><rect x="234.2" y="391.7" width="3.3" height="3.3" fill="#eaf0f3"/><rect x="237.2" y="391.7" width="3.3" height="3.3" fill="#e5eef2"/><rect x="240.2" y="391.7" width="3.3" height="3.3" fill="#dfebf2"/><rect x="243.2" y="391.7" width="3.3" height="3.3" fill="#d9e8f2"/><rect x="246.2" y="391.7" width="3.3" height="3.3" fill="#d2e5f0"/><rect x="249.2" y="391.7" width="3.3" height="3.3" fill="#cde3ef"/><rect x="252.2" y="391.7" width="3.3" height="3.3" fill="#c9e0ed"/><rect x="255.2" y="391.7" width="3.3" height="3.3" fill="#c6dfed"/><rect x="258.2" y="391.7" width="3.3" height="3.3" fill="#c5deec"/><rect x="261.2" y="391.7" width="3.3" height="3.3" fill="#c7e0ed"/><rect x="264.2" y="391.7" width="3.3" height="3.3" fill="#d2e5f0"/><rect x="267.2" y="391.7" width="3.3" height="3.3" fill="#eff2f3"/><rect x="270.2" y="391.7" width="3.3" height="3.3" fill="#f9e2d4"/><rect x="273.2" y="391.7" width="3.3" height="3.3" fill="#f7ccb6"/><rect x="276.2" y="391.7" width="3.3" height="3.3" fill="#f6bda3"/><rect x="279.2" y="391.7" width="3.3" height="3.3" fill="#f5b395"/><rect x="282.2" y="391.7" width="3.3" height="3.3" fill="#f5af90"/><rect x="285.2" y="391.7" width="3.3" height="3.3" fill="#f5b090"/><rect x="288.2" y="391.7" width="3.3" height="3.3" fill="#f5b294"/><rect x="291.2" y="391.7" width="3.3" height="3.3" fill="#f5b79a"/><rect x="294.2" y="391.7" width="3.3" height="3.3" fill="#f6bca1"/><rect x="297.2" y="391.7" width="3.3" height="3.3" fill="#f7c3aa"/><rect x="300.2" y="391.7" width="3.3" height="3.3" fill="#f7cab4"/><rect x="303.2" y="391.7" width="3.3" height="3.3" fill="#f8d1bd"/><rect x="306.2" y="391.7" width="3.3" height="3.3" fill="#f9d8c6"/><rect x="309.2" y="391.7" width="3.3" height="3.3" fill="#f9dece"/><rect x="312.2" y="391.7" width="3.3" height="3.3" fill="#f9e2d4"/><rect x="315.2" y="391.7" width="3.3" height="3.3" fill="#f9e6da"/><rect x="318.2" y="391.7" width="3.3" height="3.3" fill="#f9e9df"/><rect x="321.2" y="391.7" width="3.3" height="3.3" fill="#f8ebe3"/><rect x="324.2" y="391.7" width="3.3" height="3.3" fill="#f8ede5"/><rect x="327.2" y="391.7" width="3.3" height="3.3" fill="#f8eee8"/><rect x="330.2" y="391.7" width="3.3" height="3.3" fill="#f8efe9"/><rect x="333.2" y="391.7" width="3.3" height="3.3" fill="#f8f0ea"/><rect x="336.2" y="391.7" width="3.3" height="3.3" fill="#f8f0eb"/><rect x="339.2" y="391.7" width="3.3" height="3.3" fill="#f8f0eb"/><rect x="342.2" y="391.7" width="3.3" height="3.3" fill="#f8f1ec"/><rect x="345.2" y="391.7" width="3.3" height="3.3" fill="#f8f1ec"/><rect x="222.2" y="394.7" width="3.3" height="3.3" fill="#f2f3f3"/><rect x="225.2" y="394.7" width="3.3" height="3.3" fill="#eff2f3"/><rect x="228.2" y="394.7" width="3.3" height="3.3" fill="#eaf0f3"/><rect x="231.2" y="394.7" width="3.3" height="3.3" fill="#e3edf2"/><rect x="234.2" y="394.7" width="3.3" height="3.3" fill="#dae9f2"/><rect x="237.2" y="394.7" width="3.3" height="3.3" fill="#d0e4f0"/><rect x="240.2" y="394.7" width="3.3" height="3.3" fill="#c4deec"/><rect x="243.2" y="394.7" width="3.3" height="3.3" fill="#b7d8e9"/><rect x="246.2" y="394.7" width="3.3" height="3.3" fill="#abd1e5"/><rect x="249.2" y="394.7" width="3.3" height="3.3" fill="#9fcbe1"/><rect x="252.2" y="394.7" width="3.3" height="3.3" fill="#95c6df"/><rect x="255.2" y="394.7" width="3.3" height="3.3" fill="#8fc3dd"/><rect x="258.2" y="394.7" width="3.3" height="3.3" fill="#8ec2dc"/><rect x="261.2" y="394.7" width="3.3" height="3.3" fill="#92c5de"/><rect x="264.2" y="394.7" width="3.3" height="3.3" fill="#a7d0e4"/><rect x="267.2" y="394.7" width="3.3" height="3.3" fill="#ddeaf2"/><rect x="270.2" y="394.7" width="3.3" height="3.3" fill="#f8d3c0"/><rect x="273.2" y="394.7" width="3.3" height="3.3" fill="#f4aa89"/><rect x="276.2" y="394.7" width="3.3" height="3.3" fill="#ec9475"/><rect x="279.2" y="394.7" width="3.3" height="3.3" fill="#e6866a"/><rect x="282.2" y="394.7" width="3.3" height="3.3" fill="#e48065"/><rect x="285.2" y="394.7" width="3.3" height="3.3" fill="#e48066"/><rect x="288.2" y="394.7" width="3.3" height="3.3" fill="#e58469"/><rect x="291.2" y="394.7" width="3.3" height="3.3" fill="#e88a6d"/><rect x="294.2" y="394.7" width="3.3" height="3.3" fill="#ec9374"/><rect x="297.2" y="394.7" width="3.3" height="3.3" fill="#f09c7b"/><rect x="300.2" y="394.7" width="3.3" height="3.3" fill="#f4a684"/><rect x="303.2" y="394.7" width="3.3" height="3.3" fill="#f5b395"/><rect x="306.2" y="394.7" width="3.3" height="3.3" fill="#f6bfa5"/><rect x="309.2" y="394.7" width="3.3" height="3.3" fill="#f7cab3"/><rect x="312.2" y="394.7" width="3.3" height="3.3" fill="#f8d3c0"/><rect x="315.2" y="394.7" width="3.3" height="3.3" fill="#f9dbca"/><rect x="318.2" y="394.7" width="3.3" height="3.3" fill="#f9e1d3"/><rect x="321.2" y="394.7" width="3.3" height="3.3" fill="#f9e5d9"/><rect x="324.2" y="394.7" width="3.3" height="3.3" fill="#f9e9df"/><rect x="327.2" y="394.7" width="3.3" height="3.3" fill="#f9ebe2"/><rect x="330.2" y="394.7" width="3.3" height="3.3" fill="#f8ede5"/><rect x="333.2" y="394.7" width="3.3" height="3.3" fill="#f8eee7"/><rect x="336.2" y="394.7" width="3.3" height="3.3" fill="#f8efe8"/><rect x="339.2" y="394.7" width="3.3" height="3.3" fill="#f8efe9"/><rect x="342.2" y="394.7" width="3.3" height="3.3" fill="#f8efea"/><rect x="345.2" y="394.7" width="3.3" height="3.3" fill="#f8f0ea"/><rect x="222.2" y="397.7" width="3.3" height="3.3" fill="#eef1f3"/><rect x="225.2" y="397.7" width="3.3" height="3.3" fill="#e8eff3"/><rect x="228.2" y="397.7" width="3.3" height="3.3" fill="#dfebf2"/><rect x="231.2" y="397.7" width="3.3" height="3.3" fill="#d3e6f1"/><rect x="234.2" y="397.7" width="3.3" height="3.3" fill="#c5dfec"/><rect x="237.2" y="397.7" width="3.3" height="3.3" fill="#b3d6e7"/><rect x="240.2" y="397.7" width="3.3" height="3.3" fill="#9fcbe1"/><rect x="243.2" y="397.7" width="3.3" height="3.3" fill="#8ac0db"/><rect x="246.2" y="397.7" width="3.3" height="3.3" fill="#78b4d5"/><rect x="249.2" y="397.7" width="3.3" height="3.3" fill="#67a9cf"/><rect x="252.2" y="397.7" width="3.3" height="3.3" fill="#59a1ca"/><rect x="255.2" y="397.7" width="3.3" height="3.3" fill="#509bc7"/><rect x="258.2" y="397.7" width="3.3" height="3.3" fill="#4d99c6"/><rect x="261.2" y="397.7" width="3.3" height="3.3" fill="#549ec9"/><rect x="264.2" y="397.7" width="3.3" height="3.3" fill="#71b0d2"/><rect x="267.2" y="397.7" width="3.3" height="3.3" fill="#c1ddeb"/><rect x="270.2" y="397.7" width="3.3" height="3.3" fill="#f7c4ac"/><rect x="273.2" y="397.7" width="3.3" height="3.3" fill="#e88a6d"/><rect x="276.2" y="397.7" width="3.3" height="3.3" fill="#da6a54"/><rect x="279.2" y="397.7" width="3.3" height="3.3" fill="#d05447"/><rect x="282.2" y="397.7" width="3.3" height="3.3" fill="#cb4b43"/><rect x="285.2" y="397.7" width="3.3" height="3.3" fill="#cc4c43"/><rect x="288.2" y="397.7" width="3.3" height="3.3" fill="#cf5246"/><rect x="291.2" y="397.7" width="3.3" height="3.3" fill="#d35b4b"/><rect x="294.2" y="397.7" width="3.3" height="3.3" fill="#d96853"/><rect x="297.2" y="397.7" width="3.3" height="3.3" fill="#df765e"/><rect x="300.2" y="397.7" width="3.3" height="3.3" fill="#e68569"/><rect x="303.2" y="397.7" width="3.3" height="3.3" fill="#ec9475"/><rect x="306.2" y="397.7" width="3.3" height="3.3" fill="#f3a380"/><rect x="309.2" y="397.7" width="3.3" height="3.3" fill="#f5b394"/><rect x="312.2" y="397.7" width="3.3" height="3.3" fill="#f6c1a7"/><rect x="315.2" y="397.7" width="3.3" height="3.3" fill="#f8cdb7"/><rect x="318.2" y="397.7" width="3.3" height="3.3" fill="#f9d7c5"/><rect x="321.2" y="397.7" width="3.3" height="3.3" fill="#f9dfcf"/><rect x="324.2" y="397.7" width="3.3" height="3.3" fill="#f9e4d7"/><rect x="327.2" y="397.7" width="3.3" height="3.3" fill="#f9e7dc"/><rect x="330.2" y="397.7" width="3.3" height="3.3" fill="#f9eae1"/><rect x="333.2" y="397.7" width="3.3" height="3.3" fill="#f8ece3"/><rect x="336.2" y="397.7" width="3.3" height="3.3" fill="#f8ede5"/><rect x="339.2" y="397.7" width="3.3" height="3.3" fill="#f8eee7"/><rect x="342.2" y="397.7" width="3.3" height="3.3" fill="#f8eee7"/><rect x="345.2" y="397.7" width="3.3" height="3.3" fill="#f8eee8"/><rect x="222.2" y="400.7" width="3.3" height="3.3" fill="#ebf0f3"/><rect x="225.2" y="400.7" width="3.3" height="3.3" fill="#e3edf2"/><rect x="228.2" y="400.7" width="3.3" height="3.3" fill="#d8e8f2"/><rect x="231.2" y="400.7" width="3.3" height="3.3" fill="#cae1ee"/><rect x="234.2" y="400.7" width="3.3" height="3.3" fill="#b7d8e9"/><rect x="237.2" y="400.7" width="3.3" height="3.3" fill="#a1cce2"/><rect x="240.2" y="400.7" width="3.3" height="3.3" fill="#88bfda"/><rect x="243.2" y="400.7" width="3.3" height="3.3" fill="#71b0d2"/><rect x="246.2" y="400.7" width="3.3" height="3.3" fill="#5aa1ca"/><rect x="249.2" y="400.7" width="3.3" height="3.3" fill="#4493c3"/><rect x="252.2" y="400.7" width="3.3" height="3.3" fill="#3b89be"/><rect x="255.2" y="400.7" width="3.3" height="3.3" fill="#3682ba"/><rect x="258.2" y="400.7" width="3.3" height="3.3" fill="#3580b9"/><rect x="261.2" y="400.7" width="3.3" height="3.3" fill="#3986bc"/><rect x="264.2" y="400.7" width="3.3" height="3.3" fill="#509bc7"/><rect x="267.2" y="400.7" width="3.3" height="3.3" fill="#acd2e5"/><rect x="270.2" y="400.7" width="3.3" height="3.3" fill="#f6c2a9"/><rect x="273.2" y="400.7" width="3.3" height="3.3" fill="#e37f65"/><rect x="276.2" y="400.7" width="3.3" height="3.3" fill="#d35a4a"/><rect x="279.2" y="400.7" width="3.3" height="3.3" fill="#c6413e"/><rect x="282.2" y="400.7" width="3.3" height="3.3" fill="#c13639"/><rect x="285.2" y="400.7" width="3.3" height="3.3" fill="#c2383a"/><rect x="288.2" y="400.7" width="3.3" height="3.3" fill="#c53e3d"/><rect x="291.2" y="400.7" width="3.3" height="3.3" fill="#ca4942"/><rect x="294.2" y="400.7" width="3.3" height="3.3" fill="#d15749"/><rect x="297.2" y="400.7" width="3.3" height="3.3" fill="#d96853"/><rect x="300.2" y="400.7" width="3.3" height="3.3" fill="#e07960"/><rect x="303.2" y="400.7" width="3.3" height="3.3" fill="#e88a6d"/><rect x="306.2" y="400.7" width="3.3" height="3.3" fill="#ef9a79"/><rect x="309.2" y="400.7" width="3.3" height="3.3" fill="#f4aa88"/><rect x="312.2" y="400.7" width="3.3" height="3.3" fill="#f6ba9e"/><rect x="315.2" y="400.7" width="3.3" height="3.3" fill="#f7c7af"/><rect x="318.2" y="400.7" width="3.3" height="3.3" fill="#f8d2be"/><rect x="321.2" y="400.7" width="3.3" height="3.3" fill="#f9dbca"/><rect x="324.2" y="400.7" width="3.3" height="3.3" fill="#f9e1d2"/><rect x="327.2" y="400.7" width="3.3" height="3.3" fill="#f9e5d9"/><rect x="330.2" y="400.7" width="3.3" height="3.3" fill="#f9e8de"/><rect x="333.2" y="400.7" width="3.3" height="3.3" fill="#f9eae1"/><rect x="336.2" y="400.7" width="3.3" height="3.3" fill="#f8ebe3"/><rect x="339.2" y="400.7" width="3.3" height="3.3" fill="#f8ece4"/><rect x="342.2" y="400.7" width="3.3" height="3.3" fill="#f8ede5"/><rect x="345.2" y="400.7" width="3.3" height="3.3" fill="#f8ede6"/><rect x="222.2" y="403.7" width="3.3" height="3.3" fill="#eaf0f3"/><rect x="225.2" y="403.7" width="3.3" height="3.3" fill="#e1ecf2"/><rect x="228.2" y="403.7" width="3.3" height="3.3" fill="#d5e7f1"/><rect x="231.2" y="403.7" width="3.3" height="3.3" fill="#c5dfec"/><rect x="234.2" y="403.7" width="3.3" height="3.3" fill="#b1d4e7"/><rect x="237.2" y="403.7" width="3.3" height="3.3" fill="#98c8df"/><rect x="240.2" y="403.7" width="3.3" height="3.3" fill="#7fb9d7"/><rect x="243.2" y="403.7" width="3.3" height="3.3" fill="#65a8ce"/><rect x="246.2" y="403.7" width="3.3" height="3.3" fill="#4b98c5"/><rect x="249.2" y="403.7" width="3.3" height="3.3" fill="#3c89be"/><rect x="252.2" y="403.7" width="3.3" height="3.3" fill="#337eb8"/><rect x="255.2" y="403.7" width="3.3" height="3.3" fill="#2d77b4"/><rect x="258.2" y="403.7" width="3.3" height="3.3" fill="#2c74b3"/><rect x="261.2" y="403.7" width="3.3" height="3.3" fill="#307ab6"/><rect x="264.2" y="403.7" width="3.3" height="3.3" fill="#4190c1"/><rect x="267.2" y="403.7" width="3.3" height="3.3" fill="#9ecbe1"/><rect x="270.2" y="403.7" width="3.3" height="3.3" fill="#f7c6ae"/><rect x="273.2" y="403.7" width="3.3" height="3.3" fill="#e37f65"/><rect x="276.2" y="403.7" width="3.3" height="3.3" fill="#d25949"/><rect x="279.2" y="403.7" width="3.3" height="3.3" fill="#c6403d"/><rect x="282.2" y="403.7" width="3.3" height="3.3" fill="#c03538"/><rect x="285.2" y="403.7" width="3.3" height="3.3" fill="#c13639"/><rect x="288.2" y="403.7" width="3.3" height="3.3" fill="#c43d3c"/><rect x="291.2" y="403.7" width="3.3" height="3.3" fill="#ca4841"/><rect x="294.2" y="403.7" width="3.3" height="3.3" fill="#d15648"/><rect x="297.2" y="403.7" width="3.3" height="3.3" fill="#d96652"/><rect x="300.2" y="403.7" width="3.3" height="3.3" fill="#e0785f"/><rect x="303.2" y="403.7" width="3.3" height="3.3" fill="#e7896c"/><rect x="306.2" y="403.7" width="3.3" height="3.3" fill="#ee9979"/><rect x="309.2" y="403.7" width="3.3" height="3.3" fill="#f4a886"/><rect x="312.2" y="403.7" width="3.3" height="3.3" fill="#f5b89c"/><rect x="315.2" y="403.7" width="3.3" height="3.3" fill="#f7c6ae"/><rect x="318.2" y="403.7" width="3.3" height="3.3" fill="#f8d0bc"/><rect x="321.2" y="403.7" width="3.3" height="3.3" fill="#f9d9c8"/><rect x="324.2" y="403.7" width="3.3" height="3.3" fill="#f9e0d1"/><rect x="327.2" y="403.7" width="3.3" height="3.3" fill="#f9e4d7"/><rect x="330.2" y="403.7" width="3.3" height="3.3" fill="#f9e7dc"/><rect x="333.2" y="403.7" width="3.3" height="3.3" fill="#f9e9df"/><rect x="336.2" y="403.7" width="3.3" height="3.3" fill="#f9eae1"/><rect x="339.2" y="403.7" width="3.3" height="3.3" fill="#f9ebe2"/><rect x="342.2" y="403.7" width="3.3" height="3.3" fill="#f8ebe3"/><rect x="345.2" y="403.7" width="3.3" height="3.3" fill="#f8ece4"/><rect x="222.2" y="406.7" width="3.3" height="3.3" fill="#e9eff3"/><rect x="225.2" y="406.7" width="3.3" height="3.3" fill="#e0ebf2"/><rect x="228.2" y="406.7" width="3.3" height="3.3" fill="#d3e5f0"/><rect x="231.2" y="406.7" width="3.3" height="3.3" fill="#c2ddec"/><rect x="234.2" y="406.7" width="3.3" height="3.3" fill="#acd2e5"/><rect x="237.2" y="406.7" width="3.3" height="3.3" fill="#91c4dd"/><rect x="240.2" y="406.7" width="3.3" height="3.3" fill="#78b4d5"/><rect x="243.2" y="406.7" width="3.3" height="3.3" fill="#5ca3cb"/><rect x="246.2" y="406.7" width="3.3" height="3.3" fill="#4291c2"/><rect x="249.2" y="406.7" width="3.3" height="3.3" fill="#3682ba"/><rect x="252.2" y="406.7" width="3.3" height="3.3" fill="#2d76b4"/><rect x="255.2" y="406.7" width="3.3" height="3.3" fill="#276eb0"/><rect x="258.2" y="406.7" width="3.3" height="3.3" fill="#256caf"/><rect x="261.2" y="406.7" width="3.3" height="3.3" fill="#2a72b2"/><rect x="264.2" y="406.7" width="3.3" height="3.3" fill="#3b89be"/><rect x="267.2" y="406.7" width="3.3" height="3.3" fill="#93c5de"/><rect x="270.2" y="406.7" width="3.3" height="3.3" fill="#f7cab3"/><rect x="273.2" y="406.7" width="3.3" height="3.3" fill="#e37f65"/><rect x="276.2" y="406.7" width="3.3" height="3.3" fill="#d25849"/><rect x="279.2" y="406.7" width="3.3" height="3.3" fill="#c53f3d"/><rect x="282.2" y="406.7" width="3.3" height="3.3" fill="#c03538"/><rect x="285.2" y="406.7" width="3.3" height="3.3" fill="#c13639"/><rect x="288.2" y="406.7" width="3.3" height="3.3" fill="#c43c3c"/><rect x="291.2" y="406.7" width="3.3" height="3.3" fill="#c94741"/><rect x="294.2" y="406.7" width="3.3" height="3.3" fill="#d15648"/><rect x="297.2" y="406.7" width="3.3" height="3.3" fill="#d86652"/><rect x="300.2" y="406.7" width="3.3" height="3.3" fill="#e0775f"/><rect x="303.2" y="406.7" width="3.3" height="3.3" fill="#e7886c"/><rect x="306.2" y="406.7" width="3.3" height="3.3" fill="#ee9878"/><rect x="309.2" y="406.7" width="3.3" height="3.3" fill="#f4a785"/><rect x="312.2" y="406.7" width="3.3" height="3.3" fill="#f5b79a"/><rect x="315.2" y="406.7" width="3.3" height="3.3" fill="#f7c4ac"/><rect x="318.2" y="406.7" width="3.3" height="3.3" fill="#f8cfbb"/><rect x="321.2" y="406.7" width="3.3" height="3.3" fill="#f9d8c6"/><rect x="324.2" y="406.7" width="3.3" height="3.3" fill="#f9dfcf"/><rect x="327.2" y="406.7" width="3.3" height="3.3" fill="#f9e3d5"/><rect x="330.2" y="406.7" width="3.3" height="3.3" fill="#f9e6da"/><rect x="333.2" y="406.7" width="3.3" height="3.3" fill="#f9e8dd"/><rect x="336.2" y="406.7" width="3.3" height="3.3" fill="#f9e9df"/><rect x="339.2" y="406.7" width="3.3" height="3.3" fill="#f9eae1"/><rect x="342.2" y="406.7" width="3.3" height="3.3" fill="#f9eae2"/><rect x="345.2" y="406.7" width="3.3" height="3.3" fill="#f9ebe2"/><rect x="222.2" y="409.7" width="3.3" height="3.3" fill="#e8eff3"/><rect x="225.2" y="409.7" width="3.3" height="3.3" fill="#dfebf2"/><rect x="228.2" y="409.7" width="3.3" height="3.3" fill="#d1e5f0"/><rect x="231.2" y="409.7" width="3.3" height="3.3" fill="#c0dceb"/><rect x="234.2" y="409.7" width="3.3" height="3.3" fill="#a9d0e4"/><rect x="237.2" y="409.7" width="3.3" height="3.3" fill="#8ec2dc"/><rect x="240.2" y="409.7" width="3.3" height="3.3" fill="#74b2d3"/><rect x="243.2" y="409.7" width="3.3" height="3.3" fill="#579fc9"/><rect x="246.2" y="409.7" width="3.3" height="3.3" fill="#3f8dc0"/><rect x="249.2" y="409.7" width="3.3" height="3.3" fill="#337eb8"/><rect x="252.2" y="409.7" width="3.3" height="3.3" fill="#2a71b2"/><rect x="255.2" y="409.7" width="3.3" height="3.3" fill="#2369ad"/><rect x="258.2" y="409.7" width="3.3" height="3.3" fill="#2167ac"/><rect x="261.2" y="409.7" width="3.3" height="3.3" fill="#266daf"/><rect x="264.2" y="409.7" width="3.3" height="3.3" fill="#3885bb"/><rect x="267.2" y="409.7" width="3.3" height="3.3" fill="#8dc1dc"/><rect x="270.2" y="409.7" width="3.3" height="3.3" fill="#f8cdb7"/><rect x="273.2" y="409.7" width="3.3" height="3.3" fill="#e48065"/><rect x="276.2" y="409.7" width="3.3" height="3.3" fill="#d25949"/><rect x="279.2" y="409.7" width="3.3" height="3.3" fill="#c53f3d"/><rect x="282.2" y="409.7" width="3.3" height="3.3" fill="#c03438"/><rect x="285.2" y="409.7" width="3.3" height="3.3" fill="#c13639"/><rect x="288.2" y="409.7" width="3.3" height="3.3" fill="#c43c3c"/><rect x="291.2" y="409.7" width="3.3" height="3.3" fill="#c94741"/><rect x="294.2" y="409.7" width="3.3" height="3.3" fill="#d15648"/><rect x="297.2" y="409.7" width="3.3" height="3.3" fill="#d86651"/><rect x="300.2" y="409.7" width="3.3" height="3.3" fill="#e0775f"/><rect x="303.2" y="409.7" width="3.3" height="3.3" fill="#e7886c"/><rect x="306.2" y="409.7" width="3.3" height="3.3" fill="#ee9878"/><rect x="309.2" y="409.7" width="3.3" height="3.3" fill="#f4a785"/><rect x="312.2" y="409.7" width="3.3" height="3.3" fill="#f5b79a"/><rect x="315.2" y="409.7" width="3.3" height="3.3" fill="#f7c4ab"/><rect x="318.2" y="409.7" width="3.3" height="3.3" fill="#f8cfba"/><rect x="321.2" y="409.7" width="3.3" height="3.3" fill="#f9d7c5"/><rect x="324.2" y="409.7" width="3.3" height="3.3" fill="#f9dece"/><rect x="327.2" y="409.7" width="3.3" height="3.3" fill="#f9e2d4"/><rect x="330.2" y="409.7" width="3.3" height="3.3" fill="#f9e5d9"/><rect x="333.2" y="409.7" width="3.3" height="3.3" fill="#f9e7dc"/><rect x="336.2" y="409.7" width="3.3" height="3.3" fill="#f9e8de"/><rect x="339.2" y="409.7" width="3.3" height="3.3" fill="#f9e9df"/><rect x="342.2" y="409.7" width="3.3" height="3.3" fill="#f9eae0"/><rect x="345.2" y="409.7" width="3.3" height="3.3" fill="#f9eae1"/><rect x="222.2" y="412.7" width="3.3" height="3.3" fill="#e8eff3"/><rect x="225.2" y="412.7" width="3.3" height="3.3" fill="#deebf2"/><rect x="228.2" y="412.7" width="3.3" height="3.3" fill="#d0e4f0"/><rect x="231.2" y="412.7" width="3.3" height="3.3" fill="#bfdbeb"/><rect x="234.2" y="412.7" width="3.3" height="3.3" fill="#a7d0e4"/><rect x="237.2" y="412.7" width="3.3" height="3.3" fill="#8cc1dc"/><rect x="240.2" y="412.7" width="3.3" height="3.3" fill="#71b0d2"/><rect x="243.2" y="412.7" width="3.3" height="3.3" fill="#549dc8"/><rect x="246.2" y="412.7" width="3.3" height="3.3" fill="#3d8bbf"/><rect x="249.2" y="412.7" width="3.3" height="3.3" fill="#317cb7"/><rect x="252.2" y="412.7" width="3.3" height="3.3" fill="#276fb0"/><rect x="255.2" y="412.7" width="3.3" height="3.3" fill="#2166ac"/><rect x="258.2" y="412.7" width="3.3" height="3.3" fill="#1f63a8"/><rect x="261.2" y="412.7" width="3.3" height="3.3" fill="#246aae"/><rect x="264.2" y="412.7" width="3.3" height="3.3" fill="#3682ba"/><rect x="267.2" y="412.7" width="3.3" height="3.3" fill="#88bfda"/><rect x="270.2" y="412.7" width="3.3" height="3.3" fill="#f8cfba"/><rect x="273.2" y="412.7" width="3.3" height="3.3" fill="#e48066"/><rect x="276.2" y="412.7" width="3.3" height="3.3" fill="#d25949"/><rect x="279.2" y="412.7" width="3.3" height="3.3" fill="#c53f3d"/><rect x="282.2" y="412.7" width="3.3" height="3.3" fill="#c03438"/><rect x="285.2" y="412.7" width="3.3" height="3.3" fill="#c13639"/><rect x="288.2" y="412.7" width="3.3" height="3.3" fill="#c43c3c"/><rect x="291.2" y="412.7" width="3.3" height="3.3" fill="#c94741"/><rect x="294.2" y="412.7" width="3.3" height="3.3" fill="#d15648"/><rect x="297.2" y="412.7" width="3.3" height="3.3" fill="#d86651"/><rect x="300.2" y="412.7" width="3.3" height="3.3" fill="#e0775e"/><rect x="303.2" y="412.7" width="3.3" height="3.3" fill="#e7886b"/><rect x="306.2" y="412.7" width="3.3" height="3.3" fill="#ee9878"/><rect x="309.2" y="412.7" width="3.3" height="3.3" fill="#f4a784"/><rect x="312.2" y="412.7" width="3.3" height="3.3" fill="#f5b699"/><rect x="315.2" y="412.7" width="3.3" height="3.3" fill="#f7c3aa"/><rect x="318.2" y="412.7" width="3.3" height="3.3" fill="#f8ceb9"/><rect x="321.2" y="412.7" width="3.3" height="3.3" fill="#f8d6c4"/><rect x="324.2" y="412.7" width="3.3" height="3.3" fill="#f9ddcd"/><rect x="327.2" y="412.7" width="3.3" height="3.3" fill="#f9e2d3"/><rect x="330.2" y="412.7" width="3.3" height="3.3" fill="#f9e4d8"/><rect x="333.2" y="412.7" width="3.3" height="3.3" fill="#f9e6db"/><rect x="336.2" y="412.7" width="3.3" height="3.3" fill="#f9e8dd"/><rect x="339.2" y="412.7" width="3.3" height="3.3" fill="#f9e9df"/><rect x="342.2" y="412.7" width="3.3" height="3.3" fill="#f9e9df"/><rect x="345.2" y="412.7" width="3.3" height="3.3" fill="#f9e9e0"/><rect x="222.2" y="415.7" width="3.3" height="3.3" fill="#e8eff3"/><rect x="225.2" y="415.7" width="3.3" height="3.3" fill="#deebf2"/><rect x="228.2" y="415.7" width="3.3" height="3.3" fill="#d0e4f0"/><rect x="231.2" y="415.7" width="3.3" height="3.3" fill="#bedbea"/><rect x="234.2" y="415.7" width="3.3" height="3.3" fill="#a7cfe4"/><rect x="237.2" y="415.7" width="3.3" height="3.3" fill="#8bc1db"/><rect x="240.2" y="415.7" width="3.3" height="3.3" fill="#70afd2"/><rect x="243.2" y="415.7" width="3.3" height="3.3" fill="#529dc8"/><rect x="246.2" y="415.7" width="3.3" height="3.3" fill="#3c8abe"/><rect x="249.2" y="415.7" width="3.3" height="3.3" fill="#307bb6"/><rect x="252.2" y="415.7" width="3.3" height="3.3" fill="#276eb0"/><rect x="255.2" y="415.7" width="3.3" height="3.3" fill="#2065ab"/><rect x="258.2" y="415.7" width="3.3" height="3.3" fill="#1e62a6"/><rect x="261.2" y="415.7" width="3.3" height="3.3" fill="#2369ad"/><rect x="264.2" y="415.7" width="3.3" height="3.3" fill="#3580b9"/><rect x="267.2" y="415.7" width="3.3" height="3.3" fill="#85bdd9"/><rect x="270.2" y="415.7" width="3.3" height="3.3" fill="#f8d1bd"/><rect x="273.2" y="415.7" width="3.3" height="3.3" fill="#e48166"/><rect x="276.2" y="415.7" width="3.3" height="3.3" fill="#d25949"/><rect x="279.2" y="415.7" width="3.3" height="3.3" fill="#c6403d"/><rect x="282.2" y="415.7" width="3.3" height="3.3" fill="#c03538"/><rect x="285.2" y="415.7" width="3.3" height="3.3" fill="#c13639"/><rect x="288.2" y="415.7" width="3.3" height="3.3" fill="#c43d3c"/><rect x="291.2" y="415.7" width="3.3" height="3.3" fill="#c94741"/><rect x="294.2" y="415.7" width="3.3" height="3.3" fill="#d15648"/><rect x="297.2" y="415.7" width="3.3" height="3.3" fill="#d86651"/><rect x="300.2" y="415.7" width="3.3" height="3.3" fill="#e0775e"/><rect x="303.2" y="415.7" width="3.3" height="3.3" fill="#e7886b"/><rect x="306.2" y="415.7" width="3.3" height="3.3" fill="#ee9878"/><rect x="309.2" y="415.7" width="3.3" height="3.3" fill="#f4a684"/><rect x="312.2" y="415.7" width="3.3" height="3.3" fill="#f5b699"/><rect x="315.2" y="415.7" width="3.3" height="3.3" fill="#f7c3aa"/><rect x="318.2" y="415.7" width="3.3" height="3.3" fill="#f8ceb8"/><rect x="321.2" y="415.7" width="3.3" height="3.3" fill="#f8d6c4"/><rect x="324.2" y="415.7" width="3.3" height="3.3" fill="#f9ddcc"/><rect x="327.2" y="415.7" width="3.3" height="3.3" fill="#f9e1d3"/><rect x="330.2" y="415.7" width="3.3" height="3.3" fill="#f9e4d7"/><rect x="333.2" y="415.7" width="3.3" height="3.3" fill="#f9e6da"/><rect x="336.2" y="415.7" width="3.3" height="3.3" fill="#f9e7dd"/><rect x="339.2" y="415.7" width="3.3" height="3.3" fill="#f9e8de"/><rect x="342.2" y="415.7" width="3.3" height="3.3" fill="#f9e9df"/><rect x="345.2" y="415.7" width="3.3" height="3.3" fill="#f9e9df"/><rect x="222.2" y="418.7" width="3.3" height="3.3" fill="#e8eff3"/><rect x="225.2" y="418.7" width="3.3" height="3.3" fill="#deebf2"/><rect x="228.2" y="418.7" width="3.3" height="3.3" fill="#d0e4f0"/><rect x="231.2" y="418.7" width="3.3" height="3.3" fill="#bedbea"/><rect x="234.2" y="418.7" width="3.3" height="3.3" fill="#a6cfe4"/><rect x="237.2" y="418.7" width="3.3" height="3.3" fill="#8bc0db"/><rect x="240.2" y="418.7" width="3.3" height="3.3" fill="#70afd2"/><rect x="243.2" y="418.7" width="3.3" height="3.3" fill="#529cc8"/><rect x="246.2" y="418.7" width="3.3" height="3.3" fill="#3c8abe"/><rect x="249.2" y="418.7" width="3.3" height="3.3" fill="#307ab6"/><rect x="252.2" y="418.7" width="3.3" height="3.3" fill="#266daf"/><rect x="255.2" y="418.7" width="3.3" height="3.3" fill="#2064aa"/><rect x="258.2" y="418.7" width="3.3" height="3.3" fill="#1e61a5"/><rect x="261.2" y="418.7" width="3.3" height="3.3" fill="#2268ad"/><rect x="264.2" y="418.7" width="3.3" height="3.3" fill="#347fb9"/><rect x="267.2" y="418.7" width="3.3" height="3.3" fill="#82bbd8"/><rect x="270.2" y="418.7" width="3.3" height="3.3" fill="#f8d3c0"/><rect x="273.2" y="418.7" width="3.3" height="3.3" fill="#e58267"/><rect x="276.2" y="418.7" width="3.3" height="3.3" fill="#d35a4a"/><rect x="279.2" y="418.7" width="3.3" height="3.3" fill="#c6413e"/><rect x="282.2" y="418.7" width="3.3" height="3.3" fill="#c13639"/><rect x="285.2" y="418.7" width="3.3" height="3.3" fill="#c1373a"/><rect x="288.2" y="418.7" width="3.3" height="3.3" fill="#c53e3d"/><rect x="291.2" y="418.7" width="3.3" height="3.3" fill="#ca4842"/><rect x="294.2" y="418.7" width="3.3" height="3.3" fill="#d15748"/><rect x="297.2" y="418.7" width="3.3" height="3.3" fill="#d96752"/><rect x="300.2" y="418.7" width="3.3" height="3.3" fill="#e0785f"/><rect x="303.2" y="418.7" width="3.3" height="3.3" fill="#e7886c"/><rect x="306.2" y="418.7" width="3.3" height="3.3" fill="#ee9878"/><rect x="309.2" y="418.7" width="3.3" height="3.3" fill="#f4a784"/><rect x="312.2" y="418.7" width="3.3" height="3.3" fill="#f5b699"/><rect x="315.2" y="418.7" width="3.3" height="3.3" fill="#f7c3aa"/><rect x="318.2" y="418.7" width="3.3" height="3.3" fill="#f8ceb8"/><rect x="321.2" y="418.7" width="3.3" height="3.3" fill="#f8d6c3"/><rect x="324.2" y="418.7" width="3.3" height="3.3" fill="#f9dccc"/><rect x="327.2" y="418.7" width="3.3" height="3.3" fill="#f9e1d2"/><rect x="330.2" y="418.7" width="3.3" height="3.3" fill="#f9e4d7"/><rect x="333.2" y="418.7" width="3.3" height="3.3" fill="#f9e6da"/><rect x="336.2" y="418.7" width="3.3" height="3.3" fill="#f9e7dc"/><rect x="339.2" y="418.7" width="3.3" height="3.3" fill="#f9e8de"/><rect x="342.2" y="418.7" width="3.3" height="3.3" fill="#f9e8de"/><rect x="345.2" y="418.7" width="3.3" height="3.3" fill="#f9e9df"/><rect x="222.2" y="421.7" width="3.3" height="3.3" fill="#e8eff3"/><rect x="225.2" y="421.7" width="3.3" height="3.3" fill="#deebf2"/><rect x="228.2" y="421.7" width="3.3" height="3.3" fill="#d0e4f0"/><rect x="231.2" y="421.7" width="3.3" height="3.3" fill="#bedbea"/><rect x="234.2" y="421.7" width="3.3" height="3.3" fill="#a6cfe4"/><rect x="237.2" y="421.7" width="3.3" height="3.3" fill="#8bc0db"/><rect x="240.2" y="421.7" width="3.3" height="3.3" fill="#70afd2"/><rect x="243.2" y="421.7" width="3.3" height="3.3" fill="#529cc8"/><rect x="246.2" y="421.7" width="3.3" height="3.3" fill="#3c8abe"/><rect x="249.2" y="421.7" width="3.3" height="3.3" fill="#307ab6"/><rect x="252.2" y="421.7" width="3.3" height="3.3" fill="#266daf"/><rect x="255.2" y="421.7" width="3.3" height="3.3" fill="#2064aa"/><rect x="258.2" y="421.7" width="3.3" height="3.3" fill="#1e61a5"/><rect x="261.2" y="421.7" width="3.3" height="3.3" fill="#2268ad"/><rect x="264.2" y="421.7" width="3.3" height="3.3" fill="#347fb8"/><rect x="267.2" y="421.7" width="3.3" height="3.3" fill="#80b9d7"/><rect x="270.2" y="421.7" width="3.3" height="3.3" fill="#f9d7c4"/><rect x="273.2" y="421.7" width="3.3" height="3.3" fill="#e68569"/><rect x="276.2" y="421.7" width="3.3" height="3.3" fill="#d45d4b"/><rect x="279.2" y="421.7" width="3.3" height="3.3" fill="#c8443f"/><rect x="282.2" y="421.7" width="3.3" height="3.3" fill="#c2393a"/><rect x="285.2" y="421.7" width="3.3" height="3.3" fill="#c33b3b"/><rect x="288.2" y="421.7" width="3.3" height="3.3" fill="#c6413e"/><rect x="291.2" y="421.7" width="3.3" height="3.3" fill="#cb4b43"/><rect x="294.2" y="421.7" width="3.3" height="3.3" fill="#d2594a"/><rect x="297.2" y="421.7" width="3.3" height="3.3" fill="#da6954"/><rect x="300.2" y="421.7" width="3.3" height="3.3" fill="#e17a60"/><rect x="303.2" y="421.7" width="3.3" height="3.3" fill="#e88a6d"/><rect x="306.2" y="421.7" width="3.3" height="3.3" fill="#ef9979"/><rect x="309.2" y="421.7" width="3.3" height="3.3" fill="#f4a886"/><rect x="312.2" y="421.7" width="3.3" height="3.3" fill="#f5b79a"/><rect x="315.2" y="421.7" width="3.3" height="3.3" fill="#f7c4ab"/><rect x="318.2" y="421.7" width="3.3" height="3.3" fill="#f8ceb9"/><rect x="321.2" y="421.7" width="3.3" height="3.3" fill="#f8d6c4"/><rect x="324.2" y="421.7" width="3.3" height="3.3" fill="#f9ddcc"/><rect x="327.2" y="421.7" width="3.3" height="3.3" fill="#f9e1d2"/><rect x="330.2" y="421.7" width="3.3" height="3.3" fill="#f9e4d7"/><rect x="333.2" y="421.7" width="3.3" height="3.3" fill="#f9e6da"/><rect x="336.2" y="421.7" width="3.3" height="3.3" fill="#f9e7dc"/><rect x="339.2" y="421.7" width="3.3" height="3.3" fill="#f9e8dd"/><rect x="342.2" y="421.7" width="3.3" height="3.3" fill="#f9e8de"/><rect x="345.2" y="421.7" width="3.3" height="3.3" fill="#f9e9df"/><rect x="222.2" y="424.7" width="3.3" height="3.3" fill="#e8eff3"/><rect x="225.2" y="424.7" width="3.3" height="3.3" fill="#deebf2"/><rect x="228.2" y="424.7" width="3.3" height="3.3" fill="#d0e4f0"/><rect x="231.2" y="424.7" width="3.3" height="3.3" fill="#bedbea"/><rect x="234.2" y="424.7" width="3.3" height="3.3" fill="#a6cfe4"/><rect x="237.2" y="424.7" width="3.3" height="3.3" fill="#8bc0db"/><rect x="240.2" y="424.7" width="3.3" height="3.3" fill="#70afd2"/><rect x="243.2" y="424.7" width="3.3" height="3.3" fill="#529cc8"/><rect x="246.2" y="424.7" width="3.3" height="3.3" fill="#3c8abe"/><rect x="249.2" y="424.7" width="3.3" height="3.3" fill="#307ab6"/><rect x="252.2" y="424.7" width="3.3" height="3.3" fill="#266daf"/><rect x="255.2" y="424.7" width="3.3" height="3.3" fill="#2064aa"/><rect x="258.2" y="424.7" width="3.3" height="3.3" fill="#1e61a5"/><rect x="261.2" y="424.7" width="3.3" height="3.3" fill="#2268ad"/><rect x="264.2" y="424.7" width="3.3" height="3.3" fill="#337eb8"/><rect x="267.2" y="424.7" width="3.3" height="3.3" fill="#7db8d7"/><rect x="270.2" y="424.7" width="3.3" height="3.3" fill="#f9dbca"/><rect x="273.2" y="424.7" width="3.3" height="3.3" fill="#e8896c"/><rect x="276.2" y="424.7" width="3.3" height="3.3" fill="#d7624f"/><rect x="279.2" y="424.7" width="3.3" height="3.3" fill="#cb4a42"/><rect x="282.2" y="424.7" width="3.3" height="3.3" fill="#c6403e"/><rect x="285.2" y="424.7" width="3.3" height="3.3" fill="#c6413e"/><rect x="288.2" y="424.7" width="3.3" height="3.3" fill="#c94741"/><rect x="291.2" y="424.7" width="3.3" height="3.3" fill="#ce5146"/><rect x="294.2" y="424.7" width="3.3" height="3.3" fill="#d55f4c"/><rect x="297.2" y="424.7" width="3.3" height="3.3" fill="#dc6e57"/><rect x="300.2" y="424.7" width="3.3" height="3.3" fill="#e37e64"/><rect x="303.2" y="424.7" width="3.3" height="3.3" fill="#e98d70"/><rect x="306.2" y="424.7" width="3.3" height="3.3" fill="#f09c7b"/><rect x="309.2" y="424.7" width="3.3" height="3.3" fill="#f4ab8a"/><rect x="312.2" y="424.7" width="3.3" height="3.3" fill="#f6b99d"/><rect x="315.2" y="424.7" width="3.3" height="3.3" fill="#f7c5ad"/><rect x="318.2" y="424.7" width="3.3" height="3.3" fill="#f8cfba"/><rect x="321.2" y="424.7" width="3.3" height="3.3" fill="#f9d7c5"/><rect x="324.2" y="424.7" width="3.3" height="3.3" fill="#f9ddcd"/><rect x="327.2" y="424.7" width="3.3" height="3.3" fill="#f9e1d3"/><rect x="330.2" y="424.7" width="3.3" height="3.3" fill="#f9e4d7"/><rect x="333.2" y="424.7" width="3.3" height="3.3" fill="#f9e6da"/><rect x="336.2" y="424.7" width="3.3" height="3.3" fill="#f9e7dc"/><rect x="339.2" y="424.7" width="3.3" height="3.3" fill="#f9e8dd"/><rect x="342.2" y="424.7" width="3.3" height="3.3" fill="#f9e8de"/><rect x="345.2" y="424.7" width="3.3" height="3.3" fill="#f9e9df"/><rect x="222.2" y="427.7" width="3.3" height="3.3" fill="#e8eff3"/><rect x="225.2" y="427.7" width="3.3" height="3.3" fill="#deebf2"/><rect x="228.2" y="427.7" width="3.3" height="3.3" fill="#d0e4f0"/><rect x="231.2" y="427.7" width="3.3" height="3.3" fill="#bedbea"/><rect x="234.2" y="427.7" width="3.3" height="3.3" fill="#a6cfe4"/><rect x="237.2" y="427.7" width="3.3" height="3.3" fill="#8bc0db"/><rect x="240.2" y="427.7" width="3.3" height="3.3" fill="#70afd2"/><rect x="243.2" y="427.7" width="3.3" height="3.3" fill="#529cc8"/><rect x="246.2" y="427.7" width="3.3" height="3.3" fill="#3c8abe"/><rect x="249.2" y="427.7" width="3.3" height="3.3" fill="#307ab6"/><rect x="252.2" y="427.7" width="3.3" height="3.3" fill="#266daf"/><rect x="255.2" y="427.7" width="3.3" height="3.3" fill="#2064aa"/><rect x="258.2" y="427.7" width="3.3" height="3.3" fill="#1e61a5"/><rect x="261.2" y="427.7" width="3.3" height="3.3" fill="#2268ad"/><rect x="264.2" y="427.7" width="3.3" height="3.3" fill="#337eb8"/><rect x="267.2" y="427.7" width="3.3" height="3.3" fill="#7ab5d5"/><rect x="270.2" y="427.7" width="3.3" height="3.3" fill="#f9e2d3"/><rect x="273.2" y="427.7" width="3.3" height="3.3" fill="#eb9072"/><rect x="276.2" y="427.7" width="3.3" height="3.3" fill="#db6b56"/><rect x="279.2" y="427.7" width="3.3" height="3.3" fill="#d05548"/><rect x="282.2" y="427.7" width="3.3" height="3.3" fill="#cc4c43"/><rect x="285.2" y="427.7" width="3.3" height="3.3" fill="#cc4d44"/><rect x="288.2" y="427.7" width="3.3" height="3.3" fill="#cf5346"/><rect x="291.2" y="427.7" width="3.3" height="3.3" fill="#d45c4b"/><rect x="294.2" y="427.7" width="3.3" height="3.3" fill="#d96853"/><rect x="297.2" y="427.7" width="3.3" height="3.3" fill="#df765e"/><rect x="300.2" y="427.7" width="3.3" height="3.3" fill="#e68569"/><rect x="303.2" y="427.7" width="3.3" height="3.3" fill="#ec9374"/><rect x="306.2" y="427.7" width="3.3" height="3.3" fill="#f2a17f"/><rect x="309.2" y="427.7" width="3.3" height="3.3" fill="#f5af90"/><rect x="312.2" y="427.7" width="3.3" height="3.3" fill="#f6bda2"/><rect x="315.2" y="427.7" width="3.3" height="3.3" fill="#f7c8b1"/><rect x="318.2" y="427.7" width="3.3" height="3.3" fill="#f8d1bd"/><rect x="321.2" y="427.7" width="3.3" height="3.3" fill="#f9d8c7"/><rect x="324.2" y="427.7" width="3.3" height="3.3" fill="#f9dece"/><rect x="327.2" y="427.7" width="3.3" height="3.3" fill="#f9e2d4"/><rect x="330.2" y="427.7" width="3.3" height="3.3" fill="#f9e4d8"/><rect x="333.2" y="427.7" width="3.3" height="3.3" fill="#f9e6da"/><rect x="336.2" y="427.7" width="3.3" height="3.3" fill="#f9e7dc"/><rect x="339.2" y="427.7" width="3.3" height="3.3" fill="#f9e8dd"/><rect x="342.2" y="427.7" width="3.3" height="3.3" fill="#f9e8de"/><rect x="345.2" y="427.7" width="3.3" height="3.3" fill="#f9e9df"/><rect x="222.2" y="430.7" width="3.3" height="3.3" fill="#e8eff3"/><rect x="225.2" y="430.7" width="3.3" height="3.3" fill="#deebf2"/><rect x="228.2" y="430.7" width="3.3" height="3.3" fill="#d0e4f0"/><rect x="231.2" y="430.7" width="3.3" height="3.3" fill="#bedbea"/><rect x="234.2" y="430.7" width="3.3" height="3.3" fill="#a7cfe4"/><rect x="237.2" y="430.7" width="3.3" height="3.3" fill="#8bc0db"/><rect x="240.2" y="430.7" width="3.3" height="3.3" fill="#70afd2"/><rect x="243.2" y="430.7" width="3.3" height="3.3" fill="#529cc8"/><rect x="246.2" y="430.7" width="3.3" height="3.3" fill="#3c8abe"/><rect x="249.2" y="430.7" width="3.3" height="3.3" fill="#307ab6"/><rect x="252.2" y="430.7" width="3.3" height="3.3" fill="#266daf"/><rect x="255.2" y="430.7" width="3.3" height="3.3" fill="#2064aa"/><rect x="258.2" y="430.7" width="3.3" height="3.3" fill="#1e61a5"/><rect x="261.2" y="430.7" width="3.3" height="3.3" fill="#2268ad"/><rect x="264.2" y="430.7" width="3.3" height="3.3" fill="#327db8"/><rect x="267.2" y="430.7" width="3.3" height="3.3" fill="#76b3d4"/><rect x="270.2" y="430.7" width="3.3" height="3.3" fill="#f9e9df"/><rect x="273.2" y="430.7" width="3.3" height="3.3" fill="#ef9b7a"/><rect x="276.2" y="430.7" width="3.3" height="3.3" fill="#e17960"/><rect x="279.2" y="430.7" width="3.3" height="3.3" fill="#d86651"/><rect x="282.2" y="430.7" width="3.3" height="3.3" fill="#d45d4c"/><rect x="285.2" y="430.7" width="3.3" height="3.3" fill="#d55e4c"/><rect x="288.2" y="430.7" width="3.3" height="3.3" fill="#d7634f"/><rect x="291.2" y="430.7" width="3.3" height="3.3" fill="#db6b56"/><rect x="294.2" y="430.7" width="3.3" height="3.3" fill="#df765e"/><rect x="297.2" y="430.7" width="3.3" height="3.3" fill="#e58267"/><rect x="300.2" y="430.7" width="3.3" height="3.3" fill="#ea8f71"/><rect x="303.2" y="430.7" width="3.3" height="3.3" fill="#f09c7b"/><rect x="306.2" y="430.7" width="3.3" height="3.3" fill="#f4a988"/><rect x="309.2" y="430.7" width="3.3" height="3.3" fill="#f5b79a"/><rect x="312.2" y="430.7" width="3.3" height="3.3" fill="#f6c2a9"/><rect x="315.2" y="430.7" width="3.3" height="3.3" fill="#f7ccb6"/><rect x="318.2" y="430.7" width="3.3" height="3.3" fill="#f8d4c1"/><rect x="321.2" y="430.7" width="3.3" height="3.3" fill="#f9dac9"/><rect x="324.2" y="430.7" width="3.3" height="3.3" fill="#f9dfd0"/><rect x="327.2" y="430.7" width="3.3" height="3.3" fill="#f9e3d5"/><rect x="330.2" y="430.7" width="3.3" height="3.3" fill="#f9e5d8"/><rect x="333.2" y="430.7" width="3.3" height="3.3" fill="#f9e6db"/><rect x="336.2" y="430.7" width="3.3" height="3.3" fill="#f9e7dc"/><rect x="339.2" y="430.7" width="3.3" height="3.3" fill="#f9e8de"/><rect x="342.2" y="430.7" width="3.3" height="3.3" fill="#f9e8de"/><rect x="345.2" y="430.7" width="3.3" height="3.3" fill="#f9e9df"/><rect x="222.2" y="433.7" width="3.3" height="3.3" fill="#e8eff3"/><rect x="225.2" y="433.7" width="3.3" height="3.3" fill="#deebf2"/><rect x="228.2" y="433.7" width="3.3" height="3.3" fill="#d0e4f0"/><rect x="231.2" y="433.7" width="3.3" height="3.3" fill="#bedbea"/><rect x="234.2" y="433.7" width="3.3" height="3.3" fill="#a7cfe4"/><rect x="237.2" y="433.7" width="3.3" height="3.3" fill="#8cc1db"/><rect x="240.2" y="433.7" width="3.3" height="3.3" fill="#70b0d2"/><rect x="243.2" y="433.7" width="3.3" height="3.3" fill="#539dc8"/><rect x="246.2" y="433.7" width="3.3" height="3.3" fill="#3d8bbf"/><rect x="249.2" y="433.7" width="3.3" height="3.3" fill="#317bb6"/><rect x="252.2" y="433.7" width="3.3" height="3.3" fill="#276eb0"/><rect x="255.2" y="433.7" width="3.3" height="3.3" fill="#2065ab"/><rect x="258.2" y="433.7" width="3.3" height="3.3" fill="#1f62a7"/><rect x="261.2" y="433.7" width="3.3" height="3.3" fill="#2368ad"/><rect x="264.2" y="433.7" width="3.3" height="3.3" fill="#327db8"/><rect x="267.2" y="433.7" width="3.3" height="3.3" fill="#72b1d3"/><rect x="270.2" y="433.7" width="3.3" height="3.3" fill="#f8f2ee"/><rect x="273.2" y="433.7" width="3.3" height="3.3" fill="#f4aa89"/><rect x="276.2" y="433.7" width="3.3" height="3.3" fill="#e98c6e"/><rect x="279.2" y="433.7" width="3.3" height="3.3" fill="#e27b62"/><rect x="282.2" y="433.7" width="3.3" height="3.3" fill="#de745c"/><rect x="285.2" y="433.7" width="3.3" height="3.3" fill="#df755d"/><rect x="288.2" y="433.7" width="3.3" height="3.3" fill="#e17960"/><rect x="291.2" y="433.7" width="3.3" height="3.3" fill="#e38065"/><rect x="294.2" y="433.7" width="3.3" height="3.3" fill="#e7896c"/><rect x="297.2" y="433.7" width="3.3" height="3.3" fill="#ec9374"/><rect x="300.2" y="433.7" width="3.3" height="3.3" fill="#f09d7c"/><rect x="303.2" y="433.7" width="3.3" height="3.3" fill="#f4a987"/><rect x="306.2" y="433.7" width="3.3" height="3.3" fill="#f5b598"/><rect x="309.2" y="433.7" width="3.3" height="3.3" fill="#f6c0a6"/><rect x="312.2" y="433.7" width="3.3" height="3.3" fill="#f7cab3"/><rect x="315.2" y="433.7" width="3.3" height="3.3" fill="#f8d2be"/><rect x="318.2" y="433.7" width="3.3" height="3.3" fill="#f9d8c6"/><rect x="321.2" y="433.7" width="3.3" height="3.3" fill="#f9ddcd"/><rect x="324.2" y="433.7" width="3.3" height="3.3" fill="#f9e1d3"/><rect x="327.2" y="433.7" width="3.3" height="3.3" fill="#f9e4d7"/><rect x="330.2" y="433.7" width="3.3" height="3.3" fill="#f9e5da"/><rect x="333.2" y="433.7" width="3.3" height="3.3" fill="#f9e7dc"/><rect x="336.2" y="433.7" width="3.3" height="3.3" fill="#f9e8dd"/><rect x="339.2" y="433.7" width="3.3" height="3.3" fill="#f9e8de"/><rect x="342.2" y="433.7" width="3.3" height="3.3" fill="#f9e8de"/><rect x="345.2" y="433.7" width="3.3" height="3.3" fill="#f9e9df"/><rect x="222.2" y="436.7" width="3.3" height="3.3" fill="#e8eff3"/><rect x="225.2" y="436.7" width="3.3" height="3.3" fill="#deebf2"/><rect x="228.2" y="436.7" width="3.3" height="3.3" fill="#d1e5f0"/><rect x="231.2" y="436.7" width="3.3" height="3.3" fill="#bfdceb"/><rect x="234.2" y="436.7" width="3.3" height="3.3" fill="#a8d0e4"/><rect x="237.2" y="436.7" width="3.3" height="3.3" fill="#8dc1dc"/><rect x="240.2" y="436.7" width="3.3" height="3.3" fill="#72b1d3"/><rect x="243.2" y="436.7" width="3.3" height="3.3" fill="#559ec9"/><rect x="246.2" y="436.7" width="3.3" height="3.3" fill="#3e8cbf"/><rect x="249.2" y="436.7" width="3.3" height="3.3" fill="#327cb7"/><rect x="252.2" y="436.7" width="3.3" height="3.3" fill="#2870b1"/><rect x="255.2" y="436.7" width="3.3" height="3.3" fill="#2267ac"/><rect x="258.2" y="436.7" width="3.3" height="3.3" fill="#2064aa"/><rect x="261.2" y="436.7" width="3.3" height="3.3" fill="#246aae"/><rect x="264.2" y="436.7" width="3.3" height="3.3" fill="#337eb8"/><rect x="267.2" y="436.7" width="3.3" height="3.3" fill="#6fafd2"/><rect x="270.2" y="436.7" width="3.3" height="3.3" fill="#edf1f3"/><rect x="273.2" y="436.7" width="3.3" height="3.3" fill="#f6bfa4"/><rect x="276.2" y="436.7" width="3.3" height="3.3" fill="#f2a17f"/><rect x="279.2" y="436.7" width="3.3" height="3.3" fill="#ec9475"/><rect x="282.2" y="436.7" width="3.3" height="3.3" fill="#ea8f71"/><rect x="285.2" y="436.7" width="3.3" height="3.3" fill="#ea8f71"/><rect x="288.2" y="436.7" width="3.3" height="3.3" fill="#ec9274"/><rect x="291.2" y="436.7" width="3.3" height="3.3" fill="#ee9878"/><rect x="294.2" y="436.7" width="3.3" height="3.3" fill="#f19e7d"/><rect x="297.2" y="436.7" width="3.3" height="3.3" fill="#f4a684"/><rect x="300.2" y="436.7" width="3.3" height="3.3" fill="#f5b091"/><rect x="303.2" y="436.7" width="3.3" height="3.3" fill="#f6ba9f"/><rect x="306.2" y="436.7" width="3.3" height="3.3" fill="#f7c3ab"/><rect x="309.2" y="436.7" width="3.3" height="3.3" fill="#f7cbb5"/><rect x="312.2" y="436.7" width="3.3" height="3.3" fill="#f8d2bf"/><rect x="315.2" y="436.7" width="3.3" height="3.3" fill="#f9d8c6"/><rect x="318.2" y="436.7" width="3.3" height="3.3" fill="#f9ddcd"/><rect x="321.2" y="436.7" width="3.3" height="3.3" fill="#f9e1d2"/><rect x="324.2" y="436.7" width="3.3" height="3.3" fill="#f9e3d6"/><rect x="327.2" y="436.7" width="3.3" height="3.3" fill="#f9e5d9"/><rect x="330.2" y="436.7" width="3.3" height="3.3" fill="#f9e6db"/><rect x="333.2" y="436.7" width="3.3" height="3.3" fill="#f9e7dc"/><rect x="336.2" y="436.7" width="3.3" height="3.3" fill="#f9e8dd"/><rect x="339.2" y="436.7" width="3.3" height="3.3" fill="#f9e8de"/><rect x="342.2" y="436.7" width="3.3" height="3.3" fill="#f9e9df"/><rect x="345.2" y="436.7" width="3.3" height="3.3" fill="#f9e9df"/><rect x="222.2" y="439.7" width="3.3" height="3.3" fill="#e8eff3"/><rect x="225.2" y="439.7" width="3.3" height="3.3" fill="#dfebf2"/><rect x="228.2" y="439.7" width="3.3" height="3.3" fill="#d2e5f0"/><rect x="231.2" y="439.7" width="3.3" height="3.3" fill="#c1dceb"/><rect x="234.2" y="439.7" width="3.3" height="3.3" fill="#aad1e5"/><rect x="237.2" y="439.7" width="3.3" height="3.3" fill="#8fc3dd"/><rect x="240.2" y="439.7" width="3.3" height="3.3" fill="#75b3d4"/><rect x="243.2" y="439.7" width="3.3" height="3.3" fill="#59a1ca"/><rect x="246.2" y="439.7" width="3.3" height="3.3" fill="#408fc1"/><rect x="249.2" y="439.7" width="3.3" height="3.3" fill="#3480b9"/><rect x="252.2" y="439.7" width="3.3" height="3.3" fill="#2b73b3"/><rect x="255.2" y="439.7" width="3.3" height="3.3" fill="#256bae"/><rect x="258.2" y="439.7" width="3.3" height="3.3" fill="#2368ad"/><rect x="261.2" y="439.7" width="3.3" height="3.3" fill="#276eb0"/><rect x="264.2" y="439.7" width="3.3" height="3.3" fill="#3581b9"/><rect x="267.2" y="439.7" width="3.3" height="3.3" fill="#6eaed1"/><rect x="270.2" y="439.7" width="3.3" height="3.3" fill="#deebf2"/><rect x="273.2" y="439.7" width="3.3" height="3.3" fill="#f8d4c0"/><rect x="276.2" y="439.7" width="3.3" height="3.3" fill="#f6bca1"/><rect x="279.2" y="439.7" width="3.3" height="3.3" fill="#f5b091"/><rect x="282.2" y="439.7" width="3.3" height="3.3" fill="#f4ac8b"/><rect x="285.2" y="439.7" width="3.3" height="3.3" fill="#f4ac8c"/><rect x="288.2" y="439.7" width="3.3" height="3.3" fill="#f5af8f"/><rect x="291.2" y="439.7" width="3.3" height="3.3" fill="#f5b395"/><rect x="294.2" y="439.7" width="3.3" height="3.3" fill="#f6b99c"/><rect x="297.2" y="439.7" width="3.3" height="3.3" fill="#f6bfa5"/><rect x="300.2" y="439.7" width="3.3" height="3.3" fill="#f7c6ae"/><rect x="303.2" y="439.7" width="3.3" height="3.3" fill="#f7ccb6"/><rect x="306.2" y="439.7" width="3.3" height="3.3" fill="#f8d2be"/><rect x="309.2" y="439.7" width="3.3" height="3.3" fill="#f9d7c5"/><rect x="312.2" y="439.7" width="3.3" height="3.3" fill="#f9dbcb"/><rect x="315.2" y="439.7" width="3.3" height="3.3" fill="#f9dfcf"/><rect x="318.2" y="439.7" width="3.3" height="3.3" fill="#f9e2d3"/><rect x="321.2" y="439.7" width="3.3" height="3.3" fill="#f9e4d7"/><rect x="324.2" y="439.7" width="3.3" height="3.3" fill="#f9e5d9"/><rect x="327.2" y="439.7" width="3.3" height="3.3" fill="#f9e6db"/><rect x="330.2" y="439.7" width="3.3" height="3.3" fill="#f9e7dc"/><rect x="333.2" y="439.7" width="3.3" height="3.3" fill="#f9e8dd"/><rect x="336.2" y="439.7" width="3.3" height="3.3" fill="#f9e8de"/><rect x="339.2" y="439.7" width="3.3" height="3.3" fill="#f9e8de"/><rect x="342.2" y="439.7" width="3.3" height="3.3" fill="#f9e9df"/><rect x="345.2" y="439.7" width="3.3" height="3.3" fill="#f9e9df"/><rect x="222.2" y="442.7" width="3.3" height="3.3" fill="#e9eff3"/><rect x="225.2" y="442.7" width="3.3" height="3.3" fill="#e0ecf2"/><rect x="228.2" y="442.7" width="3.3" height="3.3" fill="#d3e6f1"/><rect x="231.2" y="442.7" width="3.3" height="3.3" fill="#c3deec"/><rect x="234.2" y="442.7" width="3.3" height="3.3" fill="#aed3e6"/><rect x="237.2" y="442.7" width="3.3" height="3.3" fill="#94c6de"/><rect x="240.2" y="442.7" width="3.3" height="3.3" fill="#7bb6d6"/><rect x="243.2" y="442.7" width="3.3" height="3.3" fill="#60a5cc"/><rect x="246.2" y="442.7" width="3.3" height="3.3" fill="#4494c3"/><rect x="249.2" y="442.7" width="3.3" height="3.3" fill="#3885bc"/><rect x="252.2" y="442.7" width="3.3" height="3.3" fill="#2f79b6"/><rect x="255.2" y="442.7" width="3.3" height="3.3" fill="#2a72b2"/><rect x="258.2" y="442.7" width="3.3" height="3.3" fill="#286fb0"/><rect x="261.2" y="442.7" width="3.3" height="3.3" fill="#2b74b3"/><rect x="264.2" y="442.7" width="3.3" height="3.3" fill="#3986bc"/><rect x="267.2" y="442.7" width="3.3" height="3.3" fill="#70afd2"/><rect x="270.2" y="442.7" width="3.3" height="3.3" fill="#d3e6f0"/><rect x="273.2" y="442.7" width="3.3" height="3.3" fill="#f9e5d8"/><rect x="276.2" y="442.7" width="3.3" height="3.3" fill="#f8d4c1"/><rect x="279.2" y="442.7" width="3.3" height="3.3" fill="#f8cdb7"/><rect x="282.2" y="442.7" width="3.3" height="3.3" fill="#f7cab3"/><rect x="285.2" y="442.7" width="3.3" height="3.3" fill="#f7cab4"/><rect x="288.2" y="442.7" width="3.3" height="3.3" fill="#f7ccb6"/><rect x="291.2" y="442.7" width="3.3" height="3.3" fill="#f8ceb9"/><rect x="294.2" y="442.7" width="3.3" height="3.3" fill="#f8d1bd"/><rect x="297.2" y="442.7" width="3.3" height="3.3" fill="#f8d5c2"/><rect x="300.2" y="442.7" width="3.3" height="3.3" fill="#f9d9c7"/><rect x="303.2" y="442.7" width="3.3" height="3.3" fill="#f9dccc"/><rect x="306.2" y="442.7" width="3.3" height="3.3" fill="#f9dfd0"/><rect x="309.2" y="442.7" width="3.3" height="3.3" fill="#f9e1d3"/><rect x="312.2" y="442.7" width="3.3" height="3.3" fill="#f9e3d5"/><rect x="315.2" y="442.7" width="3.3" height="3.3" fill="#f9e4d7"/><rect x="318.2" y="442.7" width="3.3" height="3.3" fill="#f9e5d9"/><rect x="321.2" y="442.7" width="3.3" height="3.3" fill="#f9e6db"/><rect x="324.2" y="442.7" width="3.3" height="3.3" fill="#f9e7dc"/><rect x="327.2" y="442.7" width="3.3" height="3.3" fill="#f9e8dd"/><rect x="330.2" y="442.7" width="3.3" height="3.3" fill="#f9e8de"/><rect x="333.2" y="442.7" width="3.3" height="3.3" fill="#f9e8de"/><rect x="336.2" y="442.7" width="3.3" height="3.3" fill="#f9e9df"/><rect x="339.2" y="442.7" width="3.3" height="3.3" fill="#f9e9df"/><rect x="342.2" y="442.7" width="3.3" height="3.3" fill="#f9e9df"/><rect x="345.2" y="442.7" width="3.3" height="3.3" fill="#f9e9df"/><rect x="222.2" y="445.7" width="3.3" height="3.3" fill="#eaf0f3"/><rect x="225.2" y="445.7" width="3.3" height="3.3" fill="#e2ecf2"/><rect x="228.2" y="445.7" width="3.3" height="3.3" fill="#d6e7f1"/><rect x="231.2" y="445.7" width="3.3" height="3.3" fill="#c7e0ed"/><rect x="234.2" y="445.7" width="3.3" height="3.3" fill="#b3d6e7"/><rect x="237.2" y="445.7" width="3.3" height="3.3" fill="#9bc9e0"/><rect x="240.2" y="445.7" width="3.3" height="3.3" fill="#83bbd8"/><rect x="243.2" y="445.7" width="3.3" height="3.3" fill="#6aabd0"/><rect x="246.2" y="445.7" width="3.3" height="3.3" fill="#519bc7"/><rect x="249.2" y="445.7" width="3.3" height="3.3" fill="#3f8dc0"/><rect x="252.2" y="445.7" width="3.3" height="3.3" fill="#3682ba"/><rect x="255.2" y="445.7" width="3.3" height="3.3" fill="#317bb7"/><rect x="258.2" y="445.7" width="3.3" height="3.3" fill="#2f79b5"/><rect x="261.2" y="445.7" width="3.3" height="3.3" fill="#337db8"/><rect x="264.2" y="445.7" width="3.3" height="3.3" fill="#3f8dc0"/><rect x="267.2" y="445.7" width="3.3" height="3.3" fill="#76b3d4"/><rect x="270.2" y="445.7" width="3.3" height="3.3" fill="#cde3ef"/><rect x="273.2" y="445.7" width="3.3" height="3.3" fill="#f8f0ea"/><rect x="276.2" y="445.7" width="3.3" height="3.3" fill="#f9e6da"/><rect x="279.2" y="445.7" width="3.3" height="3.3" fill="#f9e2d4"/><rect x="282.2" y="445.7" width="3.3" height="3.3" fill="#f9e1d2"/><rect x="285.2" y="445.7" width="3.3" height="3.3" fill="#f9e1d2"/><rect x="288.2" y="445.7" width="3.3" height="3.3" fill="#f9e1d3"/><rect x="291.2" y="445.7" width="3.3" height="3.3" fill="#f9e2d4"/><rect x="294.2" y="445.7" width="3.3" height="3.3" fill="#f9e3d6"/><rect x="297.2" y="445.7" width="3.3" height="3.3" fill="#f9e5d8"/><rect x="300.2" y="445.7" width="3.3" height="3.3" fill="#f9e6da"/><rect x="303.2" y="445.7" width="3.3" height="3.3" fill="#f9e7dc"/><rect x="306.2" y="445.7" width="3.3" height="3.3" fill="#f9e7dd"/><rect x="309.2" y="445.7" width="3.3" height="3.3" fill="#f9e8dd"/><rect x="312.2" y="445.7" width="3.3" height="3.3" fill="#f9e8dd"/><rect x="315.2" y="445.7" width="3.3" height="3.3" fill="#f9e8dd"/><rect x="318.2" y="445.7" width="3.3" height="3.3" fill="#f9e8de"/><rect x="321.2" y="445.7" width="3.3" height="3.3" fill="#f9e8de"/><rect x="324.2" y="445.7" width="3.3" height="3.3" fill="#f9e8de"/><rect x="327.2" y="445.7" width="3.3" height="3.3" fill="#f9e8de"/><rect x="330.2" y="445.7" width="3.3" height="3.3" fill="#f9e9df"/><rect x="333.2" y="445.7" width="3.3" height="3.3" fill="#f9e9df"/><rect x="336.2" y="445.7" width="3.3" height="3.3" fill="#f9e9df"/><rect x="339.2" y="445.7" width="3.3" height="3.3" fill="#f9e9df"/><rect x="342.2" y="445.7" width="3.3" height="3.3" fill="#f9e9df"/><rect x="345.2" y="445.7" width="3.3" height="3.3" fill="#f9e9df"/><rect x="222.2" y="448.7" width="3.3" height="3.3" fill="#ecf1f3"/><rect x="225.2" y="448.7" width="3.3" height="3.3" fill="#e5edf2"/><rect x="228.2" y="448.7" width="3.3" height="3.3" fill="#dae9f2"/><rect x="231.2" y="448.7" width="3.3" height="3.3" fill="#cce2ef"/><rect x="234.2" y="448.7" width="3.3" height="3.3" fill="#bbdaea"/><rect x="237.2" y="448.7" width="3.3" height="3.3" fill="#a6cfe3"/><rect x="240.2" y="448.7" width="3.3" height="3.3" fill="#8ec2dc"/><rect x="243.2" y="448.7" width="3.3" height="3.3" fill="#78b4d5"/><rect x="246.2" y="448.7" width="3.3" height="3.3" fill="#62a6cd"/><rect x="249.2" y="448.7" width="3.3" height="3.3" fill="#4d99c6"/><rect x="252.2" y="448.7" width="3.3" height="3.3" fill="#408fc1"/><rect x="255.2" y="448.7" width="3.3" height="3.3" fill="#3b89bd"/><rect x="258.2" y="448.7" width="3.3" height="3.3" fill="#3986bc"/><rect x="261.2" y="448.7" width="3.3" height="3.3" fill="#3c8abe"/><rect x="264.2" y="448.7" width="3.3" height="3.3" fill="#4d99c6"/><rect x="267.2" y="448.7" width="3.3" height="3.3" fill="#80bad8"/><rect x="270.2" y="448.7" width="3.3" height="3.3" fill="#cce2ef"/><rect x="273.2" y="448.7" width="3.3" height="3.3" fill="#f6f5f3"/><rect x="276.2" y="448.7" width="3.3" height="3.3" fill="#f8efe9"/><rect x="279.2" y="448.7" width="3.3" height="3.3" fill="#f8ede6"/><rect x="282.2" y="448.7" width="3.3" height="3.3" fill="#f8ece4"/><rect x="285.2" y="448.7" width="3.3" height="3.3" fill="#f8ece4"/><rect x="288.2" y="448.7" width="3.3" height="3.3" fill="#f8ece5"/><rect x="291.2" y="448.7" width="3.3" height="3.3" fill="#f8ede5"/><rect x="294.2" y="448.7" width="3.3" height="3.3" fill="#f8ede6"/><rect x="297.2" y="448.7" width="3.3" height="3.3" fill="#f8ede6"/><rect x="300.2" y="448.7" width="3.3" height="3.3" fill="#f8ede6"/><rect x="303.2" y="448.7" width="3.3" height="3.3" fill="#f8ede6"/><rect x="306.2" y="448.7" width="3.3" height="3.3" fill="#f8ece5"/><rect x="309.2" y="448.7" width="3.3" height="3.3" fill="#f8ece3"/><rect x="312.2" y="448.7" width="3.3" height="3.3" fill="#f9ebe2"/><rect x="315.2" y="448.7" width="3.3" height="3.3" fill="#f9eae1"/><rect x="318.2" y="448.7" width="3.3" height="3.3" fill="#f9eae0"/><rect x="321.2" y="448.7" width="3.3" height="3.3" fill="#f9e9e0"/><rect x="324.2" y="448.7" width="3.3" height="3.3" fill="#f9e9df"/><rect x="327.2" y="448.7" width="3.3" height="3.3" fill="#f9e9df"/><rect x="330.2" y="448.7" width="3.3" height="3.3" fill="#f9e9df"/><rect x="333.2" y="448.7" width="3.3" height="3.3" fill="#f9e9df"/><rect x="336.2" y="448.7" width="3.3" height="3.3" fill="#f9e9df"/><rect x="339.2" y="448.7" width="3.3" height="3.3" fill="#f9e9df"/><rect x="342.2" y="448.7" width="3.3" height="3.3" fill="#f9e9df"/><rect x="345.2" y="448.7" width="3.3" height="3.3" fill="#f9e9df"/></g>
<rect x="{HX0}" y="{HY0}" width="{HX1-HX0}" height="{HY1-HY0}" fill="none" stroke="#aaa" stroke-width="0.6"/>
<rect x="349.2" y="328.7" width="10.8" height="118.1" fill="url(#cbar)" stroke="#aaa" stroke-width="0.6"/>
<g font-size="7.2" fill="#444"><text x="362.5" y="331.2">2</text><text x="362.5" y="346.0">1.5</text><text x="362.5" y="360.7">1</text><text x="362.5" y="375.5">0.5</text><text x="362.5" y="390.2">0</text><text x="362.5" y="405.0">−0.5</text><text x="362.5" y="419.8">−1</text><text x="362.5" y="434.5">−1.5</text><text x="362.5" y="449.3">−2</text></g>
<g font-size="7.2" fill="#444" text-anchor="end"><text x="219.5" y="331.2">150</text><text x="219.5" y="350.9">100</text><text x="219.5" y="370.6">50</text><text x="219.5" y="390.2">0</text><text x="219.5" y="409.9">−50</text><text x="219.5" y="429.6">−100</text><text x="219.5" y="449.3">−150</text></g>
<g font-size="7.2" fill="#444" text-anchor="middle"><text x="240" y="456.5">0.36</text><text x="271.6" y="456.5">0.4</text><text x="301.6" y="456.5">0.44</text><text x="333.1" y="456.5">0.48</text></g>
<text x="284" y="467.5" font-size="9" fill="#444" text-anchor="middle">Energy (<tspan font-style="italic">eV</tspan>)</text>
<text transform="translate(205.8,387.5) rotate(-90)" font-size="11.5" fill="#444" text-anchor="middle"><tspan font-style="italic">V</tspan><tspan font-size="7" font-style="italic" dy="2">g</tspan><tspan dy="-2"> (</tspan><tspan font-style="italic">V</tspan>)</text>
<text x="340.5" y="341" font-size="9.8" fill="#333" text-anchor="end">Δ<tspan font-style="italic">T</tspan>/<tspan font-style="italic">T</tspan>(0) [%]</text>
<text x="339" y="351" font-size="8" font-weight="bold" fill="#222" text-anchor="end">9 nm</text>
<rect x="420.8" y="326.4" width="112.59999999999997" height="39.400000000000034" fill="none" stroke="#999" stroke-width="0.8"/><g font-size="6" fill="#666" text-anchor="end"><text x="419.3" y="329.70000000000005">0.44</text><line x1="420.8" y1="327.6" x2="422.3" y2="327.6" stroke="#999" stroke-width="0.6"/><text x="419.3" y="338.70000000000005">0.43</text><line x1="420.8" y1="336.6" x2="422.3" y2="336.6" stroke="#999" stroke-width="0.6"/><text x="419.3" y="348.0">0.42</text><line x1="420.8" y1="345.9" x2="422.3" y2="345.9" stroke="#999" stroke-width="0.6"/><text x="419.3" y="357.6">0.41</text><line x1="420.8" y1="355.5" x2="422.3" y2="355.5" stroke="#999" stroke-width="0.6"/></g><circle cx="423.9" cy="353.9" r="1.95" fill="#2e7a34" stroke="#333" stroke-width="0.3"/><circle cx="432.2" cy="357" r="1.95" fill="#2e7a34" stroke="#333" stroke-width="0.3"/><circle cx="439.2" cy="345.9" r="1.95" fill="#2e7a34" stroke="#333" stroke-width="0.3"/><circle cx="446.6" cy="345.9" r="1.95" fill="#2e7a34" stroke="#333" stroke-width="0.3"/><circle cx="454.3" cy="343" r="1.95" fill="#2e7a34" stroke="#333" stroke-width="0.3"/><circle cx="461.7" cy="341.4" r="1.95" fill="#2e7a34" stroke="#333" stroke-width="0.3"/><circle cx="469" cy="345.9" r="1.95" fill="#2e7a34" stroke="#333" stroke-width="0.3"/><rect x="475.09999999999997" y="335.59999999999997" width="3.2" height="3.2" fill="#2e7a34"/><circle cx="484.1" cy="328.2" r="1.95" fill="#2e7a34" stroke="#333" stroke-width="0.3"/><circle cx="491.4" cy="347.5" r="1.95" fill="#2e7a34" stroke="#333" stroke-width="0.3"/><circle cx="499.1" cy="344.6" r="1.95" fill="#2e7a34" stroke="#333" stroke-width="0.3"/><circle cx="506.5" cy="351" r="1.95" fill="#2e7a34" stroke="#333" stroke-width="0.3"/><circle cx="513.8" cy="350" r="1.95" fill="#2e7a34" stroke="#333" stroke-width="0.3"/><circle cx="521.5" cy="352.6" r="1.95" fill="#2e7a34" stroke="#333" stroke-width="0.3"/><circle cx="528.9" cy="358" r="1.95" fill="#2e7a34" stroke="#333" stroke-width="0.3"/><text x="426.3" y="336.4" font-size="7" font-weight="bold" fill="#222">12 nm</text><text transform="translate(400,346.1) rotate(-90)" font-size="9" fill="#444" text-anchor="middle"><tspan font-style="italic">E</tspan><tspan font-size="5.5" dy="2">22</tspan><tspan dy="-2"> (eV)</tspan></text>
<rect x="420.8" y="368.4" width="112.59999999999997" height="39.5" fill="none" stroke="#999" stroke-width="0.8"/><g font-size="6" fill="#666" text-anchor="end"><text x="419.3" y="370.40000000000003">0.36</text><line x1="420.8" y1="368.3" x2="422.3" y2="368.3" stroke="#999" stroke-width="0.6"/><text x="419.3" y="380.0">0.35</text><line x1="420.8" y1="377.9" x2="422.3" y2="377.9" stroke="#999" stroke-width="0.6"/><text x="419.3" y="389.90000000000003">0.34</text><line x1="420.8" y1="387.8" x2="422.3" y2="387.8" stroke="#999" stroke-width="0.6"/><text x="419.3" y="399.5">0.33</text><line x1="420.8" y1="397.4" x2="422.3" y2="397.4" stroke="#999" stroke-width="0.6"/></g><circle cx="423.9" cy="392.6" r="1.95" fill="#2f6ab2" stroke="#333" stroke-width="0.3"/><circle cx="432.2" cy="387.8" r="1.95" fill="#2f6ab2" stroke="#333" stroke-width="0.3"/><circle cx="439.2" cy="391.6" r="1.95" fill="#2f6ab2" stroke="#333" stroke-width="0.3"/><circle cx="446.6" cy="390.7" r="1.95" fill="#2f6ab2" stroke="#333" stroke-width="0.3"/><circle cx="454.3" cy="386.8" r="1.95" fill="#2f6ab2" stroke="#333" stroke-width="0.3"/><circle cx="461.7" cy="386.8" r="1.95" fill="#2f6ab2" stroke="#333" stroke-width="0.3"/><circle cx="469" cy="390.7" r="1.95" fill="#2f6ab2" stroke="#333" stroke-width="0.3"/><rect x="475.09999999999997" y="386.2" width="3.2" height="3.2" fill="#2f6ab2"/><circle cx="484.1" cy="385.9" r="1.95" fill="#2f6ab2" stroke="#333" stroke-width="0.3"/><circle cx="491.4" cy="385.9" r="1.95" fill="#2f6ab2" stroke="#333" stroke-width="0.3"/><circle cx="499.1" cy="388.4" r="1.95" fill="#2f6ab2" stroke="#333" stroke-width="0.3"/><circle cx="506.5" cy="385.2" r="1.95" fill="#2f6ab2" stroke="#333" stroke-width="0.3"/><circle cx="513.8" cy="384.3" r="1.95" fill="#2f6ab2" stroke="#333" stroke-width="0.3"/><circle cx="521.5" cy="387.8" r="1.95" fill="#2f6ab2" stroke="#333" stroke-width="0.3"/><circle cx="528.9" cy="387.8" r="1.95" fill="#2f6ab2" stroke="#333" stroke-width="0.3"/><text x="426.3" y="378.4" font-size="7" font-weight="bold" fill="#222">12 nm</text><text transform="translate(400,388.15) rotate(-90)" font-size="9" fill="#444" text-anchor="middle"><tspan font-style="italic">E</tspan><tspan font-size="5.5" dy="2">11</tspan><tspan dy="-2"> (eV)</tspan></text>
<rect x="420.8" y="410.4" width="112.59999999999997" height="38.60000000000002" fill="none" stroke="#999" stroke-width="0.8"/><g font-size="6" fill="#666" text-anchor="end"><text x="419.3" y="413.0">0.4</text><line x1="420.8" y1="410.9" x2="422.3" y2="410.9" stroke="#999" stroke-width="0.6"/><text x="419.3" y="422.6">0.39</text><line x1="420.8" y1="420.5" x2="422.3" y2="420.5" stroke="#999" stroke-width="0.6"/><text x="419.3" y="432.20000000000005">0.38</text><line x1="420.8" y1="430.1" x2="422.3" y2="430.1" stroke="#999" stroke-width="0.6"/><text x="419.3" y="441.1">0.37</text><line x1="420.8" y1="439" x2="422.3" y2="439" stroke="#999" stroke-width="0.6"/></g><circle cx="423.9" cy="431" r="1.95" fill="#a82828" stroke="#333" stroke-width="0.3"/><circle cx="432.2" cy="429.1" r="1.95" fill="#a82828" stroke="#333" stroke-width="0.3"/><circle cx="439.2" cy="431" r="1.95" fill="#a82828" stroke="#333" stroke-width="0.3"/><circle cx="446.6" cy="426.9" r="1.95" fill="#a82828" stroke="#333" stroke-width="0.3"/><circle cx="454.3" cy="432.3" r="1.95" fill="#a82828" stroke="#333" stroke-width="0.3"/><circle cx="461.7" cy="426.9" r="1.95" fill="#a82828" stroke="#333" stroke-width="0.3"/><circle cx="469" cy="433.9" r="1.95" fill="#a82828" stroke="#333" stroke-width="0.3"/><rect x="475.09999999999997" y="433.29999999999995" width="3.2" height="3.2" fill="#a82828"/><circle cx="484.1" cy="435.8" r="1.95" fill="#a82828" stroke="#333" stroke-width="0.3"/><circle cx="491.4" cy="435.8" r="1.95" fill="#a82828" stroke="#333" stroke-width="0.3"/><circle cx="499.1" cy="437.1" r="1.95" fill="#a82828" stroke="#333" stroke-width="0.3"/><circle cx="506.5" cy="430.7" r="1.95" fill="#a82828" stroke="#333" stroke-width="0.3"/><circle cx="513.8" cy="434.9" r="1.95" fill="#a82828" stroke="#333" stroke-width="0.3"/><circle cx="521.5" cy="428.5" r="1.95" fill="#a82828" stroke="#333" stroke-width="0.3"/><circle cx="528.9" cy="426.9" r="1.95" fill="#a82828" stroke="#333" stroke-width="0.3"/><text x="426.3" y="420.4" font-size="7" font-weight="bold" fill="#222">9 nm</text><text transform="translate(400,429.7) rotate(-90)" font-size="9" fill="#444" text-anchor="middle"><tspan font-style="italic">E</tspan><tspan font-size="5.5" dy="2">11</tspan><tspan dy="-2"> (eV)</tspan></text>
<g font-size="6.8" fill="#555" text-anchor="middle"><text x="421" y="455.5">−150</text><text x="439.2" y="455.5">−100</text><text x="457.8" y="455.5">−50</text><text x="476.7" y="455.5">0</text><text x="495.3" y="455.5">50</text><text x="513.8" y="455.5">100</text><text x="532" y="455.5">150</text></g>
<text x="477" y="466" font-size="10" fill="#444" text-anchor="middle"><tspan font-style="italic">V</tspan><tspan font-size="6.5" font-style="italic" dy="2">g</tspan><tspan dy="-2"> (</tspan><tspan font-style="italic">V</tspan>)</text>
</g>
<!-- ============ PANEL D ============ -->
<g id="D">
<text x="11.8" y="494.1" font-size="9.4" font-weight="bold">D</text>
<defs>
<linearGradient id="brownEl" x1="0" y1="0" x2="1" y2="1">
<stop offset="0" stop-color="#8a4a1a"/><stop offset="0.5" stop-color="#c07a40"/><stop offset="1" stop-color="#8a4a1a"/></linearGradient>
<linearGradient id="copperEl" x1="0" y1="0" x2="1" y2="1">
<stop offset="0" stop-color="#c67a40"/><stop offset="0.5" stop-color="#f0b888"/><stop offset="1" stop-color="#b86a30"/></linearGradient>
<linearGradient id="beam" x1="0" y1="0" x2="1" y2="0">
<stop offset="0" stop-color="#d8a888"/><stop offset="0.45" stop-color="#fbe6d4"/><stop offset="1" stop-color="#e0b090"/></linearGradient>
<pattern id="greenLat" width="3" height="2.2" patternUnits="userSpaceOnUse" patternTransform="rotate(17)">
<rect width="3" height="2.2" fill="#b8d890"/><circle cx="1.5" cy="1.1" r="0.7" fill="#6aa050"/></pattern>
<pattern id="blueLat" width="2.6" height="2.6" patternUnits="userSpaceOnUse" patternTransform="rotate(15)">
<rect width="2.6" height="2.6" fill="#3a70e0"/><circle cx="1.3" cy="1.3" r="0.8" fill="#0a2aa0"/></pattern>
<filter id="glow" x="-50%" y="-50%" width="200%" height="200%"><feGaussianBlur stdDeviation="1.2"/></filter>
</defs>
<!-- slab -->
<polygon points="5.4,557.9 223.8,629.2 267.7,584.5 268.6,589.8 223.8,636.4 180,622.2 140,610.5 60,585 8,566.5" fill="#484846"/>
<polygon points="223.8,629.2 267.7,584.5 268.6,589.8 223.8,636.4" fill="#555553"/>
<polygon points="5.4,557.9 47.9,518.6 267.7,584.5 223.8,629.2" fill="#22c4c0"/>
<line x1="5.4" y1="558.6" x2="223.8" y2="629.9" stroke="#8ab8b8" stroke-width="0.8"/>
<!-- waveguides input -->
<polygon points="38.6,535.5 58.8,538 72,546 92,551 92,554 70,549.5 57,541.5 38.6,539" fill="#4a4242"/>
<polygon points="29,544.5 48.3,550 66,552.6 92,556.5 92,559.5 64,556 47,553.5 29,548" fill="#4a4242"/>
<g stroke="#2a2a2a" stroke-width="0.6"><line x1="36" y1="540" x2="32" y2="545"/><line x1="40" y1="540.5" x2="36" y2="546"/><line x1="44" y1="541" x2="40" y2="547"/><line x1="48" y1="541.5" x2="44" y2="548"/></g>
<!-- waveguides output -->
<polygon points="190.7,582.1 215.1,584.4 246.5,592.8 246.5,596 214,587.4 190.7,585.8" fill="#4a4242"/>
<polygon points="190.7,585.8 205.8,595.6 236,604.9 236,607.9 203.5,599 190.7,588.6" fill="#4a4242"/>
<g stroke="#2a2a2a" stroke-width="0.7"><line x1="209" y1="590" x2="205" y2="596"/><line x1="213.5" y1="591" x2="209.5" y2="597.5"/><line x1="218" y1="592.2" x2="214" y2="599"/><line x1="222.5" y1="593.4" x2="218.5" y2="600.5"/><line x1="227" y1="594.6" x2="223" y2="602"/><line x1="231.5" y1="595.8" x2="227.5" y2="603.5"/></g>
<polygon points="87.4,540.3 131.6,552.4 139.7,545.9 139.7,548.2 131.6,555 87.4,543" fill="#6a3810"/>
<polygon points="94.6,533.9 139.7,545.9 131.6,552.4 87.4,540.3" fill="url(#brownEl)"/>
<polygon points="87.4,541.1 130,552.4 122,563.6 68,559.6" fill="url(#greenLat)" stroke="#7ab0e0" stroke-width="0.6" stroke-dasharray="1 0.6"/>
<polygon points="63.2,567.7 106.7,578.9 113.1,570.1 113.1,572.5 106.7,581.5 63.2,570.3" fill="#6a3810"/>
<polygon points="69.7,559.6 113.1,570.1 106.7,578.9 63.2,567.7" fill="url(#brownEl)"/>
<polygon points="133.6,566.2 197.6,574 190.7,593.7 129.7,574" fill="url(#blueLat)"/>
<g filter="url(#glow)" fill="#f8a0b8">
<circle cx="149.4" cy="573" r="2.6"/><circle cx="156.2" cy="576" r="2.6"/><circle cx="165.1" cy="579" r="2.6"/><circle cx="172" cy="580.9" r="2.6"/><circle cx="179.9" cy="583.9" r="2.6"/><circle cx="187.7" cy="585.4" r="2.6"/>
</g>
<polygon points="150.3,562.2 194.6,574 202.5,565.2 202.5,567.6 194.6,576.5 150.3,564.7" fill="#c8a878"/>
<polygon points="157.2,554.4 202.5,565.2 194.6,574 150.3,562.2" fill="#f6e6bc"/>
<polygon points="124.8,584.9 171,596.7 178.9,588.8 178.9,591.2 171,599.2 124.8,587.4" fill="#7a4418"/>
<polygon points="131.6,577 178.9,588.8 171,596.7 124.8,584.9" fill="url(#copperEl)"/>
<path d="M32.5,501.5 L43.5,527" stroke="url(#beam)" stroke-width="6.5" fill="none"/>
<path d="M41.5,523 C44,536 50,546 62,551" stroke="#f4b0b4" stroke-width="7" fill="none" opacity="0.85"/>
<polygon points="57.5,545 68,553.5 56,557.5" fill="#f4a8b0" opacity="0.9"/>
<path d="M118,566 L140,571" stroke="#f4a8b8" stroke-width="5" opacity="0.85"/>
<polygon points="139,567 145,571.5 138,575" fill="#f4a8b8"/>
<g font-size="6.5" font-weight="bold" fill="#1a2a2a">
<text x="46.3" y="519.5" font-size="6">Continuous</text>
<text x="47.6" y="527.8" font-size="6">wave input</text>
<text transform="translate(24,552) rotate(19)" font-size="5.8">Input grating</text>
<text transform="translate(21.5,560) rotate(19)" font-size="5.8">coupler</text>
<text transform="translate(68.5,577) rotate(17)" font-size="5.9">Modulator</text>
<text transform="translate(133.5,597) rotate(17)" font-size="5.9">Photodetector</text>
</g>
<g font-size="6.5" font-weight="bold" fill="#fff">
<text transform="translate(128.5,560) rotate(13)">Modulated</text>
<text transform="translate(131,568.5) rotate(13)">light</text>
</g>
<text transform="translate(162,562) rotate(13)" font-size="8" font-weight="bold" fill="#111">V<tspan font-size="5" dy="1.5">output</tspan></text>
<text transform="translate(122.5,518) rotate(8)" font-size="8.5" font-style="italic" fill="#111" stroke="#111" stroke-width="0.2">V<tspan font-size="5.5" dy="2.5">g</tspan></text>
<text transform="translate(178.5,530) rotate(12)" font-size="9" font-style="italic" fill="#111" stroke="#111" stroke-width="0.2">V<tspan font-size="5.8" dy="3">output</tspan></text>
<g stroke="#111" stroke-width="1.35" fill="none" stroke-linejoin="miter">
<polyline points="105.4,526.3 109.4,526.7 110.9,519.3 114.3,519.8 113.4,528.4 117,529 118.3,521.5 121.5,522 120.4,530.5 124.2,530.9 125.5,523.3 128.6,523.8 127.7,532.3 131.3,532.7 132.6,525.1 135.8,525.8 135.1,534.1 141.1,535.4"/>
<polyline points="166.7,541.5 170.7,541.9 172.5,534.8 176.1,535.2 175.2,543.7 178.8,544.3 180.1,537 183.7,537.4 182.8,545.9 186.4,546.6 187.7,538.8 191.3,539.4 190.4,548.2 194,548.8 195.3,541 198.9,541.6 198,550.4 202.9,551.3"/>
</g>
<g stroke="#111" stroke-width="0.8" stroke-dasharray="1.6 1" fill="none">
<line x1="119.2" y1="531" x2="116.3" y2="540.5"/>
<line x1="185.5" y1="564" x2="186.6" y2="553.5"/>
</g>
<polygon points="114.3,539.5 115.7,543.2 117.8,540.2" fill="#111"/>
<polygon points="185,553.8 186.8,550.4 188.4,554.2" fill="#111"/>
<rect x="301.3" y="481.5" width="99.30000000000001" height="90.70000000000005" fill="none" stroke="#666" stroke-width="0.8"/>
<path d="M301.3,563.6 C310,558.6 320,550.8 330,549.8 C340,548.8 346,547.8 353,545.0 C360,545.0 380,542.5 400.6,539.7" fill="none" stroke="#f8cece" stroke-width="1.1"/><path d="M301.3,559.6 C310,554.6 320,546.9 330,545.9 C340,544.9 346,543.9 353,544.6 C360,544.6 380,542.1 400.6,539.4" fill="none" stroke="#f4baba" stroke-width="1.1"/><path d="M301.3,554.7 C310,549.7 320,543.0 330,542.0 C340,541.0 346,540.0 353,543.1 C360,544.1 380,541.6 400.6,539.0" fill="none" stroke="#f0a4a4" stroke-width="1.1"/><path d="M301.3,548.8 C310,543.8 320,538.0 330,537.0 C340,536.0 346,535.0 353,537.7 C360,543.7 380,541.2 400.6,538.7" fill="none" stroke="#ec8e8e" stroke-width="1.1"/><path d="M301.3,544.9 C310,538.9 318,530.1 328,529.1 C334,528.6 343.5,528.6 346.5,532.1 C349.5,539.1 349,540 353,543.2 C360,543.2 380,540.8 400.6,538.3" fill="none" stroke="#e87a7a" stroke-width="1.1"/><path d="M301.3,540.0 C310,534.0 318,523.2 328,522.2 C334,521.7 342.7,521.7 345.7,525.2 C348.7,532.2 349,540 353,542.8 C360,542.8 380,540.3 400.6,537.9" fill="none" stroke="#e46868" stroke-width="1.1"/><path d="M301.3,536.0 C310,530.0 318,517.3 328,516.3 C334,515.8 341.9,515.8 344.9,519.3 C347.9,526.3 349,540 353,542.4 C360,542.4 380,539.9 400.6,537.6" fill="none" stroke="#e05656" stroke-width="1.1"/><path d="M301.3,533.0 C310,527.0 318,511.4 328,510.4 C334,509.9 341.1,509.9 344.1,513.4 C347.1,520.4 349,540 353,541.9 C360,541.9 380,539.4 400.6,537.2" fill="none" stroke="#dc4848" stroke-width="1.1"/><path d="M301.3,524.2 C310,518.2 318,504.5 328,503.5 C334,503.0 340.3,503.0 343.3,506.5 C346.3,513.5 349,540 353,541.5 C360,541.5 380,539.0 400.6,536.9" fill="none" stroke="#d83838" stroke-width="1.1"/><path d="M301.3,515.4 C310,509.4 318,499.0 328,498.0 C334,497.5 339.5,497.5 342.5,501.0 C345.5,508.0 349,540 353,541.0 C360,541.0 380,538.5 400.6,536.5" fill="none" stroke="#d42a2a" stroke-width="1.1"/><path d="M358.5,542 L359.5,557 L360.5,542" fill="none" stroke="#f0a8a8" stroke-width="0.9"/>
<path d="M327.5,557 C326,535 322,510 314,494" fill="none" stroke="#111" stroke-width="1.2" stroke-dasharray="2.5 1.6"/>
<polygon points="311.5,496 313.2,489.5 317,495" fill="#111"/>
<g font-size="9.5" fill="#222"><text x="304" y="490.8" font-size="8.6">Armchair (90°)</text><text x="367" y="492.5" font-size="9"><tspan font-style="italic">V</tspan><tspan font-size="6" font-style="italic" dy="1.5">g</tspan><tspan dy="-1.5"> = 0V</tspan></text><text x="351.3" y="521.5" font-size="8.6">Step: 10°</text><text x="305.8" y="568.5" font-size="8.7">Polarization: zigzag (0°)</text></g>
<g font-size="8.6" fill="#222" text-anchor="end"><text x="298.8" y="494.8">15</text><line x1="301.3" y1="491.7" x2="303.8" y2="491.7" stroke="#666" stroke-width="0.7"/><text x="298.8" y="512.9">10</text><line x1="301.3" y1="509.8" x2="303.8" y2="509.8" stroke="#666" stroke-width="0.7"/><text x="298.8" y="530.6">5</text><line x1="301.3" y1="527.5" x2="303.8" y2="527.5" stroke="#666" stroke-width="0.7"/><text x="298.8" y="548.1">0</text><line x1="301.3" y1="545" x2="303.8" y2="545" stroke="#666" stroke-width="0.7"/><text x="298.8" y="565.8000000000001">−5</text><line x1="301.3" y1="562.7" x2="303.8" y2="562.7" stroke="#666" stroke-width="0.7"/></g>
<g font-size="9.2" fill="#222" text-anchor="middle"><text x="310" y="581.8">2</text><line x1="310" y1="572.2" x2="310" y2="569.7" stroke="#666" stroke-width="0.7"/><text x="331.5" y="581.8">3</text><line x1="331.5" y1="572.2" x2="331.5" y2="569.7" stroke="#666" stroke-width="0.7"/><text x="353.9" y="581.8">4</text><line x1="353.9" y1="572.2" x2="353.9" y2="569.7" stroke="#666" stroke-width="0.7"/><text x="375.9" y="581.8">5</text><line x1="375.9" y1="572.2" x2="375.9" y2="569.7" stroke="#666" stroke-width="0.7"/><text x="398.2" y="581.8">6</text><line x1="398.2" y1="572.2" x2="398.2" y2="569.7" stroke="#666" stroke-width="0.7"/></g>
<text x="350.2" y="593" font-size="8.8" fill="#222" text-anchor="middle">Wavelength (μm)</text>
<text transform="translate(285.8,524) rotate(-90)" font-size="8.7" fill="#222" text-anchor="middle">Absorption (%)</text>
<rect x="284.3" y="635.8" width="115.9" height="12.9" fill="#e4d8de"/>
<text x="342" y="645" font-size="6" fill="#333" text-anchor="middle">SiO<tspan font-size="4" dy="1">2</tspan></text>
<rect x="327.2" y="626.6" width="28.7" height="9.8" fill="#30e8e0"/>
<text x="345" y="634" font-size="6.2" fill="#222" text-anchor="middle">Si waveguide</text>
<polygon points="284.3,605.7 308.6,605.7 315.8,610.6 408.8,610.6 408.8,616.3 284.3,616.3" fill="#c8c0e8"/>
<rect x="272.9" y="610" width="35.7" height="7.2" fill="#e08a58"/>
<text x="290.8" y="616" font-size="6.2" fill="#222" text-anchor="middle">Ground</text>
<rect x="315.8" y="604" width="88.7" height="6.6" fill="#f4f090"/>
<text x="357.3" y="609.5" font-size="6.2" fill="#222" text-anchor="middle">ITO gate</text>
<polygon points="373,598.6 403.1,598.6 411.7,607.7 423.1,607.7 423.1,613.5 408.8,613.5 400.2,604.9 373,604.9" fill="#9a4a10"/>
<text x="388" y="603.7" font-size="6.2" font-weight="bold" fill="#fff" text-anchor="middle">Gate</text>
<text x="349" y="615" font-size="5.5" fill="#222" text-anchor="middle">Al<tspan font-size="3.5" dy="1">2</tspan><tspan dy="-1">O</tspan><tspan font-size="3.5" dy="1">3</tspan></text>
<text x="337" y="621" font-size="5" fill="#222" text-anchor="middle">BP</text>
<polyline points="283.5,617.5 287.3,617.5 289.9,625 293.8,625 296.4,617.5 300.2,617.5 302.8,625 306.6,625 309.3,617.5 313.1,617.5 315.7,625 319.5,625 322.2,617.5 326.0,617.5 328.6,625 332.4,625 335.1,617.5 338.9,617.5 341.5,625 345.3,625 348.0,617.5 351.8,617.5 354.4,625 358.2,625 360.9,617.5 364.7,617.5 367.3,625 371.1,625 373.8,617.5 377.6,617.5 380.2,625 384.0,625 386.7,617.5 390.5,617.5 393.1,625 396.9,625 399.6,617.5" fill="none" stroke="#2030d8" stroke-width="0.9"/><circle cx="283.5" cy="617.5" r="1" fill="#1a28d0"/><circle cx="287.3" cy="617.5" r="1" fill="#1a28d0"/><circle cx="289.9" cy="625" r="1" fill="#1a28d0"/><circle cx="293.8" cy="625" r="1" fill="#1a28d0"/><circle cx="296.4" cy="617.5" r="1" fill="#1a28d0"/><circle cx="300.2" cy="617.5" r="1" fill="#1a28d0"/><circle cx="302.8" cy="625" r="1" fill="#1a28d0"/><circle cx="306.6" cy="625" r="1" fill="#1a28d0"/><circle cx="309.3" cy="617.5" r="1" fill="#1a28d0"/><circle cx="313.1" cy="617.5" r="1" fill="#1a28d0"/><circle cx="315.7" cy="625" r="1" fill="#1a28d0"/><circle cx="319.5" cy="625" r="1" fill="#1a28d0"/><circle cx="322.2" cy="617.5" r="1" fill="#1a28d0"/><circle cx="326.0" cy="617.5" r="1" fill="#1a28d0"/><circle cx="328.6" cy="625" r="1" fill="#1a28d0"/><circle cx="332.4" cy="625" r="1" fill="#1a28d0"/><circle cx="335.1" cy="617.5" r="1" fill="#1a28d0"/><circle cx="338.9" cy="617.5" r="1" fill="#1a28d0"/><circle cx="341.5" cy="625" r="1" fill="#1a28d0"/><circle cx="345.3" cy="625" r="1" fill="#1a28d0"/><circle cx="348.0" cy="617.5" r="1" fill="#1a28d0"/><circle cx="351.8" cy="617.5" r="1" fill="#1a28d0"/><circle cx="354.4" cy="625" r="1" fill="#1a28d0"/><circle cx="358.2" cy="625" r="1" fill="#1a28d0"/><circle cx="360.9" cy="617.5" r="1" fill="#1a28d0"/><circle cx="364.7" cy="617.5" r="1" fill="#1a28d0"/><circle cx="367.3" cy="625" r="1" fill="#1a28d0"/><circle cx="371.1" cy="625" r="1" fill="#1a28d0"/><circle cx="373.8" cy="617.5" r="1" fill="#1a28d0"/><circle cx="377.6" cy="617.5" r="1" fill="#1a28d0"/><circle cx="380.2" cy="625" r="1" fill="#1a28d0"/><circle cx="384.0" cy="625" r="1" fill="#1a28d0"/><circle cx="386.7" cy="617.5" r="1" fill="#1a28d0"/><circle cx="390.5" cy="617.5" r="1" fill="#1a28d0"/><circle cx="393.1" cy="625" r="1" fill="#1a28d0"/><circle cx="396.9" cy="625" r="1" fill="#1a28d0"/><circle cx="399.6" cy="617.5" r="1" fill="#1a28d0"/>
<rect x="459.2" y="481.1" width="82.80000000000001" height="146.5" fill="none" stroke="#222" stroke-width="1.1"/>
<g font-size="9.5" fill="#222" text-anchor="end"><text x="450.5" y="495.5">10</text><text x="458" y="490.5" font-size="6.5">−1</text><line x1="459.2" y1="492" x2="461.7" y2="492" stroke="#333" stroke-width="0.7"/><text x="450.5" y="529.2">10</text><text x="458" y="524.2" font-size="6.5">−2</text><line x1="459.2" y1="525.7" x2="461.7" y2="525.7" stroke="#333" stroke-width="0.7"/><text x="450.5" y="562.8">10</text><text x="458" y="557.8" font-size="6.5">−3</text><line x1="459.2" y1="559.3" x2="461.7" y2="559.3" stroke="#333" stroke-width="0.7"/><text x="450.5" y="597.0">10</text><text x="458" y="592.0" font-size="6.5">−4</text><line x1="459.2" y1="593.5" x2="461.7" y2="593.5" stroke="#333" stroke-width="0.7"/><text x="450.5" y="630.6">10</text><text x="458" y="625.6" font-size="6.5">−5</text><line x1="459.2" y1="627.1" x2="461.7" y2="627.1" stroke="#333" stroke-width="0.7"/></g>
<g font-size="9.5" fill="#222" text-anchor="middle"><text x="462.3" y="638">3.8</text><text x="487.7" y="638">3.9</text><text x="513" y="638">4.0</text><text x="538.4" y="638">4.1</text></g>
<text x="500" y="651.5" font-size="10" fill="#222" text-anchor="middle">Wavelength (μm)</text>
<text transform="translate(437.5,551) rotate(-90)" font-size="8.8" fill="#222" text-anchor="middle">Loss (dB/μm)</text>
<path d="M459.2,493 C470,496 490,500 506,503.2 C520,505 532,505.8 541.7,506.3" fill="none" stroke="#111" stroke-width="1.6"/>
<polyline points="459.2,488.0 459.9,489.0 460.6,489.1 461.3,489.9 462.0,490.4 462.7,489.8 463.4,490.1 464.1,492.0 464.8,491.4 465.5,491.7 466.2,493.5 466.9,492.8 467.6,493.8 468.3,493.4 469.0,494.0 469.7,493.4 470.4,494.6 471.1,495.3 471.8,495.0 472.5,495.7 473.2,495.9 473.9,495.1 474.6,496.6 475.3,496.6 476.0,496.4 476.7,496.2 477.4,498.0 478.1,497.5 478.8,498.2 479.5,498.8 480.2,498.7 480.9,499.4 481.6,498.7 482.3,499.7 483.0,499.3 483.7,500.4 484.4,500.6 485.1,499.5 485.8,499.8 486.5,500.2 487.2,501.8 487.9,501.1 488.6,501.7 489.3,501.4 490.0,502.0 490.7,502.0 491.4,502.2 492.1,502.9 492.8,503.1 493.5,503.9 494.2,503.7 494.9,504.4 495.6,504.5 496.3,505.0 497.0,504.7 497.7,504.0 498.4,505.5 499.1,505.9 499.8,506.0 500.5,505.7 501.2,506.2 501.9,505.5 502.6,506.8 503.3,506.6 504.0,506.3 504.7,506.2 505.4,507.8 506.1,508.3 506.8,506.8 507.5,508.3 508.2,507.7 508.9,507.4 509.6,507.8 510.3,508.8 511.0,509.2 511.7,507.8 512.4,509.0 513.1,508.1 513.8,509.5 514.5,508.9 515.2,510.1 515.9,510.4 516.6,509.7 517.3,510.7 518.0,509.7 518.7,509.3 519.4,510.4 520.1,509.5 520.8,509.9 521.5,510.3 522.2,510.8 522.9,510.1 523.6,510.0 524.3,511.6 525.0,510.7 525.7,511.9 526.4,511.9 527.1,511.1 527.8,511.3 528.5,511.5 529.2,511.8 529.9,511.9 530.6,511.7 531.3,511.7 532.0,512.1 532.7,511.2 533.4,510.9 534.1,511.3 534.8,510.3 535.5,510.2 536.2,511.3 536.9,510.2 537.6,510.0 538.3,508.8 539.0,509.3 539.7,509.3 540.4,508.1 541.1,508.9" fill="none" stroke="#ff8a10" stroke-width="3.4" stroke-linejoin="round"/><polyline points="459.2,488.0 459.9,489.0 460.6,489.1 461.3,489.9 462.0,490.4 462.7,489.8 463.4,490.1 464.1,492.0 464.8,491.4 465.5,491.7 466.2,493.5 466.9,492.8 467.6,493.8 468.3,493.4 469.0,494.0 469.7,493.4 470.4,494.6 471.1,495.3 471.8,495.0 472.5,495.7 473.2,495.9 473.9,495.1 474.6,496.6 475.3,496.6 476.0,496.4 476.7,496.2 477.4,498.0 478.1,497.5 478.8,498.2 479.5,498.8 480.2,498.7 480.9,499.4 481.6,498.7 482.3,499.7 483.0,499.3 483.7,500.4 484.4,500.6 485.1,499.5 485.8,499.8 486.5,500.2 487.2,501.8 487.9,501.1 488.6,501.7 489.3,501.4 490.0,502.0 490.7,502.0 491.4,502.2 492.1,502.9 492.8,503.1 493.5,503.9 494.2,503.7 494.9,504.4 495.6,504.5 496.3,505.0 497.0,504.7 497.7,504.0 498.4,505.5 499.1,505.9 499.8,506.0 500.5,505.7 501.2,506.2 501.9,505.5 502.6,506.8 503.3,506.6 504.0,506.3 504.7,506.2 505.4,507.8 506.1,508.3 506.8,506.8 507.5,508.3 508.2,507.7 508.9,507.4 509.6,507.8 510.3,508.8 511.0,509.2 511.7,507.8 512.4,509.0 513.1,508.1 513.8,509.5 514.5,508.9 515.2,510.1 515.9,510.4 516.6,509.7 517.3,510.7 518.0,509.7 518.7,509.3 519.4,510.4 520.1,509.5 520.8,509.9 521.5,510.3 522.2,510.8 522.9,510.1 523.6,510.0 524.3,511.6 525.0,510.7 525.7,511.9 526.4,511.9 527.1,511.1 527.8,511.3 528.5,511.5 529.2,511.8 529.9,511.9 530.6,511.7 531.3,511.7 532.0,512.1 532.7,511.2 533.4,510.9 534.1,511.3 534.8,510.3 535.5,510.2 536.2,511.3 536.9,510.2 537.6,510.0 538.3,508.8 539.0,509.3 539.7,509.3 540.4,508.1 541.1,508.9" fill="none" stroke="#e81a10" stroke-width="1.5"/><polyline points="460.5,581.8 461.2,580.2 461.9,580.8 462.6,580.0 463.3,580.0 464.0,578.9 464.7,579.1 465.4,578.7 466.1,576.9 466.8,576.6 467.5,577.4 468.2,577.6 468.9,575.8 469.6,575.8 470.3,575.7 471.0,575.1 471.7,575.1 472.4,574.9 473.1,574.9 473.8,575.3 474.5,574.7 475.2,574.7 475.9,575.5 476.6,573.9 477.3,574.9 478.0,575.2 478.7,574.3 479.4,574.0 480.1,575.1 480.8,573.9 481.5,573.8 482.2,574.2 482.9,574.7 483.6,573.4 484.3,573.8 485.0,573.8 485.7,574.7 486.4,573.9 487.1,574.7 487.8,573.2 488.5,573.5 489.2,574.1 489.9,574.5 490.6,573.5 491.3,573.0 492.0,572.7 492.7,573.4 493.4,572.7 494.1,573.8 494.8,573.8 495.5,572.4 496.2,572.5 496.9,573.5 497.6,573.1 498.3,573.4 499.0,572.4 499.7,571.9 500.4,572.1 501.1,573.0 501.8,571.9 502.5,572.0 503.2,572.0 503.9,572.0 504.6,571.9 505.3,572.8 506.0,571.2 506.7,570.9 507.4,572.7 508.1,572.5 508.8,572.6 509.5,571.5 510.2,572.4 510.9,572.3 511.6,570.9 512.3,571.8 513.0,572.0 513.7,571.6 514.4,571.2 515.1,570.7 515.8,570.7 516.5,570.4 517.2,570.1 517.9,571.0 518.6,570.4 519.3,571.3 520.0,569.8 520.7,571.4 521.4,570.9 522.1,571.3 522.8,571.2 523.5,571.2 524.2,570.5 524.9,569.3 525.6,570.8 526.3,569.6 527.0,569.8 527.7,570.5 528.4,570.2 529.1,569.9 529.8,570.9 530.5,570.2 531.2,569.7 531.9,569.5 532.6,570.6 533.3,569.8 534.0,570.4 534.7,569.5 535.4,569.0 536.1,569.4 536.8,569.7 537.5,568.1 538.2,569.0 538.9,569.0 539.6,568.5 540.3,568.2 541.0,566.3" fill="none" stroke="#1a1aee" stroke-width="3" stroke-linejoin="round"/><ellipse cx="483.9" cy="497.5" rx="7.6" ry="5.1" fill="none" stroke="#777" stroke-width="0.8" stroke-dasharray="1.8 1.2"/>
<path d="M459.2,607.4 L541.7,590.4" fill="none" stroke="#18a8e8" stroke-width="1.6" stroke-dasharray="5 2 1.5 2"/>
<path d="M477.1,567.8 C472,568 469.4,572 469.4,578 L469.4,601 C470,607 475,609 479,608.6 C483,608 486,606 487.3,604.4" fill="none" stroke="#777" stroke-width="0.8" stroke-dasharray="1.8 1.2"/>
<rect x="464.3" y="537.2" width="44.2" height="12.2" fill="#fff" stroke="#999" stroke-width="0.6"/>
<g font-size="9.5" fill="#222"><text x="512" y="500">Sim</text><text x="461" y="518.8" font-size="10">BP-induced</text><text x="520.4" y="525">Exp</text><text x="466.5" y="546.5">TE mode</text><text x="496.6" y="567">Exp</text><text x="509.4" y="605.2">Sim</text><text x="461" y="620.5" font-size="10.2">WG propagation</text></g>
</g>
</svg>
</body></html>
